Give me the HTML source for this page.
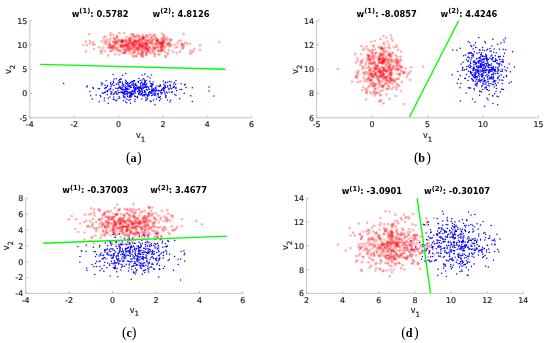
<!DOCTYPE html><html><head><meta charset="utf-8"><style>html,body{margin:0;padding:0;background:#fff;overflow:hidden}svg{display:block}</style></head><body><svg width="550" height="343" viewBox="0 0 550 343">
<defs><filter id="bl" x="-5%" y="-5%" width="110%" height="110%"><feGaussianBlur stdDeviation="0.35"/></filter></defs><rect width="550" height="343" fill="#fff"/>
<g fill="#ff0010" fill-opacity="0.29" filter="url(#bl)">
<circle cx="149.8" cy="40.5" r="1.35"/><circle cx="149.5" cy="51.7" r="1.35"/><circle cx="162.6" cy="42.5" r="1.35"/><circle cx="129.7" cy="41.7" r="1.35"/><circle cx="150.2" cy="43.3" r="1.35"/><circle cx="142.6" cy="41.9" r="1.35"/><circle cx="125.2" cy="45.7" r="1.35"/><circle cx="130.9" cy="41.6" r="1.35"/><circle cx="142.8" cy="46.4" r="1.35"/><circle cx="124.1" cy="46.2" r="1.35"/><circle cx="142.1" cy="46.3" r="1.35"/><circle cx="171.4" cy="39.5" r="1.35"/><circle cx="146.4" cy="54.9" r="1.35"/><circle cx="138.0" cy="47.1" r="1.35"/><circle cx="146.8" cy="43.7" r="1.35"/><circle cx="190.2" cy="50.7" r="1.35"/><circle cx="133.3" cy="34.0" r="1.35"/><circle cx="156.7" cy="41.3" r="1.35"/><circle cx="130.2" cy="53.6" r="1.35"/><circle cx="145.8" cy="44.2" r="1.35"/><circle cx="114.0" cy="48.5" r="1.35"/><circle cx="140.3" cy="49.8" r="1.35"/><circle cx="139.7" cy="44.3" r="1.35"/><circle cx="142.7" cy="47.5" r="1.35"/><circle cx="155.5" cy="40.1" r="1.35"/><circle cx="149.2" cy="49.2" r="1.35"/><circle cx="158.6" cy="47.5" r="1.35"/><circle cx="162.0" cy="50.5" r="1.35"/><circle cx="162.8" cy="44.9" r="1.35"/><circle cx="113.5" cy="46.5" r="1.35"/><circle cx="143.2" cy="43.4" r="1.35"/><circle cx="119.6" cy="50.7" r="1.35"/><circle cx="146.5" cy="47.3" r="1.35"/><circle cx="147.3" cy="40.8" r="1.35"/><circle cx="104.4" cy="43.5" r="1.35"/><circle cx="169.8" cy="46.4" r="1.35"/><circle cx="123.5" cy="40.8" r="1.35"/><circle cx="147.7" cy="40.1" r="1.35"/><circle cx="134.1" cy="52.7" r="1.35"/><circle cx="139.4" cy="47.2" r="1.35"/><circle cx="159.6" cy="43.8" r="1.35"/><circle cx="104.8" cy="51.2" r="1.35"/><circle cx="162.1" cy="41.2" r="1.35"/><circle cx="127.3" cy="44.8" r="1.35"/><circle cx="152.1" cy="42.3" r="1.35"/><circle cx="161.9" cy="43.5" r="1.35"/><circle cx="139.8" cy="46.2" r="1.35"/><circle cx="166.0" cy="56.8" r="1.35"/><circle cx="138.8" cy="44.7" r="1.35"/><circle cx="109.5" cy="43.1" r="1.35"/><circle cx="127.1" cy="40.2" r="1.35"/><circle cx="139.1" cy="41.3" r="1.35"/><circle cx="169.7" cy="42.8" r="1.35"/><circle cx="122.0" cy="52.9" r="1.35"/><circle cx="181.9" cy="45.4" r="1.35"/><circle cx="126.2" cy="44.1" r="1.35"/><circle cx="137.6" cy="40.3" r="1.35"/><circle cx="142.7" cy="44.8" r="1.35"/><circle cx="125.7" cy="42.3" r="1.35"/><circle cx="118.4" cy="41.3" r="1.35"/><circle cx="176.7" cy="52.9" r="1.35"/><circle cx="85.7" cy="41.6" r="1.35"/><circle cx="200.0" cy="50.1" r="1.35"/><circle cx="113.4" cy="41.7" r="1.35"/><circle cx="122.8" cy="47.5" r="1.35"/><circle cx="134.0" cy="42.0" r="1.35"/><circle cx="132.7" cy="43.4" r="1.35"/><circle cx="137.9" cy="49.3" r="1.35"/><circle cx="134.6" cy="49.9" r="1.35"/><circle cx="142.1" cy="50.8" r="1.35"/><circle cx="117.0" cy="37.1" r="1.35"/><circle cx="140.7" cy="45.1" r="1.35"/><circle cx="153.6" cy="47.1" r="1.35"/><circle cx="136.7" cy="42.6" r="1.35"/><circle cx="148.4" cy="51.0" r="1.35"/><circle cx="160.9" cy="48.0" r="1.35"/><circle cx="117.9" cy="49.6" r="1.35"/><circle cx="133.0" cy="36.2" r="1.35"/><circle cx="115.2" cy="44.0" r="1.35"/><circle cx="93.2" cy="44.8" r="1.35"/><circle cx="162.4" cy="46.1" r="1.35"/><circle cx="127.6" cy="43.6" r="1.35"/><circle cx="157.9" cy="41.3" r="1.35"/><circle cx="186.9" cy="43.7" r="1.35"/><circle cx="128.4" cy="45.5" r="1.35"/><circle cx="140.3" cy="44.3" r="1.35"/><circle cx="141.3" cy="43.9" r="1.35"/><circle cx="103.9" cy="40.4" r="1.35"/><circle cx="128.8" cy="51.1" r="1.35"/><circle cx="156.5" cy="37.8" r="1.35"/><circle cx="153.2" cy="44.0" r="1.35"/><circle cx="120.7" cy="50.8" r="1.35"/><circle cx="162.0" cy="50.9" r="1.35"/><circle cx="124.2" cy="44.4" r="1.35"/><circle cx="106.5" cy="43.9" r="1.35"/><circle cx="131.5" cy="38.3" r="1.35"/><circle cx="163.9" cy="35.7" r="1.35"/><circle cx="142.9" cy="53.4" r="1.35"/><circle cx="167.2" cy="43.9" r="1.35"/><circle cx="154.4" cy="50.5" r="1.35"/><circle cx="183.6" cy="34.1" r="1.35"/><circle cx="117.7" cy="42.8" r="1.35"/><circle cx="126.6" cy="45.0" r="1.35"/><circle cx="113.1" cy="34.9" r="1.35"/><circle cx="119.9" cy="46.4" r="1.35"/><circle cx="153.4" cy="48.3" r="1.35"/><circle cx="136.5" cy="47.8" r="1.35"/><circle cx="138.9" cy="51.0" r="1.35"/><circle cx="132.0" cy="45.9" r="1.35"/><circle cx="134.3" cy="44.5" r="1.35"/><circle cx="135.3" cy="40.8" r="1.35"/><circle cx="134.6" cy="45.6" r="1.35"/><circle cx="126.8" cy="47.6" r="1.35"/><circle cx="113.1" cy="42.1" r="1.35"/><circle cx="115.9" cy="48.8" r="1.35"/><circle cx="150.1" cy="42.7" r="1.35"/><circle cx="132.8" cy="55.6" r="1.35"/><circle cx="151.5" cy="43.4" r="1.35"/><circle cx="109.8" cy="40.7" r="1.35"/><circle cx="126.0" cy="50.8" r="1.35"/><circle cx="144.1" cy="45.8" r="1.35"/><circle cx="146.6" cy="53.4" r="1.35"/><circle cx="183.2" cy="48.0" r="1.35"/><circle cx="106.9" cy="41.5" r="1.35"/><circle cx="133.9" cy="43.1" r="1.35"/><circle cx="134.2" cy="45.1" r="1.35"/><circle cx="147.5" cy="48.8" r="1.35"/><circle cx="157.4" cy="47.3" r="1.35"/><circle cx="122.1" cy="44.4" r="1.35"/><circle cx="152.1" cy="46.0" r="1.35"/><circle cx="122.3" cy="41.5" r="1.35"/><circle cx="101.8" cy="50.3" r="1.35"/><circle cx="142.8" cy="52.1" r="1.35"/><circle cx="142.6" cy="45.1" r="1.35"/><circle cx="162.4" cy="49.7" r="1.35"/><circle cx="127.7" cy="43.1" r="1.35"/><circle cx="85.9" cy="51.4" r="1.35"/><circle cx="126.0" cy="48.7" r="1.35"/><circle cx="161.6" cy="45.0" r="1.35"/><circle cx="101.4" cy="41.5" r="1.35"/><circle cx="161.4" cy="47.2" r="1.35"/><circle cx="135.5" cy="42.2" r="1.35"/><circle cx="121.2" cy="42.5" r="1.35"/><circle cx="146.5" cy="48.4" r="1.35"/><circle cx="110.2" cy="46.0" r="1.35"/><circle cx="122.0" cy="39.5" r="1.35"/><circle cx="145.2" cy="40.7" r="1.35"/><circle cx="145.0" cy="43.4" r="1.35"/><circle cx="124.1" cy="41.3" r="1.35"/><circle cx="182.6" cy="46.5" r="1.35"/><circle cx="128.4" cy="45.7" r="1.35"/><circle cx="131.0" cy="48.6" r="1.35"/><circle cx="145.1" cy="46.4" r="1.35"/><circle cx="174.7" cy="44.8" r="1.35"/><circle cx="149.3" cy="39.8" r="1.35"/><circle cx="135.1" cy="37.2" r="1.35"/><circle cx="127.5" cy="49.1" r="1.35"/><circle cx="133.6" cy="45.4" r="1.35"/><circle cx="110.0" cy="45.0" r="1.35"/><circle cx="103.9" cy="37.4" r="1.35"/><circle cx="140.1" cy="48.2" r="1.35"/><circle cx="121.2" cy="46.9" r="1.35"/><circle cx="136.9" cy="50.4" r="1.35"/><circle cx="121.0" cy="45.8" r="1.35"/><circle cx="130.1" cy="39.8" r="1.35"/><circle cx="167.9" cy="44.7" r="1.35"/><circle cx="152.7" cy="51.9" r="1.35"/><circle cx="156.5" cy="45.0" r="1.35"/><circle cx="153.0" cy="36.3" r="1.35"/><circle cx="90.0" cy="43.4" r="1.35"/><circle cx="116.9" cy="41.7" r="1.35"/><circle cx="112.0" cy="47.5" r="1.35"/><circle cx="146.6" cy="41.6" r="1.35"/><circle cx="143.6" cy="49.0" r="1.35"/><circle cx="129.3" cy="40.1" r="1.35"/><circle cx="141.8" cy="53.8" r="1.35"/><circle cx="161.2" cy="42.6" r="1.35"/><circle cx="161.8" cy="46.6" r="1.35"/><circle cx="160.8" cy="50.5" r="1.35"/><circle cx="154.9" cy="47.4" r="1.35"/><circle cx="157.3" cy="39.5" r="1.35"/><circle cx="125.2" cy="45.1" r="1.35"/><circle cx="142.8" cy="38.5" r="1.35"/><circle cx="158.1" cy="51.3" r="1.35"/><circle cx="152.4" cy="40.9" r="1.35"/><circle cx="190.3" cy="53.7" r="1.35"/><circle cx="129.7" cy="37.7" r="1.35"/><circle cx="111.1" cy="51.2" r="1.35"/><circle cx="153.7" cy="39.4" r="1.35"/><circle cx="126.7" cy="42.0" r="1.35"/><circle cx="144.6" cy="36.8" r="1.35"/><circle cx="141.9" cy="39.6" r="1.35"/><circle cx="121.4" cy="45.8" r="1.35"/><circle cx="139.7" cy="38.8" r="1.35"/><circle cx="155.1" cy="48.8" r="1.35"/><circle cx="157.5" cy="40.7" r="1.35"/><circle cx="139.4" cy="46.2" r="1.35"/><circle cx="137.5" cy="53.8" r="1.35"/><circle cx="146.2" cy="43.6" r="1.35"/><circle cx="122.2" cy="40.9" r="1.35"/><circle cx="110.7" cy="47.8" r="1.35"/><circle cx="131.1" cy="34.3" r="1.35"/><circle cx="105.5" cy="41.8" r="1.35"/><circle cx="163.4" cy="42.8" r="1.35"/><circle cx="168.9" cy="50.2" r="1.35"/><circle cx="90.0" cy="40.8" r="1.35"/><circle cx="114.7" cy="46.6" r="1.35"/><circle cx="115.1" cy="39.2" r="1.35"/><circle cx="161.6" cy="48.7" r="1.35"/><circle cx="162.5" cy="44.2" r="1.35"/><circle cx="138.8" cy="44.5" r="1.35"/><circle cx="137.3" cy="41.6" r="1.35"/><circle cx="149.0" cy="46.7" r="1.35"/><circle cx="164.9" cy="48.1" r="1.35"/><circle cx="148.5" cy="42.6" r="1.35"/><circle cx="175.6" cy="47.5" r="1.35"/><circle cx="181.7" cy="43.9" r="1.35"/><circle cx="137.5" cy="48.4" r="1.35"/><circle cx="155.3" cy="44.6" r="1.35"/><circle cx="116.8" cy="50.8" r="1.35"/><circle cx="129.3" cy="48.4" r="1.35"/><circle cx="166.8" cy="37.5" r="1.35"/><circle cx="161.7" cy="42.9" r="1.35"/><circle cx="132.2" cy="44.5" r="1.35"/><circle cx="162.1" cy="33.5" r="1.35"/><circle cx="162.7" cy="46.3" r="1.35"/><circle cx="142.8" cy="47.4" r="1.35"/><circle cx="124.1" cy="45.8" r="1.35"/><circle cx="146.4" cy="35.1" r="1.35"/><circle cx="143.1" cy="37.6" r="1.35"/><circle cx="182.2" cy="44.4" r="1.35"/><circle cx="178.6" cy="41.0" r="1.35"/><circle cx="132.4" cy="43.4" r="1.35"/><circle cx="142.5" cy="46.1" r="1.35"/><circle cx="137.4" cy="44.1" r="1.35"/><circle cx="151.8" cy="49.5" r="1.35"/><circle cx="141.7" cy="52.9" r="1.35"/><circle cx="147.9" cy="41.5" r="1.35"/><circle cx="145.7" cy="43.3" r="1.35"/><circle cx="155.4" cy="48.4" r="1.35"/><circle cx="136.5" cy="42.1" r="1.35"/><circle cx="164.8" cy="42.7" r="1.35"/><circle cx="200.1" cy="45.3" r="1.35"/><circle cx="164.7" cy="38.1" r="1.35"/><circle cx="138.9" cy="49.2" r="1.35"/><circle cx="115.0" cy="44.0" r="1.35"/><circle cx="167.2" cy="43.4" r="1.35"/><circle cx="145.9" cy="46.8" r="1.35"/><circle cx="154.7" cy="56.2" r="1.35"/><circle cx="147.2" cy="44.7" r="1.35"/><circle cx="110.7" cy="33.3" r="1.35"/><circle cx="110.3" cy="50.6" r="1.35"/><circle cx="114.6" cy="38.9" r="1.35"/><circle cx="121.7" cy="41.3" r="1.35"/><circle cx="155.3" cy="43.4" r="1.35"/><circle cx="112.1" cy="48.1" r="1.35"/><circle cx="180.1" cy="51.7" r="1.35"/><circle cx="123.0" cy="45.7" r="1.35"/><circle cx="160.4" cy="43.5" r="1.35"/><circle cx="158.8" cy="50.5" r="1.35"/><circle cx="163.5" cy="41.8" r="1.35"/><circle cx="105.6" cy="36.6" r="1.35"/><circle cx="194.2" cy="48.9" r="1.35"/><circle cx="143.2" cy="37.4" r="1.35"/><circle cx="108.2" cy="55.4" r="1.35"/><circle cx="112.4" cy="47.8" r="1.35"/><circle cx="128.8" cy="41.6" r="1.35"/><circle cx="148.1" cy="51.4" r="1.35"/><circle cx="154.9" cy="34.9" r="1.35"/><circle cx="169.2" cy="39.6" r="1.35"/><circle cx="142.4" cy="39.6" r="1.35"/><circle cx="119.9" cy="40.8" r="1.35"/><circle cx="139.9" cy="38.8" r="1.35"/><circle cx="152.6" cy="50.6" r="1.35"/><circle cx="144.9" cy="38.4" r="1.35"/><circle cx="116.2" cy="47.8" r="1.35"/><circle cx="124.4" cy="52.8" r="1.35"/><circle cx="163.8" cy="37.9" r="1.35"/><circle cx="160.2" cy="43.5" r="1.35"/><circle cx="140.7" cy="43.6" r="1.35"/><circle cx="125.3" cy="40.1" r="1.35"/><circle cx="165.8" cy="39.9" r="1.35"/><circle cx="129.8" cy="44.4" r="1.35"/><circle cx="138.2" cy="35.3" r="1.35"/><circle cx="146.0" cy="54.8" r="1.35"/><circle cx="151.0" cy="34.8" r="1.35"/><circle cx="157.5" cy="40.2" r="1.35"/><circle cx="142.8" cy="55.3" r="1.35"/><circle cx="100.7" cy="51.4" r="1.35"/><circle cx="139.0" cy="43.2" r="1.35"/><circle cx="157.6" cy="46.6" r="1.35"/><circle cx="163.7" cy="46.3" r="1.35"/><circle cx="125.9" cy="40.3" r="1.35"/><circle cx="121.1" cy="46.4" r="1.35"/><circle cx="117.8" cy="44.3" r="1.35"/><circle cx="161.0" cy="46.7" r="1.35"/><circle cx="134.4" cy="52.4" r="1.35"/><circle cx="108.2" cy="47.3" r="1.35"/><circle cx="129.5" cy="38.1" r="1.35"/><circle cx="150.5" cy="53.2" r="1.35"/><circle cx="122.5" cy="41.1" r="1.35"/><circle cx="185.1" cy="42.8" r="1.35"/><circle cx="149.0" cy="34.9" r="1.35"/><circle cx="141.4" cy="46.5" r="1.35"/><circle cx="109.7" cy="47.6" r="1.35"/><circle cx="191.6" cy="52.4" r="1.35"/><circle cx="142.2" cy="52.3" r="1.35"/><circle cx="144.9" cy="40.1" r="1.35"/><circle cx="136.4" cy="40.9" r="1.35"/><circle cx="158.4" cy="42.5" r="1.35"/><circle cx="181.0" cy="40.7" r="1.35"/><circle cx="135.0" cy="48.4" r="1.35"/><circle cx="122.7" cy="42.3" r="1.35"/><circle cx="134.6" cy="41.1" r="1.35"/><circle cx="183.9" cy="46.0" r="1.35"/><circle cx="134.4" cy="35.9" r="1.35"/><circle cx="99.0" cy="47.2" r="1.35"/><circle cx="163.6" cy="49.7" r="1.35"/><circle cx="131.1" cy="46.7" r="1.35"/><circle cx="157.0" cy="44.1" r="1.35"/><circle cx="151.1" cy="41.7" r="1.35"/><circle cx="142.6" cy="38.9" r="1.35"/><circle cx="125.3" cy="52.5" r="1.35"/><circle cx="101.4" cy="53.4" r="1.35"/><circle cx="129.4" cy="39.4" r="1.35"/><circle cx="145.9" cy="48.0" r="1.35"/><circle cx="117.6" cy="47.6" r="1.35"/><circle cx="132.7" cy="47.8" r="1.35"/><circle cx="109.3" cy="47.4" r="1.35"/><circle cx="165.1" cy="56.4" r="1.35"/><circle cx="136.5" cy="56.1" r="1.35"/><circle cx="146.1" cy="48.8" r="1.35"/><circle cx="94.4" cy="44.3" r="1.35"/><circle cx="183.3" cy="44.2" r="1.35"/><circle cx="168.4" cy="45.2" r="1.35"/><circle cx="92.8" cy="42.2" r="1.35"/><circle cx="132.4" cy="52.6" r="1.35"/><circle cx="159.8" cy="43.3" r="1.35"/><circle cx="130.0" cy="40.2" r="1.35"/><circle cx="122.1" cy="41.4" r="1.35"/><circle cx="120.5" cy="42.0" r="1.35"/><circle cx="116.9" cy="36.9" r="1.35"/><circle cx="147.7" cy="37.2" r="1.35"/><circle cx="123.2" cy="47.4" r="1.35"/><circle cx="161.1" cy="49.6" r="1.35"/><circle cx="117.6" cy="39.3" r="1.35"/><circle cx="152.5" cy="39.6" r="1.35"/><circle cx="134.9" cy="41.8" r="1.35"/><circle cx="125.3" cy="52.1" r="1.35"/><circle cx="103.3" cy="47.8" r="1.35"/><circle cx="129.4" cy="48.2" r="1.35"/><circle cx="141.3" cy="55.4" r="1.35"/><circle cx="129.8" cy="43.3" r="1.35"/><circle cx="128.7" cy="49.5" r="1.35"/><circle cx="89.3" cy="34.1" r="1.35"/><circle cx="116.8" cy="35.9" r="1.35"/><circle cx="177.5" cy="43.4" r="1.35"/><circle cx="128.9" cy="44.1" r="1.35"/><circle cx="115.7" cy="43.4" r="1.35"/><circle cx="142.0" cy="42.0" r="1.35"/><circle cx="163.6" cy="35.6" r="1.35"/><circle cx="133.1" cy="39.3" r="1.35"/><circle cx="123.9" cy="49.6" r="1.35"/><circle cx="127.9" cy="50.0" r="1.35"/><circle cx="164.3" cy="39.9" r="1.35"/><circle cx="170.9" cy="45.0" r="1.35"/><circle cx="148.2" cy="47.9" r="1.35"/><circle cx="115.7" cy="42.5" r="1.35"/><circle cx="148.0" cy="50.7" r="1.35"/><circle cx="155.3" cy="54.1" r="1.35"/><circle cx="137.9" cy="48.2" r="1.35"/><circle cx="129.9" cy="50.6" r="1.35"/><circle cx="163.6" cy="41.8" r="1.35"/><circle cx="168.9" cy="44.1" r="1.35"/><circle cx="112.4" cy="46.8" r="1.35"/><circle cx="114.8" cy="42.5" r="1.35"/><circle cx="169.2" cy="43.1" r="1.35"/><circle cx="128.0" cy="46.9" r="1.35"/><circle cx="146.3" cy="52.6" r="1.35"/><circle cx="145.0" cy="43.9" r="1.35"/><circle cx="129.2" cy="47.1" r="1.35"/><circle cx="145.4" cy="49.3" r="1.35"/><circle cx="122.8" cy="40.8" r="1.35"/><circle cx="146.6" cy="36.0" r="1.35"/><circle cx="119.0" cy="54.4" r="1.35"/><circle cx="162.9" cy="39.9" r="1.35"/><circle cx="124.6" cy="52.8" r="1.35"/><circle cx="140.3" cy="54.3" r="1.35"/><circle cx="133.5" cy="56.6" r="1.35"/><circle cx="135.8" cy="56.3" r="1.35"/><circle cx="135.8" cy="36.9" r="1.35"/><circle cx="135.1" cy="40.9" r="1.35"/><circle cx="126.5" cy="49.8" r="1.35"/><circle cx="107.0" cy="39.5" r="1.35"/><circle cx="139.7" cy="36.4" r="1.35"/><circle cx="114.1" cy="46.2" r="1.35"/><circle cx="142.8" cy="37.6" r="1.35"/><circle cx="182.4" cy="48.5" r="1.35"/><circle cx="115.0" cy="54.3" r="1.35"/><circle cx="171.3" cy="45.6" r="1.35"/><circle cx="126.0" cy="45.4" r="1.35"/><circle cx="159.8" cy="54.3" r="1.35"/><circle cx="162.1" cy="43.0" r="1.35"/><circle cx="144.2" cy="50.4" r="1.35"/><circle cx="154.1" cy="35.7" r="1.35"/><circle cx="112.8" cy="45.0" r="1.35"/><circle cx="130.8" cy="43.2" r="1.35"/><circle cx="141.0" cy="45.9" r="1.35"/><circle cx="120.6" cy="45.2" r="1.35"/><circle cx="126.7" cy="45.9" r="1.35"/><circle cx="139.3" cy="41.6" r="1.35"/><circle cx="127.4" cy="46.8" r="1.35"/><circle cx="165.1" cy="46.3" r="1.35"/><circle cx="134.7" cy="40.5" r="1.35"/><circle cx="146.9" cy="44.6" r="1.35"/><circle cx="145.7" cy="51.7" r="1.35"/><circle cx="151.2" cy="38.1" r="1.35"/><circle cx="154.0" cy="53.4" r="1.35"/><circle cx="147.3" cy="49.9" r="1.35"/><circle cx="135.7" cy="44.4" r="1.35"/><circle cx="113.7" cy="38.0" r="1.35"/><circle cx="139.4" cy="40.8" r="1.35"/><circle cx="155.5" cy="37.9" r="1.35"/><circle cx="168.2" cy="52.9" r="1.35"/><circle cx="142.0" cy="56.4" r="1.35"/><circle cx="130.9" cy="41.2" r="1.35"/><circle cx="161.9" cy="38.2" r="1.35"/><circle cx="132.6" cy="43.3" r="1.35"/><circle cx="143.4" cy="38.3" r="1.35"/><circle cx="177.4" cy="46.9" r="1.35"/><circle cx="83.3" cy="45.0" r="1.35"/><circle cx="132.8" cy="41.8" r="1.35"/><circle cx="158.5" cy="42.1" r="1.35"/><circle cx="126.4" cy="37.2" r="1.35"/><circle cx="142.5" cy="36.8" r="1.35"/><circle cx="173.1" cy="51.7" r="1.35"/><circle cx="119.1" cy="50.3" r="1.35"/><circle cx="147.1" cy="44.7" r="1.35"/><circle cx="147.6" cy="49.3" r="1.35"/><circle cx="151.2" cy="37.5" r="1.35"/><circle cx="111.1" cy="46.0" r="1.35"/><circle cx="147.2" cy="45.6" r="1.35"/><circle cx="137.1" cy="35.5" r="1.35"/><circle cx="170.8" cy="40.4" r="1.35"/><circle cx="124.2" cy="33.0" r="1.35"/><circle cx="149.8" cy="48.0" r="1.35"/><circle cx="133.9" cy="47.5" r="1.35"/><circle cx="189.9" cy="43.8" r="1.35"/><circle cx="143.1" cy="56.3" r="1.35"/><circle cx="158.4" cy="50.5" r="1.35"/><circle cx="115.9" cy="41.6" r="1.35"/><circle cx="122.0" cy="40.5" r="1.35"/><circle cx="167.2" cy="54.4" r="1.35"/><circle cx="138.5" cy="53.3" r="1.35"/><circle cx="140.2" cy="40.1" r="1.35"/><circle cx="110.6" cy="35.3" r="1.35"/><circle cx="134.5" cy="51.2" r="1.35"/><circle cx="138.8" cy="40.7" r="1.35"/><circle cx="110.2" cy="44.9" r="1.35"/><circle cx="110.3" cy="38.5" r="1.35"/><circle cx="145.1" cy="47.2" r="1.35"/><circle cx="165.1" cy="51.8" r="1.35"/><circle cx="132.6" cy="35.1" r="1.35"/><circle cx="138.7" cy="37.7" r="1.35"/><circle cx="145.9" cy="48.6" r="1.35"/><circle cx="135.9" cy="44.5" r="1.35"/><circle cx="132.1" cy="49.3" r="1.35"/><circle cx="123.7" cy="52.8" r="1.35"/><circle cx="144.0" cy="42.9" r="1.35"/><circle cx="158.5" cy="54.5" r="1.35"/><circle cx="159.8" cy="45.0" r="1.35"/><circle cx="108.9" cy="44.4" r="1.35"/><circle cx="160.0" cy="42.2" r="1.35"/><circle cx="158.0" cy="39.9" r="1.35"/><circle cx="161.8" cy="45.1" r="1.35"/><circle cx="94.0" cy="49.0" r="1.35"/><circle cx="149.6" cy="47.4" r="1.35"/><circle cx="157.1" cy="40.7" r="1.35"/><circle cx="142.6" cy="35.0" r="1.35"/><circle cx="119.3" cy="40.0" r="1.35"/><circle cx="130.7" cy="49.1" r="1.35"/><circle cx="154.9" cy="48.2" r="1.35"/><circle cx="161.1" cy="51.1" r="1.35"/><circle cx="142.3" cy="49.4" r="1.35"/><circle cx="136.1" cy="46.9" r="1.35"/><circle cx="115.8" cy="41.4" r="1.35"/><circle cx="113.1" cy="50.1" r="1.35"/><circle cx="161.8" cy="39.8" r="1.35"/><circle cx="156.7" cy="43.1" r="1.35"/><circle cx="193.4" cy="51.3" r="1.35"/><circle cx="124.6" cy="50.2" r="1.35"/><circle cx="162.0" cy="43.4" r="1.35"/><circle cx="166.9" cy="39.8" r="1.35"/><circle cx="136.4" cy="49.3" r="1.35"/><circle cx="119.0" cy="33.2" r="1.35"/><circle cx="163.6" cy="41.8" r="1.35"/><circle cx="133.9" cy="46.0" r="1.35"/><circle cx="133.8" cy="46.6" r="1.35"/><circle cx="86.8" cy="45.2" r="1.35"/><circle cx="132.9" cy="43.4" r="1.35"/><circle cx="219.2" cy="42.1" r="1.35"/>
</g>
<g fill="#0000ff" filter="url(#bl)">
<circle cx="142.5" cy="92.2" r="0.74"/><circle cx="130.5" cy="103.3" r="0.74"/><circle cx="174.6" cy="82.6" r="0.74"/><circle cx="132.2" cy="84.8" r="0.74"/><circle cx="144.3" cy="92.4" r="0.74"/><circle cx="158.2" cy="91.0" r="0.74"/><circle cx="132.2" cy="93.8" r="0.74"/><circle cx="147.8" cy="89.8" r="0.74"/><circle cx="149.6" cy="92.7" r="0.74"/><circle cx="141.2" cy="94.4" r="0.74"/><circle cx="155.5" cy="88.1" r="0.74"/><circle cx="145.3" cy="86.8" r="0.74"/><circle cx="118.6" cy="84.7" r="0.74"/><circle cx="179.7" cy="98.7" r="0.74"/><circle cx="104.3" cy="97.9" r="0.74"/><circle cx="155.5" cy="88.5" r="0.74"/><circle cx="160.2" cy="85.0" r="0.74"/><circle cx="142.9" cy="87.6" r="0.74"/><circle cx="135.3" cy="84.2" r="0.74"/><circle cx="116.2" cy="91.7" r="0.74"/><circle cx="143.6" cy="78.8" r="0.74"/><circle cx="123.5" cy="95.5" r="0.74"/><circle cx="127.5" cy="83.6" r="0.74"/><circle cx="134.0" cy="81.6" r="0.74"/><circle cx="101.4" cy="82.7" r="0.74"/><circle cx="159.3" cy="97.4" r="0.74"/><circle cx="141.8" cy="82.2" r="0.74"/><circle cx="140.5" cy="83.4" r="0.74"/><circle cx="186.0" cy="87.6" r="0.74"/><circle cx="133.1" cy="93.7" r="0.74"/><circle cx="151.6" cy="90.4" r="0.74"/><circle cx="135.2" cy="89.8" r="0.74"/><circle cx="151.7" cy="95.4" r="0.74"/><circle cx="108.3" cy="103.3" r="0.74"/><circle cx="162.6" cy="88.8" r="0.74"/><circle cx="168.8" cy="89.3" r="0.74"/><circle cx="123.9" cy="86.5" r="0.74"/><circle cx="137.2" cy="96.5" r="0.74"/><circle cx="121.1" cy="79.0" r="0.74"/><circle cx="145.8" cy="86.8" r="0.74"/><circle cx="133.2" cy="93.2" r="0.74"/><circle cx="156.5" cy="89.8" r="0.74"/><circle cx="123.6" cy="90.0" r="0.74"/><circle cx="120.7" cy="88.1" r="0.74"/><circle cx="161.2" cy="94.1" r="0.74"/><circle cx="167.2" cy="93.1" r="0.74"/><circle cx="141.8" cy="94.1" r="0.74"/><circle cx="134.3" cy="88.9" r="0.74"/><circle cx="130.1" cy="93.3" r="0.74"/><circle cx="125.2" cy="94.0" r="0.74"/><circle cx="107.5" cy="90.7" r="0.74"/><circle cx="146.7" cy="84.0" r="0.74"/><circle cx="151.6" cy="75.0" r="0.74"/><circle cx="145.1" cy="91.9" r="0.74"/><circle cx="176.0" cy="95.3" r="0.74"/><circle cx="158.0" cy="94.7" r="0.74"/><circle cx="145.8" cy="100.6" r="0.74"/><circle cx="156.6" cy="90.1" r="0.74"/><circle cx="119.5" cy="79.5" r="0.74"/><circle cx="154.0" cy="89.0" r="0.74"/><circle cx="123.9" cy="89.5" r="0.74"/><circle cx="135.5" cy="85.0" r="0.74"/><circle cx="154.6" cy="93.1" r="0.74"/><circle cx="127.8" cy="92.3" r="0.74"/><circle cx="111.9" cy="92.6" r="0.74"/><circle cx="136.9" cy="85.2" r="0.74"/><circle cx="165.0" cy="93.9" r="0.74"/><circle cx="149.7" cy="91.8" r="0.74"/><circle cx="180.0" cy="89.5" r="0.74"/><circle cx="148.7" cy="94.6" r="0.74"/><circle cx="122.6" cy="88.1" r="0.74"/><circle cx="131.1" cy="87.2" r="0.74"/><circle cx="107.6" cy="85.4" r="0.74"/><circle cx="120.8" cy="79.3" r="0.74"/><circle cx="133.0" cy="82.9" r="0.74"/><circle cx="110.9" cy="86.7" r="0.74"/><circle cx="121.0" cy="92.0" r="0.74"/><circle cx="139.2" cy="91.1" r="0.74"/><circle cx="144.0" cy="84.9" r="0.74"/><circle cx="151.7" cy="89.7" r="0.74"/><circle cx="111.6" cy="93.9" r="0.74"/><circle cx="134.8" cy="101.5" r="0.74"/><circle cx="153.7" cy="90.6" r="0.74"/><circle cx="133.7" cy="83.7" r="0.74"/><circle cx="152.0" cy="87.9" r="0.74"/><circle cx="118.8" cy="87.4" r="0.74"/><circle cx="145.6" cy="94.3" r="0.74"/><circle cx="159.5" cy="86.3" r="0.74"/><circle cx="99.5" cy="88.5" r="0.74"/><circle cx="113.5" cy="82.7" r="0.74"/><circle cx="154.8" cy="95.6" r="0.74"/><circle cx="121.1" cy="88.6" r="0.74"/><circle cx="134.0" cy="80.4" r="0.74"/><circle cx="153.5" cy="90.9" r="0.74"/><circle cx="150.2" cy="101.0" r="0.74"/><circle cx="144.9" cy="84.2" r="0.74"/><circle cx="135.2" cy="93.3" r="0.74"/><circle cx="150.0" cy="77.9" r="0.74"/><circle cx="142.8" cy="95.7" r="0.74"/><circle cx="167.5" cy="100.1" r="0.74"/><circle cx="148.7" cy="92.6" r="0.74"/><circle cx="157.2" cy="94.1" r="0.74"/><circle cx="165.1" cy="87.5" r="0.74"/><circle cx="104.3" cy="100.6" r="0.74"/><circle cx="132.4" cy="81.7" r="0.74"/><circle cx="141.2" cy="88.8" r="0.74"/><circle cx="134.0" cy="85.0" r="0.74"/><circle cx="146.2" cy="87.6" r="0.74"/><circle cx="119.1" cy="82.4" r="0.74"/><circle cx="165.9" cy="96.7" r="0.74"/><circle cx="184.5" cy="85.0" r="0.74"/><circle cx="129.0" cy="100.2" r="0.74"/><circle cx="151.8" cy="86.0" r="0.74"/><circle cx="126.9" cy="99.6" r="0.74"/><circle cx="161.1" cy="92.6" r="0.74"/><circle cx="129.3" cy="83.4" r="0.74"/><circle cx="181.1" cy="83.7" r="0.74"/><circle cx="129.6" cy="85.5" r="0.74"/><circle cx="93.3" cy="88.6" r="0.74"/><circle cx="123.6" cy="96.7" r="0.74"/><circle cx="107.2" cy="86.2" r="0.74"/><circle cx="140.5" cy="88.3" r="0.74"/><circle cx="155.5" cy="94.1" r="0.74"/><circle cx="114.1" cy="99.5" r="0.74"/><circle cx="132.0" cy="84.8" r="0.74"/><circle cx="135.7" cy="85.5" r="0.74"/><circle cx="115.2" cy="91.9" r="0.74"/><circle cx="123.5" cy="96.4" r="0.74"/><circle cx="175.7" cy="84.3" r="0.74"/><circle cx="123.5" cy="93.6" r="0.74"/><circle cx="137.6" cy="97.6" r="0.74"/><circle cx="147.4" cy="96.7" r="0.74"/><circle cx="131.3" cy="95.1" r="0.74"/><circle cx="129.2" cy="96.9" r="0.74"/><circle cx="107.4" cy="94.8" r="0.74"/><circle cx="125.2" cy="90.9" r="0.74"/><circle cx="140.1" cy="80.4" r="0.74"/><circle cx="154.9" cy="90.7" r="0.74"/><circle cx="153.2" cy="93.2" r="0.74"/><circle cx="167.6" cy="86.0" r="0.74"/><circle cx="111.7" cy="84.9" r="0.74"/><circle cx="155.0" cy="104.7" r="0.74"/><circle cx="123.8" cy="92.0" r="0.74"/><circle cx="100.3" cy="95.4" r="0.74"/><circle cx="119.8" cy="86.3" r="0.74"/><circle cx="144.7" cy="74.0" r="0.74"/><circle cx="130.9" cy="82.6" r="0.74"/><circle cx="140.3" cy="87.7" r="0.74"/><circle cx="115.6" cy="100.3" r="0.74"/><circle cx="123.4" cy="84.8" r="0.74"/><circle cx="170.2" cy="85.7" r="0.74"/><circle cx="148.6" cy="94.1" r="0.74"/><circle cx="169.3" cy="81.5" r="0.74"/><circle cx="128.1" cy="89.5" r="0.74"/><circle cx="118.9" cy="80.7" r="0.74"/><circle cx="146.8" cy="89.8" r="0.74"/><circle cx="146.8" cy="86.7" r="0.74"/><circle cx="130.5" cy="96.4" r="0.74"/><circle cx="113.2" cy="99.3" r="0.74"/><circle cx="147.9" cy="76.4" r="0.74"/><circle cx="104.9" cy="88.4" r="0.74"/><circle cx="146.9" cy="94.9" r="0.74"/><circle cx="142.8" cy="95.6" r="0.74"/><circle cx="162.6" cy="92.7" r="0.74"/><circle cx="140.7" cy="85.3" r="0.74"/><circle cx="130.2" cy="99.6" r="0.74"/><circle cx="128.1" cy="84.8" r="0.74"/><circle cx="137.0" cy="87.9" r="0.74"/><circle cx="117.2" cy="88.4" r="0.74"/><circle cx="153.2" cy="89.0" r="0.74"/><circle cx="176.7" cy="90.4" r="0.74"/><circle cx="118.0" cy="98.6" r="0.74"/><circle cx="161.7" cy="89.6" r="0.74"/><circle cx="158.9" cy="86.6" r="0.74"/><circle cx="171.1" cy="81.9" r="0.74"/><circle cx="131.2" cy="87.6" r="0.74"/><circle cx="160.3" cy="96.4" r="0.74"/><circle cx="167.6" cy="82.2" r="0.74"/><circle cx="158.3" cy="90.4" r="0.74"/><circle cx="144.7" cy="95.7" r="0.74"/><circle cx="139.9" cy="92.6" r="0.74"/><circle cx="140.4" cy="92.1" r="0.74"/><circle cx="144.4" cy="82.4" r="0.74"/><circle cx="112.6" cy="83.9" r="0.74"/><circle cx="99.1" cy="101.7" r="0.74"/><circle cx="136.3" cy="89.2" r="0.74"/><circle cx="147.5" cy="98.7" r="0.74"/><circle cx="137.5" cy="88.5" r="0.74"/><circle cx="163.7" cy="89.8" r="0.74"/><circle cx="149.2" cy="94.9" r="0.74"/><circle cx="135.0" cy="91.8" r="0.74"/><circle cx="152.7" cy="94.9" r="0.74"/><circle cx="122.1" cy="85.9" r="0.74"/><circle cx="174.3" cy="87.0" r="0.74"/><circle cx="144.8" cy="91.2" r="0.74"/><circle cx="160.4" cy="86.1" r="0.74"/><circle cx="173.2" cy="87.3" r="0.74"/><circle cx="119.8" cy="92.5" r="0.74"/><circle cx="119.1" cy="96.5" r="0.74"/><circle cx="163.9" cy="84.6" r="0.74"/><circle cx="114.1" cy="78.9" r="0.74"/><circle cx="143.6" cy="94.8" r="0.74"/><circle cx="146.4" cy="89.6" r="0.74"/><circle cx="123.3" cy="100.5" r="0.74"/><circle cx="139.4" cy="87.5" r="0.74"/><circle cx="87.4" cy="86.0" r="0.74"/><circle cx="151.0" cy="91.9" r="0.74"/><circle cx="140.9" cy="90.8" r="0.74"/><circle cx="122.1" cy="91.3" r="0.74"/><circle cx="165.6" cy="97.6" r="0.74"/><circle cx="143.4" cy="88.2" r="0.74"/><circle cx="124.6" cy="91.8" r="0.74"/><circle cx="110.8" cy="94.1" r="0.74"/><circle cx="139.0" cy="87.3" r="0.74"/><circle cx="120.8" cy="87.9" r="0.74"/><circle cx="127.4" cy="88.5" r="0.74"/><circle cx="134.1" cy="91.5" r="0.74"/><circle cx="164.6" cy="92.0" r="0.74"/><circle cx="165.3" cy="82.6" r="0.74"/><circle cx="117.9" cy="83.2" r="0.74"/><circle cx="125.8" cy="73.4" r="0.74"/><circle cx="131.0" cy="94.7" r="0.74"/><circle cx="100.7" cy="96.7" r="0.74"/><circle cx="127.2" cy="95.0" r="0.74"/><circle cx="114.3" cy="93.2" r="0.74"/><circle cx="134.6" cy="80.8" r="0.74"/><circle cx="104.8" cy="92.4" r="0.74"/><circle cx="119.7" cy="98.0" r="0.74"/><circle cx="113.5" cy="94.5" r="0.74"/><circle cx="153.0" cy="90.3" r="0.74"/><circle cx="128.0" cy="85.7" r="0.74"/><circle cx="144.3" cy="90.5" r="0.74"/><circle cx="146.4" cy="94.0" r="0.74"/><circle cx="151.2" cy="86.5" r="0.74"/><circle cx="130.5" cy="96.3" r="0.74"/><circle cx="169.0" cy="88.7" r="0.74"/><circle cx="131.1" cy="93.0" r="0.74"/><circle cx="155.7" cy="91.7" r="0.74"/><circle cx="143.8" cy="84.4" r="0.74"/><circle cx="122.8" cy="89.8" r="0.74"/><circle cx="141.9" cy="88.6" r="0.74"/><circle cx="150.6" cy="83.3" r="0.74"/><circle cx="155.3" cy="87.7" r="0.74"/><circle cx="131.8" cy="95.8" r="0.74"/><circle cx="124.1" cy="92.3" r="0.74"/><circle cx="152.3" cy="91.3" r="0.74"/><circle cx="114.0" cy="85.6" r="0.74"/><circle cx="122.7" cy="93.6" r="0.74"/><circle cx="134.2" cy="86.5" r="0.74"/><circle cx="90.7" cy="95.7" r="0.74"/><circle cx="142.2" cy="91.3" r="0.74"/><circle cx="121.5" cy="92.4" r="0.74"/><circle cx="166.3" cy="91.9" r="0.74"/><circle cx="152.9" cy="84.6" r="0.74"/><circle cx="129.8" cy="86.7" r="0.74"/><circle cx="129.8" cy="92.8" r="0.74"/><circle cx="116.3" cy="84.2" r="0.74"/><circle cx="130.8" cy="92.4" r="0.74"/><circle cx="116.3" cy="78.8" r="0.74"/><circle cx="153.5" cy="90.0" r="0.74"/><circle cx="124.9" cy="98.1" r="0.74"/><circle cx="144.5" cy="87.6" r="0.74"/><circle cx="110.7" cy="82.5" r="0.74"/><circle cx="154.2" cy="94.8" r="0.74"/><circle cx="127.7" cy="91.7" r="0.74"/><circle cx="141.9" cy="90.1" r="0.74"/><circle cx="106.1" cy="80.7" r="0.74"/><circle cx="145.0" cy="81.9" r="0.74"/><circle cx="163.7" cy="90.4" r="0.74"/><circle cx="145.5" cy="85.0" r="0.74"/><circle cx="154.0" cy="90.2" r="0.74"/><circle cx="126.4" cy="89.0" r="0.74"/><circle cx="122.8" cy="92.4" r="0.74"/><circle cx="98.3" cy="88.7" r="0.74"/><circle cx="118.3" cy="92.4" r="0.74"/><circle cx="137.7" cy="87.4" r="0.74"/><circle cx="176.3" cy="88.0" r="0.74"/><circle cx="110.6" cy="88.5" r="0.74"/><circle cx="126.9" cy="86.9" r="0.74"/><circle cx="125.1" cy="93.3" r="0.74"/><circle cx="128.5" cy="92.8" r="0.74"/><circle cx="102.4" cy="93.1" r="0.74"/><circle cx="138.4" cy="82.3" r="0.74"/><circle cx="132.9" cy="91.4" r="0.74"/><circle cx="150.3" cy="86.1" r="0.74"/><circle cx="170.6" cy="85.8" r="0.74"/><circle cx="138.3" cy="81.5" r="0.74"/><circle cx="169.2" cy="92.0" r="0.74"/><circle cx="141.9" cy="98.9" r="0.74"/><circle cx="131.5" cy="94.3" r="0.74"/><circle cx="134.5" cy="92.0" r="0.74"/><circle cx="135.4" cy="89.8" r="0.74"/><circle cx="148.5" cy="87.9" r="0.74"/><circle cx="127.5" cy="96.7" r="0.74"/><circle cx="163.3" cy="81.0" r="0.74"/><circle cx="129.7" cy="86.0" r="0.74"/><circle cx="108.3" cy="98.3" r="0.74"/><circle cx="133.3" cy="80.7" r="0.74"/><circle cx="117.9" cy="94.0" r="0.74"/><circle cx="170.7" cy="100.2" r="0.74"/><circle cx="151.6" cy="86.4" r="0.74"/><circle cx="134.6" cy="88.1" r="0.74"/><circle cx="190.9" cy="95.7" r="0.74"/><circle cx="132.5" cy="90.6" r="0.74"/><circle cx="125.0" cy="97.0" r="0.74"/><circle cx="170.4" cy="88.0" r="0.74"/><circle cx="103.7" cy="93.3" r="0.74"/><circle cx="146.8" cy="86.9" r="0.74"/><circle cx="110.0" cy="89.8" r="0.74"/><circle cx="143.9" cy="87.0" r="0.74"/><circle cx="146.6" cy="99.8" r="0.74"/><circle cx="175.5" cy="88.0" r="0.74"/><circle cx="174.7" cy="94.4" r="0.74"/><circle cx="135.5" cy="96.4" r="0.74"/><circle cx="155.9" cy="90.3" r="0.74"/><circle cx="129.7" cy="95.2" r="0.74"/><circle cx="172.3" cy="91.8" r="0.74"/><circle cx="110.9" cy="91.8" r="0.74"/><circle cx="115.7" cy="88.3" r="0.74"/><circle cx="130.4" cy="95.3" r="0.74"/><circle cx="150.7" cy="92.9" r="0.74"/><circle cx="153.1" cy="81.9" r="0.74"/><circle cx="131.5" cy="93.0" r="0.74"/><circle cx="142.7" cy="84.1" r="0.74"/><circle cx="138.7" cy="88.4" r="0.74"/><circle cx="138.2" cy="87.4" r="0.74"/><circle cx="151.2" cy="93.3" r="0.74"/><circle cx="129.1" cy="89.0" r="0.74"/><circle cx="125.5" cy="88.4" r="0.74"/><circle cx="149.4" cy="89.3" r="0.74"/><circle cx="126.7" cy="93.7" r="0.74"/><circle cx="173.6" cy="84.1" r="0.74"/><circle cx="116.4" cy="94.1" r="0.74"/><circle cx="176.0" cy="80.5" r="0.74"/><circle cx="141.3" cy="82.5" r="0.74"/><circle cx="109.1" cy="89.2" r="0.74"/><circle cx="153.5" cy="100.0" r="0.74"/><circle cx="123.1" cy="84.7" r="0.74"/><circle cx="161.2" cy="92.7" r="0.74"/><circle cx="144.5" cy="80.0" r="0.74"/><circle cx="131.1" cy="96.9" r="0.74"/><circle cx="137.5" cy="91.5" r="0.74"/><circle cx="164.6" cy="88.3" r="0.74"/><circle cx="122.7" cy="75.3" r="0.74"/><circle cx="128.8" cy="86.5" r="0.74"/><circle cx="152.2" cy="84.7" r="0.74"/><circle cx="142.2" cy="85.8" r="0.74"/><circle cx="137.4" cy="97.4" r="0.74"/><circle cx="134.3" cy="90.4" r="0.74"/><circle cx="135.2" cy="88.4" r="0.74"/><circle cx="126.3" cy="81.6" r="0.74"/><circle cx="169.9" cy="101.9" r="0.74"/><circle cx="138.9" cy="93.3" r="0.74"/><circle cx="86.8" cy="86.9" r="0.74"/><circle cx="126.4" cy="91.4" r="0.74"/><circle cx="125.7" cy="82.9" r="0.74"/><circle cx="163.4" cy="87.6" r="0.74"/><circle cx="152.5" cy="89.9" r="0.74"/><circle cx="141.5" cy="93.5" r="0.74"/><circle cx="139.4" cy="93.3" r="0.74"/><circle cx="146.1" cy="84.4" r="0.74"/><circle cx="144.9" cy="82.4" r="0.74"/><circle cx="192.3" cy="101.4" r="0.74"/><circle cx="139.0" cy="92.5" r="0.74"/><circle cx="129.6" cy="97.1" r="0.74"/><circle cx="139.8" cy="90.7" r="0.74"/><circle cx="126.1" cy="90.7" r="0.74"/><circle cx="126.9" cy="102.8" r="0.74"/><circle cx="160.2" cy="91.0" r="0.74"/><circle cx="119.8" cy="87.5" r="0.74"/><circle cx="125.5" cy="101.8" r="0.74"/><circle cx="156.4" cy="98.9" r="0.74"/><circle cx="134.4" cy="88.5" r="0.74"/><circle cx="165.6" cy="82.3" r="0.74"/><circle cx="142.0" cy="93.6" r="0.74"/><circle cx="130.4" cy="82.9" r="0.74"/><circle cx="174.3" cy="86.1" r="0.74"/><circle cx="125.9" cy="83.3" r="0.74"/><circle cx="131.2" cy="91.6" r="0.74"/><circle cx="133.2" cy="85.8" r="0.74"/><circle cx="144.2" cy="83.5" r="0.74"/><circle cx="164.5" cy="86.3" r="0.74"/><circle cx="92.3" cy="99.0" r="0.74"/><circle cx="141.9" cy="89.6" r="0.74"/><circle cx="181.7" cy="89.4" r="0.74"/><circle cx="135.7" cy="83.8" r="0.74"/><circle cx="159.9" cy="90.6" r="0.74"/><circle cx="148.1" cy="95.8" r="0.74"/><circle cx="119.9" cy="82.1" r="0.74"/><circle cx="110.7" cy="83.9" r="0.74"/><circle cx="152.2" cy="84.8" r="0.74"/><circle cx="156.9" cy="86.0" r="0.74"/><circle cx="96.1" cy="95.0" r="0.74"/><circle cx="126.7" cy="83.9" r="0.74"/><circle cx="116.3" cy="93.3" r="0.74"/><circle cx="131.5" cy="81.6" r="0.74"/><circle cx="110.0" cy="97.0" r="0.74"/><circle cx="151.2" cy="101.5" r="0.74"/><circle cx="145.3" cy="91.8" r="0.74"/><circle cx="107.3" cy="91.7" r="0.74"/><circle cx="118.8" cy="88.3" r="0.74"/><circle cx="146.0" cy="80.6" r="0.74"/><circle cx="138.5" cy="88.6" r="0.74"/><circle cx="127.2" cy="89.4" r="0.74"/><circle cx="159.6" cy="100.4" r="0.74"/><circle cx="151.8" cy="92.3" r="0.74"/><circle cx="140.2" cy="87.3" r="0.74"/><circle cx="155.7" cy="87.8" r="0.74"/><circle cx="130.9" cy="87.4" r="0.74"/><circle cx="139.0" cy="90.4" r="0.74"/><circle cx="142.8" cy="84.2" r="0.74"/><circle cx="141.5" cy="88.3" r="0.74"/><circle cx="113.1" cy="90.0" r="0.74"/><circle cx="101.7" cy="85.1" r="0.74"/><circle cx="120.0" cy="81.7" r="0.74"/><circle cx="89.9" cy="91.5" r="0.74"/><circle cx="165.2" cy="86.9" r="0.74"/><circle cx="127.6" cy="94.1" r="0.74"/><circle cx="149.9" cy="81.2" r="0.74"/><circle cx="145.8" cy="98.0" r="0.74"/><circle cx="118.0" cy="90.5" r="0.74"/><circle cx="165.7" cy="87.6" r="0.74"/><circle cx="145.2" cy="82.2" r="0.74"/><circle cx="134.6" cy="89.7" r="0.74"/><circle cx="135.1" cy="99.5" r="0.74"/><circle cx="148.0" cy="86.8" r="0.74"/><circle cx="158.1" cy="96.1" r="0.74"/><circle cx="122.5" cy="83.8" r="0.74"/><circle cx="145.1" cy="81.3" r="0.74"/><circle cx="121.5" cy="88.1" r="0.74"/><circle cx="125.3" cy="87.4" r="0.74"/><circle cx="129.1" cy="86.1" r="0.74"/><circle cx="160.2" cy="85.3" r="0.74"/><circle cx="102.7" cy="83.8" r="0.74"/><circle cx="147.6" cy="95.3" r="0.74"/><circle cx="121.1" cy="89.2" r="0.74"/><circle cx="150.1" cy="91.8" r="0.74"/><circle cx="106.4" cy="87.6" r="0.74"/><circle cx="142.1" cy="75.1" r="0.74"/><circle cx="113.1" cy="74.6" r="0.74"/><circle cx="173.5" cy="87.5" r="0.74"/><circle cx="171.7" cy="88.7" r="0.74"/><circle cx="158.2" cy="93.5" r="0.74"/><circle cx="140.3" cy="95.1" r="0.74"/><circle cx="107.3" cy="90.8" r="0.74"/><circle cx="125.6" cy="85.9" r="0.74"/><circle cx="164.0" cy="90.2" r="0.74"/><circle cx="139.9" cy="88.1" r="0.74"/><circle cx="105.3" cy="87.7" r="0.74"/><circle cx="138.9" cy="89.5" r="0.74"/><circle cx="116.8" cy="100.7" r="0.74"/><circle cx="133.7" cy="87.4" r="0.74"/><circle cx="165.4" cy="82.7" r="0.74"/><circle cx="167.7" cy="87.1" r="0.74"/><circle cx="161.7" cy="90.4" r="0.74"/><circle cx="151.2" cy="83.8" r="0.74"/><circle cx="192.3" cy="87.8" r="0.74"/><circle cx="113.4" cy="81.3" r="0.74"/><circle cx="123.0" cy="89.6" r="0.74"/><circle cx="132.9" cy="94.5" r="0.74"/><circle cx="165.3" cy="85.8" r="0.74"/><circle cx="126.5" cy="88.8" r="0.74"/><circle cx="130.1" cy="85.7" r="0.74"/><circle cx="131.2" cy="93.7" r="0.74"/><circle cx="125.9" cy="91.7" r="0.74"/><circle cx="144.5" cy="94.5" r="0.74"/><circle cx="136.9" cy="86.7" r="0.74"/><circle cx="185.3" cy="84.3" r="0.74"/><circle cx="129.4" cy="92.2" r="0.74"/><circle cx="130.8" cy="87.4" r="0.74"/><circle cx="170.0" cy="84.9" r="0.74"/><circle cx="92.9" cy="87.4" r="0.74"/><circle cx="140.9" cy="86.8" r="0.74"/><circle cx="165.8" cy="95.5" r="0.74"/><circle cx="160.7" cy="98.8" r="0.74"/><circle cx="139.7" cy="87.0" r="0.74"/><circle cx="184.2" cy="93.3" r="0.74"/><circle cx="105.0" cy="85.3" r="0.74"/><circle cx="125.6" cy="80.2" r="0.74"/><circle cx="124.6" cy="94.3" r="0.74"/><circle cx="163.5" cy="88.7" r="0.74"/><circle cx="158.6" cy="97.5" r="0.74"/><circle cx="171.6" cy="92.6" r="0.74"/><circle cx="155.0" cy="95.0" r="0.74"/><circle cx="107.8" cy="90.7" r="0.74"/><circle cx="142.2" cy="80.1" r="0.74"/><circle cx="145.7" cy="85.1" r="0.74"/><circle cx="151.8" cy="85.2" r="0.74"/><circle cx="122.4" cy="82.0" r="0.74"/><circle cx="135.7" cy="87.7" r="0.74"/><circle cx="127.8" cy="82.5" r="0.74"/><circle cx="113.7" cy="96.9" r="0.74"/><circle cx="134.6" cy="95.9" r="0.74"/><circle cx="152.7" cy="83.9" r="0.74"/><circle cx="123.7" cy="84.7" r="0.74"/><circle cx="125.5" cy="89.5" r="0.74"/><circle cx="138.9" cy="78.4" r="0.74"/><circle cx="138.7" cy="94.5" r="0.74"/><circle cx="120.4" cy="82.3" r="0.74"/><circle cx="105.5" cy="91.9" r="0.74"/><circle cx="63.7" cy="83.6" r="0.74"/><circle cx="209.1" cy="87.1" r="0.74"/><circle cx="209.0" cy="91.0" r="0.74"/><circle cx="213.8" cy="96.0" r="0.74"/>
</g>
<line x1="40" y1="64.4" x2="225.5" y2="69.3" stroke="#00ff00" stroke-width="1.4"/>
<path d="M29.8 20.6V117.8H251.6" fill="none" stroke="#bcbcbc" stroke-width="0.9"/>
<path d="M29.8 117.8v-2.3 M74.2 117.8v-2.3 M118.5 117.8v-2.3 M162.9 117.8v-2.3 M207.2 117.8v-2.3 M251.6 117.8v-2.3 M29.8 117.8h2.3 M29.8 93.5h2.3 M29.8 69.2h2.3 M29.8 44.9h2.3 M29.8 20.6h2.3" stroke="#b4b4b4" stroke-width="0.8"/>
<g font-family="DejaVu Sans, sans-serif" font-size="7.9" fill="#262626" stroke="#262626" stroke-width="0.2"><text x="29.8" y="127.4" text-anchor="middle">-4</text><text x="74.2" y="127.4" text-anchor="middle">-2</text><text x="118.5" y="127.4" text-anchor="middle">0</text><text x="162.9" y="127.4" text-anchor="middle">2</text><text x="207.2" y="127.4" text-anchor="middle">4</text><text x="251.6" y="127.4" text-anchor="middle">6</text><text x="27.3" y="120.7" text-anchor="end">-5</text><text x="27.3" y="96.4" text-anchor="end">0</text><text x="27.3" y="72.1" text-anchor="end">5</text><text x="27.3" y="47.8" text-anchor="end">10</text><text x="27.3" y="23.5" text-anchor="end">15</text></g>
<text x="71.7" y="16.6" font-family="DejaVu Sans, sans-serif" font-weight="bold" font-size="8.3" fill="#000">w<tspan font-size="6.8" dy="-3.4">(1)</tspan><tspan dy="3.4">: 0.5782</tspan></text>
<text x="152.6" y="16.6" font-family="DejaVu Sans, sans-serif" font-weight="bold" font-size="8.3" fill="#000">w<tspan font-size="6.8" dy="-3.4">(2)</tspan><tspan dy="3.4">: 4.8126</tspan></text>
<text x="136.0" y="137.8" font-family="DejaVu Sans, sans-serif" font-size="8.1" fill="#262626" stroke="#262626" stroke-width="0.18">v<tspan font-size="7.1" dy="3.9">1</tspan></text>
<text transform="translate(11.4 74.0) rotate(-90)" font-family="DejaVu Sans, sans-serif" font-size="8.1" fill="#262626" stroke="#262626" stroke-width="0.18">v<tspan font-size="7.1" dy="3.9">2</tspan></text>
<g font-family="Liberation Serif, serif" fill="#000"><text x="125.98" y="162.10" font-size="14">(</text><text x="130.41" y="161.80" font-size="12.2" font-weight="bold">a</text><text x="136.95" y="162.10" font-size="14">)</text></g>
<g fill="#ff0010" fill-opacity="0.29" filter="url(#bl)">
<circle cx="404.2" cy="104.1" r="1.35"/><circle cx="385.8" cy="77.5" r="1.35"/><circle cx="375.9" cy="72.8" r="1.35"/><circle cx="358.1" cy="73.0" r="1.35"/><circle cx="371.2" cy="83.3" r="1.35"/><circle cx="383.6" cy="74.6" r="1.35"/><circle cx="377.8" cy="78.9" r="1.35"/><circle cx="369.1" cy="75.2" r="1.35"/><circle cx="386.5" cy="73.1" r="1.35"/><circle cx="391.9" cy="72.6" r="1.35"/><circle cx="381.3" cy="49.2" r="1.35"/><circle cx="387.2" cy="76.7" r="1.35"/><circle cx="379.0" cy="62.7" r="1.35"/><circle cx="403.0" cy="73.5" r="1.35"/><circle cx="378.3" cy="56.5" r="1.35"/><circle cx="371.0" cy="73.8" r="1.35"/><circle cx="391.1" cy="62.2" r="1.35"/><circle cx="382.1" cy="61.0" r="1.35"/><circle cx="369.3" cy="56.3" r="1.35"/><circle cx="370.1" cy="92.2" r="1.35"/><circle cx="384.2" cy="60.6" r="1.35"/><circle cx="376.0" cy="84.3" r="1.35"/><circle cx="381.3" cy="70.6" r="1.35"/><circle cx="397.0" cy="59.9" r="1.35"/><circle cx="383.2" cy="55.1" r="1.35"/><circle cx="378.7" cy="82.3" r="1.35"/><circle cx="387.7" cy="62.1" r="1.35"/><circle cx="378.6" cy="80.4" r="1.35"/><circle cx="383.6" cy="103.3" r="1.35"/><circle cx="388.9" cy="63.4" r="1.35"/><circle cx="362.4" cy="69.1" r="1.35"/><circle cx="370.1" cy="59.8" r="1.35"/><circle cx="357.9" cy="82.2" r="1.35"/><circle cx="389.1" cy="54.5" r="1.35"/><circle cx="356.5" cy="76.6" r="1.35"/><circle cx="384.8" cy="78.1" r="1.35"/><circle cx="399.1" cy="85.9" r="1.35"/><circle cx="385.1" cy="84.0" r="1.35"/><circle cx="397.0" cy="70.2" r="1.35"/><circle cx="376.8" cy="92.9" r="1.35"/><circle cx="400.1" cy="59.9" r="1.35"/><circle cx="389.6" cy="54.7" r="1.35"/><circle cx="385.0" cy="78.5" r="1.35"/><circle cx="372.0" cy="80.6" r="1.35"/><circle cx="396.6" cy="89.5" r="1.35"/><circle cx="374.3" cy="74.2" r="1.35"/><circle cx="383.6" cy="62.2" r="1.35"/><circle cx="366.9" cy="93.1" r="1.35"/><circle cx="381.0" cy="53.7" r="1.35"/><circle cx="389.6" cy="67.0" r="1.35"/><circle cx="377.4" cy="66.0" r="1.35"/><circle cx="378.3" cy="59.0" r="1.35"/><circle cx="372.0" cy="68.1" r="1.35"/><circle cx="379.8" cy="62.7" r="1.35"/><circle cx="383.6" cy="35.8" r="1.35"/><circle cx="398.1" cy="49.9" r="1.35"/><circle cx="357.9" cy="74.5" r="1.35"/><circle cx="374.1" cy="62.8" r="1.35"/><circle cx="355.2" cy="54.2" r="1.35"/><circle cx="393.2" cy="87.3" r="1.35"/><circle cx="369.9" cy="80.6" r="1.35"/><circle cx="381.5" cy="61.3" r="1.35"/><circle cx="404.3" cy="72.6" r="1.35"/><circle cx="389.8" cy="67.8" r="1.35"/><circle cx="401.0" cy="60.0" r="1.35"/><circle cx="396.6" cy="84.3" r="1.35"/><circle cx="378.9" cy="80.8" r="1.35"/><circle cx="398.1" cy="61.1" r="1.35"/><circle cx="377.6" cy="76.0" r="1.35"/><circle cx="386.5" cy="79.3" r="1.35"/><circle cx="370.5" cy="63.5" r="1.35"/><circle cx="409.0" cy="73.2" r="1.35"/><circle cx="374.7" cy="85.6" r="1.35"/><circle cx="365.9" cy="62.9" r="1.35"/><circle cx="390.7" cy="69.8" r="1.35"/><circle cx="384.8" cy="68.4" r="1.35"/><circle cx="382.6" cy="90.3" r="1.35"/><circle cx="375.8" cy="68.4" r="1.35"/><circle cx="372.1" cy="76.3" r="1.35"/><circle cx="371.7" cy="74.4" r="1.35"/><circle cx="390.7" cy="75.4" r="1.35"/><circle cx="379.3" cy="59.0" r="1.35"/><circle cx="388.4" cy="47.2" r="1.35"/><circle cx="357.3" cy="58.5" r="1.35"/><circle cx="375.6" cy="68.1" r="1.35"/><circle cx="390.5" cy="55.4" r="1.35"/><circle cx="392.8" cy="67.8" r="1.35"/><circle cx="399.3" cy="73.7" r="1.35"/><circle cx="379.4" cy="59.2" r="1.35"/><circle cx="374.8" cy="41.0" r="1.35"/><circle cx="392.6" cy="40.8" r="1.35"/><circle cx="380.7" cy="75.0" r="1.35"/><circle cx="382.9" cy="60.1" r="1.35"/><circle cx="374.4" cy="64.8" r="1.35"/><circle cx="380.8" cy="48.3" r="1.35"/><circle cx="373.5" cy="55.9" r="1.35"/><circle cx="373.7" cy="82.8" r="1.35"/><circle cx="373.0" cy="85.8" r="1.35"/><circle cx="382.7" cy="56.1" r="1.35"/><circle cx="382.9" cy="61.6" r="1.35"/><circle cx="399.6" cy="66.3" r="1.35"/><circle cx="383.3" cy="73.6" r="1.35"/><circle cx="362.8" cy="59.8" r="1.35"/><circle cx="361.1" cy="61.2" r="1.35"/><circle cx="380.9" cy="54.9" r="1.35"/><circle cx="380.3" cy="80.9" r="1.35"/><circle cx="385.1" cy="77.4" r="1.35"/><circle cx="379.0" cy="69.4" r="1.35"/><circle cx="379.5" cy="72.5" r="1.35"/><circle cx="371.6" cy="72.5" r="1.35"/><circle cx="356.8" cy="72.0" r="1.35"/><circle cx="367.4" cy="54.9" r="1.35"/><circle cx="395.5" cy="96.0" r="1.35"/><circle cx="382.7" cy="71.6" r="1.35"/><circle cx="369.2" cy="62.8" r="1.35"/><circle cx="375.8" cy="93.6" r="1.35"/><circle cx="378.0" cy="71.9" r="1.35"/><circle cx="382.2" cy="86.4" r="1.35"/><circle cx="388.0" cy="60.1" r="1.35"/><circle cx="368.0" cy="78.7" r="1.35"/><circle cx="380.1" cy="77.5" r="1.35"/><circle cx="400.8" cy="67.1" r="1.35"/><circle cx="369.6" cy="80.5" r="1.35"/><circle cx="380.4" cy="39.2" r="1.35"/><circle cx="379.0" cy="68.2" r="1.35"/><circle cx="386.9" cy="70.5" r="1.35"/><circle cx="406.9" cy="77.0" r="1.35"/><circle cx="389.5" cy="67.8" r="1.35"/><circle cx="388.1" cy="85.7" r="1.35"/><circle cx="401.1" cy="71.6" r="1.35"/><circle cx="381.4" cy="82.4" r="1.35"/><circle cx="372.8" cy="62.4" r="1.35"/><circle cx="392.2" cy="59.8" r="1.35"/><circle cx="394.8" cy="60.4" r="1.35"/><circle cx="381.4" cy="58.7" r="1.35"/><circle cx="387.8" cy="71.3" r="1.35"/><circle cx="389.3" cy="52.7" r="1.35"/><circle cx="383.7" cy="74.7" r="1.35"/><circle cx="389.2" cy="44.5" r="1.35"/><circle cx="378.6" cy="71.2" r="1.35"/><circle cx="379.5" cy="53.6" r="1.35"/><circle cx="360.2" cy="65.0" r="1.35"/><circle cx="394.6" cy="80.8" r="1.35"/><circle cx="397.9" cy="62.8" r="1.35"/><circle cx="374.8" cy="67.2" r="1.35"/><circle cx="363.6" cy="77.5" r="1.35"/><circle cx="401.8" cy="81.9" r="1.35"/><circle cx="402.0" cy="71.0" r="1.35"/><circle cx="392.3" cy="69.3" r="1.35"/><circle cx="355.6" cy="77.6" r="1.35"/><circle cx="383.2" cy="85.3" r="1.35"/><circle cx="365.7" cy="65.0" r="1.35"/><circle cx="373.7" cy="92.6" r="1.35"/><circle cx="373.3" cy="58.4" r="1.35"/><circle cx="375.7" cy="57.4" r="1.35"/><circle cx="398.4" cy="69.5" r="1.35"/><circle cx="368.2" cy="87.3" r="1.35"/><circle cx="380.7" cy="58.1" r="1.35"/><circle cx="384.1" cy="62.6" r="1.35"/><circle cx="376.0" cy="65.9" r="1.35"/><circle cx="375.7" cy="74.3" r="1.35"/><circle cx="366.4" cy="91.0" r="1.35"/><circle cx="375.6" cy="84.7" r="1.35"/><circle cx="370.2" cy="60.9" r="1.35"/><circle cx="379.8" cy="100.8" r="1.35"/><circle cx="391.6" cy="78.4" r="1.35"/><circle cx="389.9" cy="65.2" r="1.35"/><circle cx="373.3" cy="55.2" r="1.35"/><circle cx="372.2" cy="53.0" r="1.35"/><circle cx="390.1" cy="78.2" r="1.35"/><circle cx="397.9" cy="78.6" r="1.35"/><circle cx="367.6" cy="49.2" r="1.35"/><circle cx="368.8" cy="67.2" r="1.35"/><circle cx="397.5" cy="68.4" r="1.35"/><circle cx="380.1" cy="68.6" r="1.35"/><circle cx="390.6" cy="80.7" r="1.35"/><circle cx="388.0" cy="62.2" r="1.35"/><circle cx="407.5" cy="74.4" r="1.35"/><circle cx="370.6" cy="60.1" r="1.35"/><circle cx="376.5" cy="66.1" r="1.35"/><circle cx="382.5" cy="54.3" r="1.35"/><circle cx="373.6" cy="71.2" r="1.35"/><circle cx="352.1" cy="81.8" r="1.35"/><circle cx="398.5" cy="79.0" r="1.35"/><circle cx="373.1" cy="86.2" r="1.35"/><circle cx="387.6" cy="67.5" r="1.35"/><circle cx="367.6" cy="61.0" r="1.35"/><circle cx="384.0" cy="59.8" r="1.35"/><circle cx="373.8" cy="46.7" r="1.35"/><circle cx="385.7" cy="71.5" r="1.35"/><circle cx="375.1" cy="73.2" r="1.35"/><circle cx="390.8" cy="73.5" r="1.35"/><circle cx="393.3" cy="62.2" r="1.35"/><circle cx="396.3" cy="59.0" r="1.35"/><circle cx="380.3" cy="95.5" r="1.35"/><circle cx="384.4" cy="59.4" r="1.35"/><circle cx="382.9" cy="62.5" r="1.35"/><circle cx="375.7" cy="75.0" r="1.35"/><circle cx="370.3" cy="51.7" r="1.35"/><circle cx="382.8" cy="76.5" r="1.35"/><circle cx="365.9" cy="72.0" r="1.35"/><circle cx="397.4" cy="63.7" r="1.35"/><circle cx="372.8" cy="50.8" r="1.35"/><circle cx="397.3" cy="56.8" r="1.35"/><circle cx="390.0" cy="54.5" r="1.35"/><circle cx="387.2" cy="59.6" r="1.35"/><circle cx="372.2" cy="49.9" r="1.35"/><circle cx="383.7" cy="42.8" r="1.35"/><circle cx="357.8" cy="60.5" r="1.35"/><circle cx="392.2" cy="74.5" r="1.35"/><circle cx="386.2" cy="59.9" r="1.35"/><circle cx="387.6" cy="77.1" r="1.35"/><circle cx="379.4" cy="56.3" r="1.35"/><circle cx="395.5" cy="68.6" r="1.35"/><circle cx="381.9" cy="67.2" r="1.35"/><circle cx="392.8" cy="84.0" r="1.35"/><circle cx="365.9" cy="68.3" r="1.35"/><circle cx="368.5" cy="77.8" r="1.35"/><circle cx="382.0" cy="63.5" r="1.35"/><circle cx="368.9" cy="59.2" r="1.35"/><circle cx="360.9" cy="62.6" r="1.35"/><circle cx="363.1" cy="87.0" r="1.35"/><circle cx="388.3" cy="75.4" r="1.35"/><circle cx="372.0" cy="75.9" r="1.35"/><circle cx="386.3" cy="70.6" r="1.35"/><circle cx="380.7" cy="55.8" r="1.35"/><circle cx="372.9" cy="76.2" r="1.35"/><circle cx="375.1" cy="54.3" r="1.35"/><circle cx="392.3" cy="52.7" r="1.35"/><circle cx="380.7" cy="72.0" r="1.35"/><circle cx="390.7" cy="75.2" r="1.35"/><circle cx="390.5" cy="60.2" r="1.35"/><circle cx="373.1" cy="71.0" r="1.35"/><circle cx="379.7" cy="46.7" r="1.35"/><circle cx="410.4" cy="71.3" r="1.35"/><circle cx="381.2" cy="100.4" r="1.35"/><circle cx="383.4" cy="70.0" r="1.35"/><circle cx="368.9" cy="59.4" r="1.35"/><circle cx="363.3" cy="72.8" r="1.35"/><circle cx="382.6" cy="86.6" r="1.35"/><circle cx="390.8" cy="55.8" r="1.35"/><circle cx="365.3" cy="88.8" r="1.35"/><circle cx="387.9" cy="70.3" r="1.35"/><circle cx="367.3" cy="73.9" r="1.35"/><circle cx="379.8" cy="71.8" r="1.35"/><circle cx="390.4" cy="64.8" r="1.35"/><circle cx="401.1" cy="51.5" r="1.35"/><circle cx="388.7" cy="55.5" r="1.35"/><circle cx="396.1" cy="60.5" r="1.35"/><circle cx="367.1" cy="58.4" r="1.35"/><circle cx="381.9" cy="48.3" r="1.35"/><circle cx="382.1" cy="62.9" r="1.35"/><circle cx="384.8" cy="47.4" r="1.35"/><circle cx="383.0" cy="73.5" r="1.35"/><circle cx="384.5" cy="75.8" r="1.35"/><circle cx="382.9" cy="70.0" r="1.35"/><circle cx="384.1" cy="44.2" r="1.35"/><circle cx="376.4" cy="69.4" r="1.35"/><circle cx="378.8" cy="60.9" r="1.35"/><circle cx="367.6" cy="79.2" r="1.35"/><circle cx="380.6" cy="62.6" r="1.35"/><circle cx="380.5" cy="76.6" r="1.35"/><circle cx="371.2" cy="63.1" r="1.35"/><circle cx="397.4" cy="65.6" r="1.35"/><circle cx="383.2" cy="64.0" r="1.35"/><circle cx="370.3" cy="74.1" r="1.35"/><circle cx="378.0" cy="66.0" r="1.35"/><circle cx="380.7" cy="86.2" r="1.35"/><circle cx="393.8" cy="47.3" r="1.35"/><circle cx="378.0" cy="64.6" r="1.35"/><circle cx="384.1" cy="59.4" r="1.35"/><circle cx="364.2" cy="48.3" r="1.35"/><circle cx="375.7" cy="53.0" r="1.35"/><circle cx="382.0" cy="75.1" r="1.35"/><circle cx="379.4" cy="57.9" r="1.35"/><circle cx="371.2" cy="74.9" r="1.35"/><circle cx="375.6" cy="92.9" r="1.35"/><circle cx="395.8" cy="62.2" r="1.35"/><circle cx="380.8" cy="54.4" r="1.35"/><circle cx="370.2" cy="70.9" r="1.35"/><circle cx="400.6" cy="56.8" r="1.35"/><circle cx="355.8" cy="62.5" r="1.35"/><circle cx="369.3" cy="55.7" r="1.35"/><circle cx="375.7" cy="72.8" r="1.35"/><circle cx="387.9" cy="81.8" r="1.35"/><circle cx="383.5" cy="59.3" r="1.35"/><circle cx="386.3" cy="64.6" r="1.35"/><circle cx="374.2" cy="63.0" r="1.35"/><circle cx="376.2" cy="52.5" r="1.35"/><circle cx="410.2" cy="79.8" r="1.35"/><circle cx="356.3" cy="75.6" r="1.35"/><circle cx="385.3" cy="55.9" r="1.35"/><circle cx="393.3" cy="80.4" r="1.35"/><circle cx="372.0" cy="53.0" r="1.35"/><circle cx="368.6" cy="55.3" r="1.35"/><circle cx="378.5" cy="59.7" r="1.35"/><circle cx="389.1" cy="59.5" r="1.35"/><circle cx="390.4" cy="83.2" r="1.35"/><circle cx="384.4" cy="69.7" r="1.35"/><circle cx="384.5" cy="53.4" r="1.35"/><circle cx="378.0" cy="79.4" r="1.35"/><circle cx="372.8" cy="74.1" r="1.35"/><circle cx="389.6" cy="80.8" r="1.35"/><circle cx="394.2" cy="66.0" r="1.35"/><circle cx="378.5" cy="87.7" r="1.35"/><circle cx="383.8" cy="60.7" r="1.35"/><circle cx="361.0" cy="54.0" r="1.35"/><circle cx="399.7" cy="65.4" r="1.35"/><circle cx="386.6" cy="37.6" r="1.35"/><circle cx="395.0" cy="81.9" r="1.35"/><circle cx="380.8" cy="72.0" r="1.35"/><circle cx="379.3" cy="101.6" r="1.35"/><circle cx="389.6" cy="78.4" r="1.35"/><circle cx="382.9" cy="71.7" r="1.35"/><circle cx="390.9" cy="73.9" r="1.35"/><circle cx="372.0" cy="62.8" r="1.35"/><circle cx="397.0" cy="74.2" r="1.35"/><circle cx="396.6" cy="66.4" r="1.35"/><circle cx="375.0" cy="49.5" r="1.35"/><circle cx="371.7" cy="56.4" r="1.35"/><circle cx="375.4" cy="63.9" r="1.35"/><circle cx="367.0" cy="81.1" r="1.35"/><circle cx="393.1" cy="67.4" r="1.35"/><circle cx="381.5" cy="75.8" r="1.35"/><circle cx="386.1" cy="88.6" r="1.35"/><circle cx="368.3" cy="72.0" r="1.35"/><circle cx="371.6" cy="79.3" r="1.35"/><circle cx="380.2" cy="71.8" r="1.35"/><circle cx="378.5" cy="47.6" r="1.35"/><circle cx="392.5" cy="53.5" r="1.35"/><circle cx="380.7" cy="76.7" r="1.35"/><circle cx="364.5" cy="74.6" r="1.35"/><circle cx="357.4" cy="77.7" r="1.35"/><circle cx="389.7" cy="48.2" r="1.35"/><circle cx="392.0" cy="81.5" r="1.35"/><circle cx="386.6" cy="80.5" r="1.35"/><circle cx="390.4" cy="71.4" r="1.35"/><circle cx="390.8" cy="35.5" r="1.35"/><circle cx="391.5" cy="38.7" r="1.35"/><circle cx="383.1" cy="74.3" r="1.35"/><circle cx="396.2" cy="46.9" r="1.35"/><circle cx="374.7" cy="68.9" r="1.35"/><circle cx="364.7" cy="72.6" r="1.35"/><circle cx="391.1" cy="71.1" r="1.35"/><circle cx="374.6" cy="88.8" r="1.35"/><circle cx="385.2" cy="59.3" r="1.35"/><circle cx="387.8" cy="66.5" r="1.35"/><circle cx="366.6" cy="46.4" r="1.35"/><circle cx="380.4" cy="71.9" r="1.35"/><circle cx="389.4" cy="98.9" r="1.35"/><circle cx="380.3" cy="71.8" r="1.35"/><circle cx="385.3" cy="51.9" r="1.35"/><circle cx="386.4" cy="94.4" r="1.35"/><circle cx="377.2" cy="67.2" r="1.35"/><circle cx="382.7" cy="87.1" r="1.35"/><circle cx="362.1" cy="62.6" r="1.35"/><circle cx="384.9" cy="70.2" r="1.35"/><circle cx="361.4" cy="46.2" r="1.35"/><circle cx="390.3" cy="74.8" r="1.35"/><circle cx="404.8" cy="72.0" r="1.35"/><circle cx="383.7" cy="85.7" r="1.35"/><circle cx="396.5" cy="87.2" r="1.35"/><circle cx="383.9" cy="68.1" r="1.35"/><circle cx="369.1" cy="58.1" r="1.35"/><circle cx="365.0" cy="79.1" r="1.35"/><circle cx="380.7" cy="75.4" r="1.35"/><circle cx="386.3" cy="57.6" r="1.35"/><circle cx="377.7" cy="77.2" r="1.35"/><circle cx="375.2" cy="74.8" r="1.35"/><circle cx="390.2" cy="72.8" r="1.35"/><circle cx="385.7" cy="71.1" r="1.35"/><circle cx="371.4" cy="58.4" r="1.35"/><circle cx="369.3" cy="69.8" r="1.35"/><circle cx="397.9" cy="84.5" r="1.35"/><circle cx="380.4" cy="91.1" r="1.35"/><circle cx="375.3" cy="89.9" r="1.35"/><circle cx="376.9" cy="77.1" r="1.35"/><circle cx="382.5" cy="48.7" r="1.35"/><circle cx="384.3" cy="61.1" r="1.35"/><circle cx="380.5" cy="73.2" r="1.35"/><circle cx="371.6" cy="94.0" r="1.35"/><circle cx="381.8" cy="48.1" r="1.35"/><circle cx="386.4" cy="77.1" r="1.35"/><circle cx="399.8" cy="75.7" r="1.35"/><circle cx="374.0" cy="86.1" r="1.35"/><circle cx="370.1" cy="73.2" r="1.35"/><circle cx="403.7" cy="72.7" r="1.35"/><circle cx="369.3" cy="78.0" r="1.35"/><circle cx="378.5" cy="92.8" r="1.35"/><circle cx="382.5" cy="60.6" r="1.35"/><circle cx="384.7" cy="61.9" r="1.35"/><circle cx="366.4" cy="92.6" r="1.35"/><circle cx="395.6" cy="55.3" r="1.35"/><circle cx="363.5" cy="67.2" r="1.35"/><circle cx="381.3" cy="62.6" r="1.35"/><circle cx="383.4" cy="76.6" r="1.35"/><circle cx="383.3" cy="67.8" r="1.35"/><circle cx="380.5" cy="94.7" r="1.35"/><circle cx="371.2" cy="80.5" r="1.35"/><circle cx="362.5" cy="66.5" r="1.35"/><circle cx="389.2" cy="66.4" r="1.35"/><circle cx="376.8" cy="69.0" r="1.35"/><circle cx="394.3" cy="79.7" r="1.35"/><circle cx="391.5" cy="60.5" r="1.35"/><circle cx="384.0" cy="50.5" r="1.35"/><circle cx="372.9" cy="57.3" r="1.35"/><circle cx="370.5" cy="80.2" r="1.35"/><circle cx="369.0" cy="64.0" r="1.35"/><circle cx="370.4" cy="69.2" r="1.35"/><circle cx="368.1" cy="55.7" r="1.35"/><circle cx="401.9" cy="66.9" r="1.35"/><circle cx="399.7" cy="62.4" r="1.35"/><circle cx="405.7" cy="68.6" r="1.35"/><circle cx="363.2" cy="50.0" r="1.35"/><circle cx="379.6" cy="83.8" r="1.35"/><circle cx="373.6" cy="91.7" r="1.35"/><circle cx="379.1" cy="84.3" r="1.35"/><circle cx="397.9" cy="61.0" r="1.35"/><circle cx="362.2" cy="90.1" r="1.35"/><circle cx="374.6" cy="95.7" r="1.35"/><circle cx="379.8" cy="70.5" r="1.35"/><circle cx="372.3" cy="77.2" r="1.35"/><circle cx="386.7" cy="50.9" r="1.35"/><circle cx="398.0" cy="69.5" r="1.35"/><circle cx="390.8" cy="79.8" r="1.35"/><circle cx="385.7" cy="82.8" r="1.35"/><circle cx="389.3" cy="86.5" r="1.35"/><circle cx="370.1" cy="70.0" r="1.35"/><circle cx="387.4" cy="89.2" r="1.35"/><circle cx="374.9" cy="68.1" r="1.35"/><circle cx="383.6" cy="81.1" r="1.35"/><circle cx="382.1" cy="73.5" r="1.35"/><circle cx="397.0" cy="62.5" r="1.35"/><circle cx="366.0" cy="99.4" r="1.35"/><circle cx="382.2" cy="54.1" r="1.35"/><circle cx="383.0" cy="58.1" r="1.35"/><circle cx="375.5" cy="88.2" r="1.35"/><circle cx="389.5" cy="68.6" r="1.35"/><circle cx="388.8" cy="88.4" r="1.35"/><circle cx="383.1" cy="78.3" r="1.35"/><circle cx="390.2" cy="77.7" r="1.35"/><circle cx="374.1" cy="77.8" r="1.35"/><circle cx="395.4" cy="69.5" r="1.35"/><circle cx="372.4" cy="83.6" r="1.35"/><circle cx="369.2" cy="50.4" r="1.35"/><circle cx="360.4" cy="81.3" r="1.35"/><circle cx="388.3" cy="54.2" r="1.35"/><circle cx="379.4" cy="59.4" r="1.35"/><circle cx="389.7" cy="56.7" r="1.35"/><circle cx="381.6" cy="47.8" r="1.35"/><circle cx="383.5" cy="49.2" r="1.35"/><circle cx="368.7" cy="57.1" r="1.35"/><circle cx="367.0" cy="89.7" r="1.35"/><circle cx="387.0" cy="80.6" r="1.35"/><circle cx="386.5" cy="83.8" r="1.35"/><circle cx="399.7" cy="69.3" r="1.35"/><circle cx="368.6" cy="67.0" r="1.35"/><circle cx="391.5" cy="79.6" r="1.35"/><circle cx="387.4" cy="41.9" r="1.35"/><circle cx="391.4" cy="69.4" r="1.35"/><circle cx="375.1" cy="61.5" r="1.35"/><circle cx="364.4" cy="81.3" r="1.35"/><circle cx="374.1" cy="83.7" r="1.35"/><circle cx="401.5" cy="67.3" r="1.35"/><circle cx="370.5" cy="84.7" r="1.35"/><circle cx="387.4" cy="80.2" r="1.35"/><circle cx="375.1" cy="70.3" r="1.35"/><circle cx="382.7" cy="67.8" r="1.35"/><circle cx="383.1" cy="51.6" r="1.35"/><circle cx="401.1" cy="91.1" r="1.35"/><circle cx="411.1" cy="67.3" r="1.35"/><circle cx="396.0" cy="78.9" r="1.35"/><circle cx="385.5" cy="66.1" r="1.35"/><circle cx="383.2" cy="57.5" r="1.35"/><circle cx="389.1" cy="82.4" r="1.35"/><circle cx="380.5" cy="59.2" r="1.35"/><circle cx="389.7" cy="73.4" r="1.35"/><circle cx="378.7" cy="71.0" r="1.35"/><circle cx="369.4" cy="86.1" r="1.35"/><circle cx="399.7" cy="74.2" r="1.35"/><circle cx="383.0" cy="78.9" r="1.35"/><circle cx="396.6" cy="45.5" r="1.35"/><circle cx="379.4" cy="62.0" r="1.35"/><circle cx="373.3" cy="45.3" r="1.35"/><circle cx="392.4" cy="80.2" r="1.35"/><circle cx="396.1" cy="64.1" r="1.35"/><circle cx="386.6" cy="64.1" r="1.35"/><circle cx="374.3" cy="76.1" r="1.35"/><circle cx="388.9" cy="69.6" r="1.35"/><circle cx="371.1" cy="41.8" r="1.35"/><circle cx="379.5" cy="76.5" r="1.35"/><circle cx="373.9" cy="59.8" r="1.35"/><circle cx="392.9" cy="65.7" r="1.35"/><circle cx="391.7" cy="89.1" r="1.35"/><circle cx="377.6" cy="75.3" r="1.35"/><circle cx="381.9" cy="62.5" r="1.35"/><circle cx="358.6" cy="71.1" r="1.35"/><circle cx="371.9" cy="64.5" r="1.35"/><circle cx="391.2" cy="57.7" r="1.35"/><circle cx="384.5" cy="70.7" r="1.35"/><circle cx="337.8" cy="69.0" r="1.35"/><circle cx="423.0" cy="66.7" r="1.35"/>
</g>
<g fill="#0000ff" filter="url(#bl)">
<circle cx="477.2" cy="71.5" r="0.74"/><circle cx="502.2" cy="61.2" r="0.74"/><circle cx="466.6" cy="69.4" r="0.74"/><circle cx="477.5" cy="67.5" r="0.74"/><circle cx="466.9" cy="66.4" r="0.74"/><circle cx="486.8" cy="49.9" r="0.74"/><circle cx="487.7" cy="63.0" r="0.74"/><circle cx="468.2" cy="41.5" r="0.74"/><circle cx="463.6" cy="55.7" r="0.74"/><circle cx="480.7" cy="80.3" r="0.74"/><circle cx="477.2" cy="77.7" r="0.74"/><circle cx="488.4" cy="70.7" r="0.74"/><circle cx="500.3" cy="92.0" r="0.74"/><circle cx="484.2" cy="80.4" r="0.74"/><circle cx="492.6" cy="95.6" r="0.74"/><circle cx="480.6" cy="66.8" r="0.74"/><circle cx="468.3" cy="57.2" r="0.74"/><circle cx="486.2" cy="56.9" r="0.74"/><circle cx="494.6" cy="81.5" r="0.74"/><circle cx="475.7" cy="71.9" r="0.74"/><circle cx="492.3" cy="58.8" r="0.74"/><circle cx="476.6" cy="76.9" r="0.74"/><circle cx="475.7" cy="76.6" r="0.74"/><circle cx="481.7" cy="71.0" r="0.74"/><circle cx="506.5" cy="75.6" r="0.74"/><circle cx="481.2" cy="63.7" r="0.74"/><circle cx="474.0" cy="73.9" r="0.74"/><circle cx="484.4" cy="59.8" r="0.74"/><circle cx="470.1" cy="52.4" r="0.74"/><circle cx="480.5" cy="67.3" r="0.74"/><circle cx="493.4" cy="61.2" r="0.74"/><circle cx="495.7" cy="67.2" r="0.74"/><circle cx="484.1" cy="65.4" r="0.74"/><circle cx="473.5" cy="54.3" r="0.74"/><circle cx="475.9" cy="85.0" r="0.74"/><circle cx="506.4" cy="71.1" r="0.74"/><circle cx="471.6" cy="46.4" r="0.74"/><circle cx="480.7" cy="56.2" r="0.74"/><circle cx="475.3" cy="72.4" r="0.74"/><circle cx="466.1" cy="93.0" r="0.74"/><circle cx="473.7" cy="70.3" r="0.74"/><circle cx="492.9" cy="39.3" r="0.74"/><circle cx="473.1" cy="56.9" r="0.74"/><circle cx="477.8" cy="71.2" r="0.74"/><circle cx="468.3" cy="87.7" r="0.74"/><circle cx="475.9" cy="84.1" r="0.74"/><circle cx="484.2" cy="78.1" r="0.74"/><circle cx="497.8" cy="67.5" r="0.74"/><circle cx="486.1" cy="55.3" r="0.74"/><circle cx="489.9" cy="69.8" r="0.74"/><circle cx="483.3" cy="70.9" r="0.74"/><circle cx="495.9" cy="59.7" r="0.74"/><circle cx="488.2" cy="59.5" r="0.74"/><circle cx="478.4" cy="63.0" r="0.74"/><circle cx="469.0" cy="52.7" r="0.74"/><circle cx="485.2" cy="67.1" r="0.74"/><circle cx="490.7" cy="69.5" r="0.74"/><circle cx="481.5" cy="54.6" r="0.74"/><circle cx="485.5" cy="80.7" r="0.74"/><circle cx="489.0" cy="90.5" r="0.74"/><circle cx="502.1" cy="71.5" r="0.74"/><circle cx="484.8" cy="41.4" r="0.74"/><circle cx="507.5" cy="67.9" r="0.74"/><circle cx="491.0" cy="55.9" r="0.74"/><circle cx="502.4" cy="71.0" r="0.74"/><circle cx="485.7" cy="54.2" r="0.74"/><circle cx="487.2" cy="60.0" r="0.74"/><circle cx="490.8" cy="83.4" r="0.74"/><circle cx="475.0" cy="102.1" r="0.74"/><circle cx="481.5" cy="52.8" r="0.74"/><circle cx="472.3" cy="54.1" r="0.74"/><circle cx="495.0" cy="70.0" r="0.74"/><circle cx="484.2" cy="68.3" r="0.74"/><circle cx="475.0" cy="72.9" r="0.74"/><circle cx="483.8" cy="61.8" r="0.74"/><circle cx="492.8" cy="78.6" r="0.74"/><circle cx="493.2" cy="79.0" r="0.74"/><circle cx="482.4" cy="64.8" r="0.74"/><circle cx="484.0" cy="70.9" r="0.74"/><circle cx="487.2" cy="76.2" r="0.74"/><circle cx="477.2" cy="71.9" r="0.74"/><circle cx="494.6" cy="70.6" r="0.74"/><circle cx="504.8" cy="66.7" r="0.74"/><circle cx="452.2" cy="74.8" r="0.74"/><circle cx="502.2" cy="69.3" r="0.74"/><circle cx="479.5" cy="80.2" r="0.74"/><circle cx="498.5" cy="56.9" r="0.74"/><circle cx="491.5" cy="64.1" r="0.74"/><circle cx="499.8" cy="59.2" r="0.74"/><circle cx="471.0" cy="59.8" r="0.74"/><circle cx="486.1" cy="70.7" r="0.74"/><circle cx="492.5" cy="69.0" r="0.74"/><circle cx="452.6" cy="50.1" r="0.74"/><circle cx="495.5" cy="70.9" r="0.74"/><circle cx="480.3" cy="66.6" r="0.74"/><circle cx="470.4" cy="65.6" r="0.74"/><circle cx="481.8" cy="73.7" r="0.74"/><circle cx="474.3" cy="77.8" r="0.74"/><circle cx="496.2" cy="52.8" r="0.74"/><circle cx="489.7" cy="69.9" r="0.74"/><circle cx="474.8" cy="60.5" r="0.74"/><circle cx="501.6" cy="89.3" r="0.74"/><circle cx="496.9" cy="96.2" r="0.74"/><circle cx="480.6" cy="64.6" r="0.74"/><circle cx="469.5" cy="88.1" r="0.74"/><circle cx="486.3" cy="58.5" r="0.74"/><circle cx="479.1" cy="52.7" r="0.74"/><circle cx="475.9" cy="47.6" r="0.74"/><circle cx="485.6" cy="66.4" r="0.74"/><circle cx="490.9" cy="65.4" r="0.74"/><circle cx="504.2" cy="42.0" r="0.74"/><circle cx="490.2" cy="71.4" r="0.74"/><circle cx="471.6" cy="78.7" r="0.74"/><circle cx="484.4" cy="70.6" r="0.74"/><circle cx="483.8" cy="69.3" r="0.74"/><circle cx="489.6" cy="86.1" r="0.74"/><circle cx="473.2" cy="55.5" r="0.74"/><circle cx="493.3" cy="76.0" r="0.74"/><circle cx="498.2" cy="77.7" r="0.74"/><circle cx="481.6" cy="92.0" r="0.74"/><circle cx="493.4" cy="69.5" r="0.74"/><circle cx="495.8" cy="60.6" r="0.74"/><circle cx="485.3" cy="67.3" r="0.74"/><circle cx="497.2" cy="71.3" r="0.74"/><circle cx="482.7" cy="68.4" r="0.74"/><circle cx="493.1" cy="57.7" r="0.74"/><circle cx="505.1" cy="70.1" r="0.74"/><circle cx="498.2" cy="77.1" r="0.74"/><circle cx="491.1" cy="67.4" r="0.74"/><circle cx="503.4" cy="61.3" r="0.74"/><circle cx="479.9" cy="61.7" r="0.74"/><circle cx="488.5" cy="72.7" r="0.74"/><circle cx="481.6" cy="80.5" r="0.74"/><circle cx="514.5" cy="67.1" r="0.74"/><circle cx="495.3" cy="83.2" r="0.74"/><circle cx="473.1" cy="70.6" r="0.74"/><circle cx="483.2" cy="58.8" r="0.74"/><circle cx="474.0" cy="62.1" r="0.74"/><circle cx="501.2" cy="80.1" r="0.74"/><circle cx="494.6" cy="80.6" r="0.74"/><circle cx="488.5" cy="64.2" r="0.74"/><circle cx="503.6" cy="77.3" r="0.74"/><circle cx="486.6" cy="55.8" r="0.74"/><circle cx="472.2" cy="68.8" r="0.74"/><circle cx="475.4" cy="77.4" r="0.74"/><circle cx="492.2" cy="60.1" r="0.74"/><circle cx="512.6" cy="51.7" r="0.74"/><circle cx="498.7" cy="70.8" r="0.74"/><circle cx="481.6" cy="67.1" r="0.74"/><circle cx="460.3" cy="48.3" r="0.74"/><circle cx="477.5" cy="81.9" r="0.74"/><circle cx="479.8" cy="58.0" r="0.74"/><circle cx="498.1" cy="73.5" r="0.74"/><circle cx="489.4" cy="69.6" r="0.74"/><circle cx="473.9" cy="66.9" r="0.74"/><circle cx="484.9" cy="88.0" r="0.74"/><circle cx="496.5" cy="88.5" r="0.74"/><circle cx="487.1" cy="82.0" r="0.74"/><circle cx="475.8" cy="77.7" r="0.74"/><circle cx="492.1" cy="84.6" r="0.74"/><circle cx="482.5" cy="49.9" r="0.74"/><circle cx="477.0" cy="69.5" r="0.74"/><circle cx="491.6" cy="76.3" r="0.74"/><circle cx="489.6" cy="77.3" r="0.74"/><circle cx="492.0" cy="68.4" r="0.74"/><circle cx="474.4" cy="51.7" r="0.74"/><circle cx="483.4" cy="72.6" r="0.74"/><circle cx="474.5" cy="75.0" r="0.74"/><circle cx="483.4" cy="67.0" r="0.74"/><circle cx="496.3" cy="85.5" r="0.74"/><circle cx="480.7" cy="54.4" r="0.74"/><circle cx="486.4" cy="64.1" r="0.74"/><circle cx="501.6" cy="65.0" r="0.74"/><circle cx="489.4" cy="69.7" r="0.74"/><circle cx="503.5" cy="56.2" r="0.74"/><circle cx="476.6" cy="62.4" r="0.74"/><circle cx="472.0" cy="55.8" r="0.74"/><circle cx="491.6" cy="71.2" r="0.74"/><circle cx="480.0" cy="91.5" r="0.74"/><circle cx="492.6" cy="70.7" r="0.74"/><circle cx="481.0" cy="60.3" r="0.74"/><circle cx="477.1" cy="76.6" r="0.74"/><circle cx="476.8" cy="86.1" r="0.74"/><circle cx="510.3" cy="71.8" r="0.74"/><circle cx="480.5" cy="58.2" r="0.74"/><circle cx="491.3" cy="69.8" r="0.74"/><circle cx="484.4" cy="81.4" r="0.74"/><circle cx="489.2" cy="94.6" r="0.74"/><circle cx="484.2" cy="58.7" r="0.74"/><circle cx="459.9" cy="87.8" r="0.74"/><circle cx="482.0" cy="70.4" r="0.74"/><circle cx="476.4" cy="66.1" r="0.74"/><circle cx="485.8" cy="87.5" r="0.74"/><circle cx="481.8" cy="86.8" r="0.74"/><circle cx="460.4" cy="101.1" r="0.74"/><circle cx="493.7" cy="72.9" r="0.74"/><circle cx="503.6" cy="89.5" r="0.74"/><circle cx="478.6" cy="67.3" r="0.74"/><circle cx="480.9" cy="65.3" r="0.74"/><circle cx="484.0" cy="79.1" r="0.74"/><circle cx="457.3" cy="83.2" r="0.74"/><circle cx="501.1" cy="61.8" r="0.74"/><circle cx="497.5" cy="78.5" r="0.74"/><circle cx="480.6" cy="82.0" r="0.74"/><circle cx="487.0" cy="70.3" r="0.74"/><circle cx="487.7" cy="49.2" r="0.74"/><circle cx="473.9" cy="61.8" r="0.74"/><circle cx="467.8" cy="57.2" r="0.74"/><circle cx="478.2" cy="71.8" r="0.74"/><circle cx="484.4" cy="50.5" r="0.74"/><circle cx="482.6" cy="77.0" r="0.74"/><circle cx="470.2" cy="67.4" r="0.74"/><circle cx="473.7" cy="77.1" r="0.74"/><circle cx="482.7" cy="62.6" r="0.74"/><circle cx="475.2" cy="62.6" r="0.74"/><circle cx="502.1" cy="89.3" r="0.74"/><circle cx="497.7" cy="44.2" r="0.74"/><circle cx="476.6" cy="63.2" r="0.74"/><circle cx="468.2" cy="66.6" r="0.74"/><circle cx="479.5" cy="67.1" r="0.74"/><circle cx="473.1" cy="81.1" r="0.74"/><circle cx="478.1" cy="79.7" r="0.74"/><circle cx="476.2" cy="73.5" r="0.74"/><circle cx="470.8" cy="72.9" r="0.74"/><circle cx="488.0" cy="99.8" r="0.74"/><circle cx="484.8" cy="80.4" r="0.74"/><circle cx="470.6" cy="87.9" r="0.74"/><circle cx="473.4" cy="80.6" r="0.74"/><circle cx="486.2" cy="87.0" r="0.74"/><circle cx="493.7" cy="81.5" r="0.74"/><circle cx="489.9" cy="57.9" r="0.74"/><circle cx="469.4" cy="58.0" r="0.74"/><circle cx="506.3" cy="76.4" r="0.74"/><circle cx="489.3" cy="72.3" r="0.74"/><circle cx="484.1" cy="72.8" r="0.74"/><circle cx="478.0" cy="61.3" r="0.74"/><circle cx="493.1" cy="70.0" r="0.74"/><circle cx="500.1" cy="56.4" r="0.74"/><circle cx="491.4" cy="78.7" r="0.74"/><circle cx="504.5" cy="53.3" r="0.74"/><circle cx="460.8" cy="83.4" r="0.74"/><circle cx="478.9" cy="58.0" r="0.74"/><circle cx="497.5" cy="73.1" r="0.74"/><circle cx="486.8" cy="60.9" r="0.74"/><circle cx="470.4" cy="62.1" r="0.74"/><circle cx="480.9" cy="67.1" r="0.74"/><circle cx="483.7" cy="84.0" r="0.74"/><circle cx="473.5" cy="68.9" r="0.74"/><circle cx="485.7" cy="72.6" r="0.74"/><circle cx="495.7" cy="73.8" r="0.74"/><circle cx="471.1" cy="73.6" r="0.74"/><circle cx="482.4" cy="71.0" r="0.74"/><circle cx="496.8" cy="63.0" r="0.74"/><circle cx="495.6" cy="61.6" r="0.74"/><circle cx="482.5" cy="56.5" r="0.74"/><circle cx="481.5" cy="66.3" r="0.74"/><circle cx="473.5" cy="68.1" r="0.74"/><circle cx="480.8" cy="64.7" r="0.74"/><circle cx="503.9" cy="39.9" r="0.74"/><circle cx="495.3" cy="69.6" r="0.74"/><circle cx="493.3" cy="66.4" r="0.74"/><circle cx="477.8" cy="70.0" r="0.74"/><circle cx="481.7" cy="76.7" r="0.74"/><circle cx="499.3" cy="75.9" r="0.74"/><circle cx="479.0" cy="60.5" r="0.74"/><circle cx="476.9" cy="83.5" r="0.74"/><circle cx="475.2" cy="63.3" r="0.74"/><circle cx="488.4" cy="65.5" r="0.74"/><circle cx="479.4" cy="80.5" r="0.74"/><circle cx="494.2" cy="87.1" r="0.74"/><circle cx="482.1" cy="85.6" r="0.74"/><circle cx="480.0" cy="71.1" r="0.74"/><circle cx="497.7" cy="104.7" r="0.74"/><circle cx="499.2" cy="80.1" r="0.74"/><circle cx="487.6" cy="59.2" r="0.74"/><circle cx="476.2" cy="70.2" r="0.74"/><circle cx="489.8" cy="70.6" r="0.74"/><circle cx="476.6" cy="66.7" r="0.74"/><circle cx="485.7" cy="87.6" r="0.74"/><circle cx="499.2" cy="66.2" r="0.74"/><circle cx="458.5" cy="79.3" r="0.74"/><circle cx="503.2" cy="49.3" r="0.74"/><circle cx="487.5" cy="89.8" r="0.74"/><circle cx="482.1" cy="55.8" r="0.74"/><circle cx="488.9" cy="73.0" r="0.74"/><circle cx="476.7" cy="58.7" r="0.74"/><circle cx="482.4" cy="64.9" r="0.74"/><circle cx="490.0" cy="48.6" r="0.74"/><circle cx="486.7" cy="65.6" r="0.74"/><circle cx="465.4" cy="55.1" r="0.74"/><circle cx="494.3" cy="69.0" r="0.74"/><circle cx="460.2" cy="75.8" r="0.74"/><circle cx="485.5" cy="42.9" r="0.74"/><circle cx="491.1" cy="59.0" r="0.74"/><circle cx="493.6" cy="52.3" r="0.74"/><circle cx="472.5" cy="79.4" r="0.74"/><circle cx="471.9" cy="72.4" r="0.74"/><circle cx="480.8" cy="67.6" r="0.74"/><circle cx="473.6" cy="67.8" r="0.74"/><circle cx="475.4" cy="42.7" r="0.74"/><circle cx="478.9" cy="37.4" r="0.74"/><circle cx="502.3" cy="83.8" r="0.74"/><circle cx="494.9" cy="61.4" r="0.74"/><circle cx="468.0" cy="61.4" r="0.74"/><circle cx="483.6" cy="64.7" r="0.74"/><circle cx="475.4" cy="69.8" r="0.74"/><circle cx="489.0" cy="71.3" r="0.74"/><circle cx="478.0" cy="71.0" r="0.74"/><circle cx="474.0" cy="64.8" r="0.74"/><circle cx="456.9" cy="50.3" r="0.74"/><circle cx="485.2" cy="63.2" r="0.74"/><circle cx="493.8" cy="84.4" r="0.74"/><circle cx="509.2" cy="82.9" r="0.74"/><circle cx="489.6" cy="65.0" r="0.74"/><circle cx="498.7" cy="69.2" r="0.74"/><circle cx="469.3" cy="65.0" r="0.74"/><circle cx="457.9" cy="71.6" r="0.74"/><circle cx="479.5" cy="49.8" r="0.74"/><circle cx="481.5" cy="74.7" r="0.74"/><circle cx="476.3" cy="79.8" r="0.74"/><circle cx="478.5" cy="61.7" r="0.74"/><circle cx="470.2" cy="71.8" r="0.74"/><circle cx="468.6" cy="71.3" r="0.74"/><circle cx="486.1" cy="84.5" r="0.74"/><circle cx="478.2" cy="68.0" r="0.74"/><circle cx="492.7" cy="57.5" r="0.74"/><circle cx="483.1" cy="81.7" r="0.74"/><circle cx="466.7" cy="59.7" r="0.74"/><circle cx="499.4" cy="64.8" r="0.74"/><circle cx="501.2" cy="75.0" r="0.74"/><circle cx="480.0" cy="49.9" r="0.74"/><circle cx="473.3" cy="61.9" r="0.74"/><circle cx="488.4" cy="67.5" r="0.74"/><circle cx="503.0" cy="80.3" r="0.74"/><circle cx="479.6" cy="95.3" r="0.74"/><circle cx="472.9" cy="75.8" r="0.74"/><circle cx="480.1" cy="71.9" r="0.74"/><circle cx="487.5" cy="77.7" r="0.74"/><circle cx="462.8" cy="67.5" r="0.74"/><circle cx="488.8" cy="83.8" r="0.74"/><circle cx="475.7" cy="47.5" r="0.74"/><circle cx="495.4" cy="55.8" r="0.74"/><circle cx="491.5" cy="67.6" r="0.74"/><circle cx="478.7" cy="62.3" r="0.74"/><circle cx="482.1" cy="74.9" r="0.74"/><circle cx="484.1" cy="70.4" r="0.74"/><circle cx="493.9" cy="81.3" r="0.74"/><circle cx="511.3" cy="81.9" r="0.74"/><circle cx="479.6" cy="57.6" r="0.74"/><circle cx="475.2" cy="75.4" r="0.74"/><circle cx="484.6" cy="106.3" r="0.74"/><circle cx="478.8" cy="81.4" r="0.74"/><circle cx="481.6" cy="63.2" r="0.74"/><circle cx="491.2" cy="50.7" r="0.74"/><circle cx="499.9" cy="56.5" r="0.74"/><circle cx="483.8" cy="56.3" r="0.74"/><circle cx="473.5" cy="70.5" r="0.74"/><circle cx="499.9" cy="59.5" r="0.74"/><circle cx="469.1" cy="76.7" r="0.74"/><circle cx="494.1" cy="61.6" r="0.74"/><circle cx="496.0" cy="91.3" r="0.74"/><circle cx="470.6" cy="72.4" r="0.74"/><circle cx="473.8" cy="69.6" r="0.74"/><circle cx="484.5" cy="64.9" r="0.74"/><circle cx="483.0" cy="62.2" r="0.74"/><circle cx="492.9" cy="67.2" r="0.74"/><circle cx="471.2" cy="53.0" r="0.74"/><circle cx="486.8" cy="63.8" r="0.74"/><circle cx="486.4" cy="89.2" r="0.74"/><circle cx="490.8" cy="77.3" r="0.74"/><circle cx="471.2" cy="53.1" r="0.74"/><circle cx="481.2" cy="65.5" r="0.74"/><circle cx="494.2" cy="48.9" r="0.74"/><circle cx="464.8" cy="78.4" r="0.74"/><circle cx="491.8" cy="77.5" r="0.74"/><circle cx="479.1" cy="67.3" r="0.74"/><circle cx="486.9" cy="59.2" r="0.74"/><circle cx="487.0" cy="74.6" r="0.74"/><circle cx="486.8" cy="69.6" r="0.74"/><circle cx="479.0" cy="65.9" r="0.74"/><circle cx="488.3" cy="81.8" r="0.74"/><circle cx="495.6" cy="58.8" r="0.74"/><circle cx="493.0" cy="103.4" r="0.74"/><circle cx="485.7" cy="70.7" r="0.74"/><circle cx="473.6" cy="61.9" r="0.74"/><circle cx="468.1" cy="53.8" r="0.74"/><circle cx="488.6" cy="75.5" r="0.74"/><circle cx="499.9" cy="63.4" r="0.74"/><circle cx="488.1" cy="85.4" r="0.74"/><circle cx="490.1" cy="51.6" r="0.74"/><circle cx="496.4" cy="85.3" r="0.74"/><circle cx="499.5" cy="49.2" r="0.74"/><circle cx="493.6" cy="74.1" r="0.74"/><circle cx="468.0" cy="80.6" r="0.74"/><circle cx="478.0" cy="66.0" r="0.74"/><circle cx="490.2" cy="78.7" r="0.74"/><circle cx="466.4" cy="74.6" r="0.74"/><circle cx="469.7" cy="52.9" r="0.74"/><circle cx="470.7" cy="63.6" r="0.74"/><circle cx="493.0" cy="81.9" r="0.74"/><circle cx="494.9" cy="71.5" r="0.74"/><circle cx="475.3" cy="81.6" r="0.74"/><circle cx="485.0" cy="56.5" r="0.74"/><circle cx="463.1" cy="62.3" r="0.74"/><circle cx="482.1" cy="79.4" r="0.74"/><circle cx="482.6" cy="70.1" r="0.74"/><circle cx="483.1" cy="59.8" r="0.74"/><circle cx="473.9" cy="45.3" r="0.74"/><circle cx="493.5" cy="77.4" r="0.74"/><circle cx="462.8" cy="70.1" r="0.74"/><circle cx="479.4" cy="60.6" r="0.74"/><circle cx="491.8" cy="45.9" r="0.74"/><circle cx="482.5" cy="59.8" r="0.74"/><circle cx="479.4" cy="74.3" r="0.74"/><circle cx="500.7" cy="71.3" r="0.74"/><circle cx="482.9" cy="74.0" r="0.74"/><circle cx="487.7" cy="62.1" r="0.74"/><circle cx="482.9" cy="83.8" r="0.74"/><circle cx="487.9" cy="79.7" r="0.74"/><circle cx="480.4" cy="66.7" r="0.74"/><circle cx="487.0" cy="98.3" r="0.74"/><circle cx="502.8" cy="59.4" r="0.74"/><circle cx="505.4" cy="37.9" r="0.74"/><circle cx="474.0" cy="76.4" r="0.74"/><circle cx="486.9" cy="57.8" r="0.74"/><circle cx="478.6" cy="73.5" r="0.74"/><circle cx="495.8" cy="80.7" r="0.74"/><circle cx="486.4" cy="56.1" r="0.74"/><circle cx="481.1" cy="60.0" r="0.74"/><circle cx="482.7" cy="89.6" r="0.74"/><circle cx="477.9" cy="72.4" r="0.74"/><circle cx="480.1" cy="69.7" r="0.74"/><circle cx="487.9" cy="66.5" r="0.74"/><circle cx="485.5" cy="75.7" r="0.74"/><circle cx="481.0" cy="75.0" r="0.74"/><circle cx="476.9" cy="53.3" r="0.74"/><circle cx="462.6" cy="67.7" r="0.74"/><circle cx="465.4" cy="78.2" r="0.74"/><circle cx="491.7" cy="74.4" r="0.74"/><circle cx="498.1" cy="82.8" r="0.74"/><circle cx="479.6" cy="79.0" r="0.74"/><circle cx="482.8" cy="75.2" r="0.74"/><circle cx="478.4" cy="70.4" r="0.74"/><circle cx="494.4" cy="69.7" r="0.74"/><circle cx="482.9" cy="75.4" r="0.74"/><circle cx="474.4" cy="89.9" r="0.74"/><circle cx="470.6" cy="71.6" r="0.74"/><circle cx="461.1" cy="64.0" r="0.74"/><circle cx="477.2" cy="83.9" r="0.74"/><circle cx="475.8" cy="64.2" r="0.74"/><circle cx="485.7" cy="69.0" r="0.74"/><circle cx="500.9" cy="42.9" r="0.74"/><circle cx="468.2" cy="60.7" r="0.74"/><circle cx="474.1" cy="88.5" r="0.74"/><circle cx="476.9" cy="58.5" r="0.74"/><circle cx="479.5" cy="76.7" r="0.74"/><circle cx="498.5" cy="64.1" r="0.74"/><circle cx="482.6" cy="47.5" r="0.74"/><circle cx="489.1" cy="78.8" r="0.74"/><circle cx="472.2" cy="74.8" r="0.74"/><circle cx="486.0" cy="57.7" r="0.74"/><circle cx="493.4" cy="67.9" r="0.74"/><circle cx="471.6" cy="57.7" r="0.74"/><circle cx="485.3" cy="82.9" r="0.74"/><circle cx="470.9" cy="66.6" r="0.74"/><circle cx="488.0" cy="59.3" r="0.74"/><circle cx="470.9" cy="45.6" r="0.74"/><circle cx="464.4" cy="70.1" r="0.74"/><circle cx="498.6" cy="56.6" r="0.74"/><circle cx="473.6" cy="62.1" r="0.74"/><circle cx="497.3" cy="60.5" r="0.74"/><circle cx="473.2" cy="49.0" r="0.74"/><circle cx="466.2" cy="69.3" r="0.74"/><circle cx="472.2" cy="75.3" r="0.74"/><circle cx="480.1" cy="63.8" r="0.74"/><circle cx="469.9" cy="67.4" r="0.74"/><circle cx="497.7" cy="69.1" r="0.74"/><circle cx="489.5" cy="64.8" r="0.74"/><circle cx="475.5" cy="74.8" r="0.74"/><circle cx="484.1" cy="64.2" r="0.74"/><circle cx="505.6" cy="49.8" r="0.74"/><circle cx="478.5" cy="75.6" r="0.74"/><circle cx="472.5" cy="99.1" r="0.74"/><circle cx="497.8" cy="63.6" r="0.74"/><circle cx="462.3" cy="70.1" r="0.74"/><circle cx="509.2" cy="64.1" r="0.74"/><circle cx="489.1" cy="67.6" r="0.74"/><circle cx="475.3" cy="84.8" r="0.74"/><circle cx="474.6" cy="68.2" r="0.74"/><circle cx="481.0" cy="61.3" r="0.74"/><circle cx="502.9" cy="62.5" r="0.74"/><circle cx="492.9" cy="74.3" r="0.74"/><circle cx="469.7" cy="42.7" r="0.74"/><circle cx="491.8" cy="55.0" r="0.74"/><circle cx="479.8" cy="91.1" r="0.74"/><circle cx="498.3" cy="96.8" r="0.74"/><circle cx="482.1" cy="76.5" r="0.74"/><circle cx="486.3" cy="59.6" r="0.74"/><circle cx="492.9" cy="96.1" r="0.74"/><circle cx="494.7" cy="93.7" r="0.74"/>
</g>
<line x1="458.6" y1="20.7" x2="409.5" y2="117.0" stroke="#00ff00" stroke-width="1.4"/>
<path d="M316.6 20.6V117.8H538.4" fill="none" stroke="#bcbcbc" stroke-width="0.9"/>
<path d="M316.6 117.8v-2.3 M372.1 117.8v-2.3 M427.5 117.8v-2.3 M482.9 117.8v-2.3 M538.4 117.8v-2.3 M316.6 117.8h2.3 M316.6 93.5h2.3 M316.6 69.2h2.3 M316.6 44.9h2.3 M316.6 20.6h2.3" stroke="#b4b4b4" stroke-width="0.8"/>
<g font-family="DejaVu Sans, sans-serif" font-size="7.9" fill="#262626" stroke="#262626" stroke-width="0.2"><text x="316.6" y="127.4" text-anchor="middle">-5</text><text x="372.1" y="127.4" text-anchor="middle">0</text><text x="427.5" y="127.4" text-anchor="middle">5</text><text x="482.9" y="127.4" text-anchor="middle">10</text><text x="538.4" y="127.4" text-anchor="middle">15</text><text x="314.1" y="120.7" text-anchor="end">6</text><text x="314.1" y="96.4" text-anchor="end">8</text><text x="314.1" y="72.1" text-anchor="end">10</text><text x="314.1" y="47.8" text-anchor="end">12</text><text x="314.1" y="23.5" text-anchor="end">14</text></g>
<text x="356.5" y="16.7" font-family="DejaVu Sans, sans-serif" font-weight="bold" font-size="8.3" fill="#000">w<tspan font-size="6.8" dy="-3.4">(1)</tspan><tspan dy="3.4">: -8.0857</tspan></text>
<text x="440.5" y="16.7" font-family="DejaVu Sans, sans-serif" font-weight="bold" font-size="8.3" fill="#000">w<tspan font-size="6.8" dy="-3.4">(2)</tspan><tspan dy="3.4">: 4.4246</tspan></text>
<text x="423.0" y="137.8" font-family="DejaVu Sans, sans-serif" font-size="8.1" fill="#262626" stroke="#262626" stroke-width="0.18">v<tspan font-size="7.1" dy="3.9">1</tspan></text>
<text transform="translate(298.1 74.0) rotate(-90)" font-family="DejaVu Sans, sans-serif" font-size="8.1" fill="#262626" stroke="#262626" stroke-width="0.18">v<tspan font-size="7.1" dy="3.9">2</tspan></text>
<g font-family="Liberation Serif, serif" fill="#000"><text x="413.98" y="161.80" font-size="14">(</text><text x="418.34" y="161.50" font-size="12.2" font-weight="bold">b</text><text x="426.35" y="161.80" font-size="14">)</text></g>
<g fill="#ff0010" fill-opacity="0.29" filter="url(#bl)">
<circle cx="110.5" cy="235.1" r="1.35"/><circle cx="122.7" cy="220.8" r="1.35"/><circle cx="153.3" cy="223.4" r="1.35"/><circle cx="116.0" cy="230.7" r="1.35"/><circle cx="144.8" cy="210.9" r="1.35"/><circle cx="134.3" cy="234.4" r="1.35"/><circle cx="107.1" cy="211.2" r="1.35"/><circle cx="132.7" cy="238.4" r="1.35"/><circle cx="126.4" cy="233.8" r="1.35"/><circle cx="114.3" cy="228.3" r="1.35"/><circle cx="112.5" cy="219.8" r="1.35"/><circle cx="126.8" cy="229.1" r="1.35"/><circle cx="137.3" cy="217.5" r="1.35"/><circle cx="91.9" cy="226.4" r="1.35"/><circle cx="106.6" cy="225.7" r="1.35"/><circle cx="99.7" cy="224.1" r="1.35"/><circle cx="127.4" cy="226.8" r="1.35"/><circle cx="105.1" cy="227.5" r="1.35"/><circle cx="104.1" cy="235.4" r="1.35"/><circle cx="133.2" cy="233.3" r="1.35"/><circle cx="154.1" cy="218.4" r="1.35"/><circle cx="84.1" cy="222.1" r="1.35"/><circle cx="103.9" cy="224.0" r="1.35"/><circle cx="129.2" cy="240.5" r="1.35"/><circle cx="123.1" cy="226.4" r="1.35"/><circle cx="149.5" cy="233.9" r="1.35"/><circle cx="144.5" cy="233.3" r="1.35"/><circle cx="120.9" cy="231.1" r="1.35"/><circle cx="160.2" cy="219.6" r="1.35"/><circle cx="182.0" cy="219.0" r="1.35"/><circle cx="146.9" cy="217.4" r="1.35"/><circle cx="114.8" cy="224.9" r="1.35"/><circle cx="158.1" cy="227.5" r="1.35"/><circle cx="132.4" cy="224.5" r="1.35"/><circle cx="141.7" cy="227.3" r="1.35"/><circle cx="124.9" cy="222.3" r="1.35"/><circle cx="130.5" cy="231.3" r="1.35"/><circle cx="148.0" cy="234.9" r="1.35"/><circle cx="101.7" cy="234.8" r="1.35"/><circle cx="149.6" cy="227.2" r="1.35"/><circle cx="106.8" cy="233.6" r="1.35"/><circle cx="137.5" cy="232.9" r="1.35"/><circle cx="100.1" cy="219.3" r="1.35"/><circle cx="101.8" cy="226.9" r="1.35"/><circle cx="128.1" cy="227.9" r="1.35"/><circle cx="127.0" cy="213.3" r="1.35"/><circle cx="116.8" cy="234.6" r="1.35"/><circle cx="87.6" cy="226.0" r="1.35"/><circle cx="120.4" cy="222.1" r="1.35"/><circle cx="118.0" cy="228.2" r="1.35"/><circle cx="112.3" cy="228.5" r="1.35"/><circle cx="131.8" cy="227.4" r="1.35"/><circle cx="130.4" cy="208.8" r="1.35"/><circle cx="138.8" cy="237.2" r="1.35"/><circle cx="166.5" cy="221.4" r="1.35"/><circle cx="107.4" cy="216.9" r="1.35"/><circle cx="128.6" cy="229.3" r="1.35"/><circle cx="114.2" cy="232.4" r="1.35"/><circle cx="129.3" cy="215.6" r="1.35"/><circle cx="121.0" cy="220.8" r="1.35"/><circle cx="169.7" cy="234.2" r="1.35"/><circle cx="133.9" cy="226.8" r="1.35"/><circle cx="104.8" cy="232.7" r="1.35"/><circle cx="127.9" cy="220.7" r="1.35"/><circle cx="116.5" cy="223.8" r="1.35"/><circle cx="144.2" cy="221.9" r="1.35"/><circle cx="147.4" cy="220.5" r="1.35"/><circle cx="139.0" cy="209.4" r="1.35"/><circle cx="142.0" cy="223.2" r="1.35"/><circle cx="143.9" cy="231.8" r="1.35"/><circle cx="120.8" cy="217.8" r="1.35"/><circle cx="142.2" cy="211.6" r="1.35"/><circle cx="128.5" cy="236.2" r="1.35"/><circle cx="171.3" cy="215.4" r="1.35"/><circle cx="104.8" cy="213.0" r="1.35"/><circle cx="128.9" cy="239.1" r="1.35"/><circle cx="118.9" cy="228.4" r="1.35"/><circle cx="163.4" cy="230.8" r="1.35"/><circle cx="122.6" cy="226.5" r="1.35"/><circle cx="119.9" cy="231.7" r="1.35"/><circle cx="133.1" cy="215.5" r="1.35"/><circle cx="142.0" cy="231.9" r="1.35"/><circle cx="102.8" cy="223.3" r="1.35"/><circle cx="112.6" cy="229.4" r="1.35"/><circle cx="91.1" cy="208.4" r="1.35"/><circle cx="148.5" cy="232.2" r="1.35"/><circle cx="148.3" cy="213.3" r="1.35"/><circle cx="75.4" cy="228.8" r="1.35"/><circle cx="119.7" cy="219.0" r="1.35"/><circle cx="125.5" cy="226.2" r="1.35"/><circle cx="126.9" cy="209.1" r="1.35"/><circle cx="176.0" cy="228.6" r="1.35"/><circle cx="107.8" cy="225.4" r="1.35"/><circle cx="106.6" cy="229.0" r="1.35"/><circle cx="129.0" cy="220.3" r="1.35"/><circle cx="151.0" cy="221.1" r="1.35"/><circle cx="109.0" cy="220.1" r="1.35"/><circle cx="133.8" cy="209.0" r="1.35"/><circle cx="127.9" cy="235.2" r="1.35"/><circle cx="105.1" cy="212.4" r="1.35"/><circle cx="116.3" cy="241.5" r="1.35"/><circle cx="115.4" cy="224.3" r="1.35"/><circle cx="154.5" cy="232.6" r="1.35"/><circle cx="143.0" cy="217.8" r="1.35"/><circle cx="112.8" cy="225.8" r="1.35"/><circle cx="167.3" cy="210.2" r="1.35"/><circle cx="147.1" cy="221.6" r="1.35"/><circle cx="153.4" cy="225.4" r="1.35"/><circle cx="126.1" cy="231.3" r="1.35"/><circle cx="128.4" cy="225.0" r="1.35"/><circle cx="128.4" cy="225.9" r="1.35"/><circle cx="156.3" cy="213.5" r="1.35"/><circle cx="124.1" cy="214.7" r="1.35"/><circle cx="80.1" cy="223.5" r="1.35"/><circle cx="147.2" cy="243.9" r="1.35"/><circle cx="102.6" cy="215.7" r="1.35"/><circle cx="122.6" cy="233.3" r="1.35"/><circle cx="120.0" cy="228.7" r="1.35"/><circle cx="144.2" cy="220.6" r="1.35"/><circle cx="122.0" cy="229.7" r="1.35"/><circle cx="127.0" cy="213.5" r="1.35"/><circle cx="135.9" cy="219.1" r="1.35"/><circle cx="124.9" cy="234.8" r="1.35"/><circle cx="112.5" cy="219.0" r="1.35"/><circle cx="130.5" cy="231.7" r="1.35"/><circle cx="92.5" cy="223.4" r="1.35"/><circle cx="120.7" cy="227.1" r="1.35"/><circle cx="120.9" cy="222.0" r="1.35"/><circle cx="134.7" cy="216.4" r="1.35"/><circle cx="148.7" cy="213.4" r="1.35"/><circle cx="146.0" cy="227.0" r="1.35"/><circle cx="127.0" cy="220.2" r="1.35"/><circle cx="121.4" cy="219.8" r="1.35"/><circle cx="153.7" cy="230.8" r="1.35"/><circle cx="89.1" cy="214.5" r="1.35"/><circle cx="128.6" cy="218.5" r="1.35"/><circle cx="98.8" cy="210.1" r="1.35"/><circle cx="144.5" cy="225.3" r="1.35"/><circle cx="120.5" cy="223.4" r="1.35"/><circle cx="124.5" cy="226.6" r="1.35"/><circle cx="103.5" cy="214.0" r="1.35"/><circle cx="127.4" cy="223.7" r="1.35"/><circle cx="130.3" cy="243.5" r="1.35"/><circle cx="139.9" cy="227.0" r="1.35"/><circle cx="121.8" cy="223.7" r="1.35"/><circle cx="106.7" cy="217.4" r="1.35"/><circle cx="112.9" cy="231.7" r="1.35"/><circle cx="109.2" cy="223.0" r="1.35"/><circle cx="144.7" cy="229.1" r="1.35"/><circle cx="94.9" cy="215.6" r="1.35"/><circle cx="104.7" cy="214.5" r="1.35"/><circle cx="127.0" cy="230.0" r="1.35"/><circle cx="114.1" cy="220.5" r="1.35"/><circle cx="147.9" cy="225.9" r="1.35"/><circle cx="149.2" cy="207.2" r="1.35"/><circle cx="123.6" cy="233.7" r="1.35"/><circle cx="104.9" cy="235.6" r="1.35"/><circle cx="114.1" cy="230.2" r="1.35"/><circle cx="98.9" cy="220.0" r="1.35"/><circle cx="142.0" cy="235.1" r="1.35"/><circle cx="172.8" cy="215.8" r="1.35"/><circle cx="139.8" cy="220.5" r="1.35"/><circle cx="167.4" cy="219.9" r="1.35"/><circle cx="129.9" cy="234.3" r="1.35"/><circle cx="126.6" cy="230.3" r="1.35"/><circle cx="112.6" cy="230.1" r="1.35"/><circle cx="127.2" cy="227.0" r="1.35"/><circle cx="147.5" cy="235.1" r="1.35"/><circle cx="124.5" cy="209.1" r="1.35"/><circle cx="129.1" cy="214.5" r="1.35"/><circle cx="153.3" cy="213.5" r="1.35"/><circle cx="144.5" cy="235.6" r="1.35"/><circle cx="122.3" cy="227.4" r="1.35"/><circle cx="94.0" cy="228.1" r="1.35"/><circle cx="100.6" cy="237.9" r="1.35"/><circle cx="132.9" cy="224.6" r="1.35"/><circle cx="113.0" cy="232.0" r="1.35"/><circle cx="116.3" cy="227.5" r="1.35"/><circle cx="119.2" cy="224.7" r="1.35"/><circle cx="118.6" cy="221.1" r="1.35"/><circle cx="139.8" cy="221.4" r="1.35"/><circle cx="113.6" cy="229.3" r="1.35"/><circle cx="137.8" cy="225.9" r="1.35"/><circle cx="127.3" cy="244.6" r="1.35"/><circle cx="130.4" cy="221.5" r="1.35"/><circle cx="135.5" cy="212.9" r="1.35"/><circle cx="144.2" cy="222.5" r="1.35"/><circle cx="128.6" cy="235.9" r="1.35"/><circle cx="147.7" cy="229.2" r="1.35"/><circle cx="139.3" cy="222.6" r="1.35"/><circle cx="134.2" cy="217.0" r="1.35"/><circle cx="117.4" cy="227.4" r="1.35"/><circle cx="109.3" cy="227.4" r="1.35"/><circle cx="165.0" cy="227.2" r="1.35"/><circle cx="154.4" cy="217.5" r="1.35"/><circle cx="144.3" cy="217.7" r="1.35"/><circle cx="105.8" cy="221.2" r="1.35"/><circle cx="163.3" cy="230.0" r="1.35"/><circle cx="127.2" cy="229.9" r="1.35"/><circle cx="135.2" cy="233.1" r="1.35"/><circle cx="163.8" cy="227.4" r="1.35"/><circle cx="94.1" cy="209.7" r="1.35"/><circle cx="149.7" cy="220.0" r="1.35"/><circle cx="140.0" cy="227.2" r="1.35"/><circle cx="123.3" cy="218.4" r="1.35"/><circle cx="148.5" cy="216.7" r="1.35"/><circle cx="132.9" cy="228.1" r="1.35"/><circle cx="124.0" cy="215.2" r="1.35"/><circle cx="160.0" cy="227.1" r="1.35"/><circle cx="117.7" cy="214.1" r="1.35"/><circle cx="144.2" cy="218.6" r="1.35"/><circle cx="99.2" cy="227.3" r="1.35"/><circle cx="116.8" cy="222.6" r="1.35"/><circle cx="91.0" cy="213.9" r="1.35"/><circle cx="134.9" cy="220.7" r="1.35"/><circle cx="102.1" cy="224.5" r="1.35"/><circle cx="157.7" cy="237.1" r="1.35"/><circle cx="135.0" cy="218.6" r="1.35"/><circle cx="112.9" cy="217.6" r="1.35"/><circle cx="120.9" cy="214.2" r="1.35"/><circle cx="139.9" cy="222.5" r="1.35"/><circle cx="172.6" cy="217.5" r="1.35"/><circle cx="157.1" cy="234.0" r="1.35"/><circle cx="113.9" cy="217.5" r="1.35"/><circle cx="148.2" cy="224.7" r="1.35"/><circle cx="145.5" cy="232.9" r="1.35"/><circle cx="133.0" cy="233.7" r="1.35"/><circle cx="135.8" cy="228.3" r="1.35"/><circle cx="114.1" cy="223.8" r="1.35"/><circle cx="168.4" cy="232.5" r="1.35"/><circle cx="114.9" cy="215.6" r="1.35"/><circle cx="118.9" cy="209.8" r="1.35"/><circle cx="133.1" cy="223.5" r="1.35"/><circle cx="136.1" cy="210.1" r="1.35"/><circle cx="142.7" cy="220.1" r="1.35"/><circle cx="133.8" cy="237.0" r="1.35"/><circle cx="108.7" cy="212.2" r="1.35"/><circle cx="146.4" cy="220.1" r="1.35"/><circle cx="142.3" cy="228.7" r="1.35"/><circle cx="135.7" cy="231.6" r="1.35"/><circle cx="136.9" cy="230.1" r="1.35"/><circle cx="123.5" cy="220.6" r="1.35"/><circle cx="121.0" cy="219.0" r="1.35"/><circle cx="138.3" cy="221.3" r="1.35"/><circle cx="157.5" cy="236.3" r="1.35"/><circle cx="93.0" cy="219.2" r="1.35"/><circle cx="149.0" cy="207.9" r="1.35"/><circle cx="144.9" cy="217.5" r="1.35"/><circle cx="108.7" cy="218.1" r="1.35"/><circle cx="143.1" cy="232.9" r="1.35"/><circle cx="108.4" cy="225.2" r="1.35"/><circle cx="134.6" cy="240.2" r="1.35"/><circle cx="129.8" cy="222.4" r="1.35"/><circle cx="124.3" cy="222.1" r="1.35"/><circle cx="138.3" cy="232.5" r="1.35"/><circle cx="137.4" cy="226.3" r="1.35"/><circle cx="107.3" cy="222.6" r="1.35"/><circle cx="161.1" cy="236.2" r="1.35"/><circle cx="91.7" cy="237.8" r="1.35"/><circle cx="171.9" cy="226.3" r="1.35"/><circle cx="126.9" cy="230.7" r="1.35"/><circle cx="107.4" cy="240.8" r="1.35"/><circle cx="132.0" cy="222.2" r="1.35"/><circle cx="84.6" cy="232.8" r="1.35"/><circle cx="111.8" cy="224.5" r="1.35"/><circle cx="133.6" cy="215.1" r="1.35"/><circle cx="158.4" cy="215.6" r="1.35"/><circle cx="157.9" cy="233.8" r="1.35"/><circle cx="116.0" cy="214.9" r="1.35"/><circle cx="134.6" cy="224.1" r="1.35"/><circle cx="84.5" cy="239.5" r="1.35"/><circle cx="144.4" cy="221.5" r="1.35"/><circle cx="121.7" cy="227.7" r="1.35"/><circle cx="90.1" cy="221.3" r="1.35"/><circle cx="151.1" cy="210.9" r="1.35"/><circle cx="129.3" cy="226.0" r="1.35"/><circle cx="104.0" cy="214.3" r="1.35"/><circle cx="165.9" cy="229.3" r="1.35"/><circle cx="134.7" cy="223.5" r="1.35"/><circle cx="115.5" cy="244.7" r="1.35"/><circle cx="120.1" cy="219.3" r="1.35"/><circle cx="96.3" cy="231.1" r="1.35"/><circle cx="168.3" cy="213.8" r="1.35"/><circle cx="139.3" cy="223.9" r="1.35"/><circle cx="122.3" cy="229.5" r="1.35"/><circle cx="126.5" cy="226.8" r="1.35"/><circle cx="122.7" cy="224.6" r="1.35"/><circle cx="131.0" cy="211.6" r="1.35"/><circle cx="96.2" cy="222.1" r="1.35"/><circle cx="114.4" cy="233.6" r="1.35"/><circle cx="75.9" cy="219.3" r="1.35"/><circle cx="106.3" cy="230.5" r="1.35"/><circle cx="138.4" cy="233.2" r="1.35"/><circle cx="128.6" cy="225.0" r="1.35"/><circle cx="145.7" cy="216.1" r="1.35"/><circle cx="108.9" cy="216.9" r="1.35"/><circle cx="125.9" cy="223.4" r="1.35"/><circle cx="123.3" cy="218.0" r="1.35"/><circle cx="101.2" cy="222.2" r="1.35"/><circle cx="154.0" cy="226.7" r="1.35"/><circle cx="172.8" cy="230.4" r="1.35"/><circle cx="132.7" cy="228.3" r="1.35"/><circle cx="114.3" cy="233.5" r="1.35"/><circle cx="116.1" cy="224.8" r="1.35"/><circle cx="110.3" cy="217.2" r="1.35"/><circle cx="161.6" cy="236.9" r="1.35"/><circle cx="146.5" cy="222.8" r="1.35"/><circle cx="133.4" cy="204.3" r="1.35"/><circle cx="154.6" cy="221.6" r="1.35"/><circle cx="132.1" cy="242.0" r="1.35"/><circle cx="145.3" cy="230.4" r="1.35"/><circle cx="132.1" cy="223.5" r="1.35"/><circle cx="149.4" cy="207.7" r="1.35"/><circle cx="150.0" cy="213.9" r="1.35"/><circle cx="123.0" cy="220.6" r="1.35"/><circle cx="145.2" cy="236.0" r="1.35"/><circle cx="173.3" cy="230.1" r="1.35"/><circle cx="100.0" cy="210.9" r="1.35"/><circle cx="175.0" cy="230.0" r="1.35"/><circle cx="114.7" cy="236.6" r="1.35"/><circle cx="130.7" cy="240.5" r="1.35"/><circle cx="114.7" cy="207.9" r="1.35"/><circle cx="142.8" cy="218.1" r="1.35"/><circle cx="155.3" cy="218.8" r="1.35"/><circle cx="120.9" cy="237.3" r="1.35"/><circle cx="138.1" cy="233.4" r="1.35"/><circle cx="127.0" cy="209.9" r="1.35"/><circle cx="140.2" cy="223.8" r="1.35"/><circle cx="129.7" cy="218.3" r="1.35"/><circle cx="148.6" cy="235.0" r="1.35"/><circle cx="132.3" cy="210.3" r="1.35"/><circle cx="144.9" cy="230.5" r="1.35"/><circle cx="113.2" cy="241.1" r="1.35"/><circle cx="110.7" cy="211.2" r="1.35"/><circle cx="126.7" cy="231.3" r="1.35"/><circle cx="115.5" cy="225.2" r="1.35"/><circle cx="125.9" cy="227.2" r="1.35"/><circle cx="111.2" cy="219.1" r="1.35"/><circle cx="162.2" cy="228.9" r="1.35"/><circle cx="116.3" cy="214.6" r="1.35"/><circle cx="95.9" cy="229.1" r="1.35"/><circle cx="119.9" cy="222.9" r="1.35"/><circle cx="122.2" cy="231.5" r="1.35"/><circle cx="135.1" cy="234.0" r="1.35"/><circle cx="89.7" cy="240.8" r="1.35"/><circle cx="144.8" cy="238.5" r="1.35"/><circle cx="138.1" cy="218.8" r="1.35"/><circle cx="146.1" cy="225.7" r="1.35"/><circle cx="116.1" cy="223.6" r="1.35"/><circle cx="115.1" cy="234.8" r="1.35"/><circle cx="156.0" cy="231.6" r="1.35"/><circle cx="167.9" cy="220.1" r="1.35"/><circle cx="118.2" cy="220.7" r="1.35"/><circle cx="155.4" cy="235.5" r="1.35"/><circle cx="107.8" cy="232.9" r="1.35"/><circle cx="131.9" cy="221.0" r="1.35"/><circle cx="128.9" cy="230.2" r="1.35"/><circle cx="116.6" cy="214.6" r="1.35"/><circle cx="152.9" cy="223.2" r="1.35"/><circle cx="99.3" cy="219.2" r="1.35"/><circle cx="134.6" cy="222.2" r="1.35"/><circle cx="166.5" cy="217.6" r="1.35"/><circle cx="106.7" cy="232.2" r="1.35"/><circle cx="158.7" cy="222.6" r="1.35"/><circle cx="147.8" cy="225.2" r="1.35"/><circle cx="107.2" cy="221.6" r="1.35"/><circle cx="164.0" cy="221.0" r="1.35"/><circle cx="104.7" cy="226.3" r="1.35"/><circle cx="118.8" cy="222.3" r="1.35"/><circle cx="152.5" cy="207.5" r="1.35"/><circle cx="135.2" cy="227.0" r="1.35"/><circle cx="132.0" cy="223.4" r="1.35"/><circle cx="120.9" cy="223.3" r="1.35"/><circle cx="130.3" cy="233.1" r="1.35"/><circle cx="142.5" cy="226.5" r="1.35"/><circle cx="108.6" cy="219.5" r="1.35"/><circle cx="119.6" cy="209.3" r="1.35"/><circle cx="140.8" cy="222.9" r="1.35"/><circle cx="113.5" cy="226.9" r="1.35"/><circle cx="148.9" cy="229.2" r="1.35"/><circle cx="146.9" cy="240.8" r="1.35"/><circle cx="134.4" cy="217.0" r="1.35"/><circle cx="137.4" cy="223.7" r="1.35"/><circle cx="152.2" cy="230.6" r="1.35"/><circle cx="108.2" cy="222.8" r="1.35"/><circle cx="156.5" cy="220.1" r="1.35"/><circle cx="125.6" cy="221.2" r="1.35"/><circle cx="139.7" cy="233.8" r="1.35"/><circle cx="123.2" cy="232.0" r="1.35"/><circle cx="96.9" cy="228.4" r="1.35"/><circle cx="103.3" cy="230.7" r="1.35"/><circle cx="139.5" cy="222.9" r="1.35"/><circle cx="129.4" cy="210.1" r="1.35"/><circle cx="119.9" cy="226.7" r="1.35"/><circle cx="158.1" cy="232.7" r="1.35"/><circle cx="94.1" cy="212.9" r="1.35"/><circle cx="137.7" cy="218.6" r="1.35"/><circle cx="144.4" cy="216.1" r="1.35"/><circle cx="120.0" cy="224.1" r="1.35"/><circle cx="105.9" cy="222.3" r="1.35"/><circle cx="135.7" cy="227.1" r="1.35"/><circle cx="145.4" cy="219.7" r="1.35"/><circle cx="105.3" cy="216.6" r="1.35"/><circle cx="151.7" cy="214.6" r="1.35"/><circle cx="113.2" cy="213.5" r="1.35"/><circle cx="145.5" cy="224.2" r="1.35"/><circle cx="123.6" cy="221.2" r="1.35"/><circle cx="151.9" cy="215.9" r="1.35"/><circle cx="182.0" cy="226.0" r="1.35"/><circle cx="145.2" cy="226.5" r="1.35"/><circle cx="148.9" cy="221.9" r="1.35"/><circle cx="118.5" cy="233.8" r="1.35"/><circle cx="114.7" cy="221.0" r="1.35"/><circle cx="164.2" cy="216.7" r="1.35"/><circle cx="105.2" cy="227.0" r="1.35"/><circle cx="132.3" cy="224.2" r="1.35"/><circle cx="132.4" cy="217.0" r="1.35"/><circle cx="135.2" cy="229.2" r="1.35"/><circle cx="87.5" cy="226.5" r="1.35"/><circle cx="92.6" cy="225.1" r="1.35"/><circle cx="136.3" cy="234.9" r="1.35"/><circle cx="125.7" cy="227.0" r="1.35"/><circle cx="170.3" cy="220.6" r="1.35"/><circle cx="86.2" cy="220.8" r="1.35"/><circle cx="136.8" cy="226.2" r="1.35"/><circle cx="119.1" cy="219.8" r="1.35"/><circle cx="141.8" cy="221.2" r="1.35"/><circle cx="105.0" cy="226.8" r="1.35"/><circle cx="92.3" cy="237.1" r="1.35"/><circle cx="114.2" cy="233.5" r="1.35"/><circle cx="117.3" cy="204.7" r="1.35"/><circle cx="137.1" cy="232.3" r="1.35"/><circle cx="78.3" cy="232.0" r="1.35"/><circle cx="94.1" cy="243.2" r="1.35"/><circle cx="141.6" cy="229.2" r="1.35"/><circle cx="135.2" cy="226.7" r="1.35"/><circle cx="131.5" cy="224.3" r="1.35"/><circle cx="133.2" cy="227.5" r="1.35"/><circle cx="107.2" cy="227.0" r="1.35"/><circle cx="150.7" cy="227.5" r="1.35"/><circle cx="95.3" cy="235.5" r="1.35"/><circle cx="102.8" cy="225.2" r="1.35"/><circle cx="136.3" cy="221.3" r="1.35"/><circle cx="152.1" cy="226.8" r="1.35"/><circle cx="144.6" cy="222.3" r="1.35"/><circle cx="142.0" cy="239.9" r="1.35"/><circle cx="154.3" cy="237.4" r="1.35"/><circle cx="102.1" cy="218.3" r="1.35"/><circle cx="118.7" cy="210.2" r="1.35"/><circle cx="131.0" cy="232.9" r="1.35"/><circle cx="131.1" cy="227.8" r="1.35"/><circle cx="162.0" cy="211.1" r="1.35"/><circle cx="144.1" cy="227.7" r="1.35"/><circle cx="129.8" cy="215.8" r="1.35"/><circle cx="110.3" cy="230.9" r="1.35"/><circle cx="146.8" cy="218.4" r="1.35"/><circle cx="122.9" cy="226.6" r="1.35"/><circle cx="84.9" cy="214.7" r="1.35"/><circle cx="125.4" cy="236.0" r="1.35"/><circle cx="103.1" cy="231.6" r="1.35"/><circle cx="165.7" cy="218.7" r="1.35"/><circle cx="98.6" cy="209.2" r="1.35"/><circle cx="157.7" cy="232.9" r="1.35"/><circle cx="124.9" cy="216.4" r="1.35"/><circle cx="114.9" cy="225.4" r="1.35"/><circle cx="116.6" cy="214.0" r="1.35"/><circle cx="160.9" cy="217.7" r="1.35"/><circle cx="124.9" cy="222.1" r="1.35"/><circle cx="142.0" cy="237.1" r="1.35"/><circle cx="155.7" cy="226.9" r="1.35"/><circle cx="134.0" cy="223.1" r="1.35"/><circle cx="148.3" cy="215.5" r="1.35"/><circle cx="177.1" cy="227.1" r="1.35"/><circle cx="108.4" cy="223.1" r="1.35"/><circle cx="114.0" cy="217.1" r="1.35"/><circle cx="110.8" cy="223.1" r="1.35"/><circle cx="149.4" cy="215.8" r="1.35"/><circle cx="133.2" cy="212.6" r="1.35"/><circle cx="157.2" cy="238.0" r="1.35"/><circle cx="136.7" cy="222.6" r="1.35"/><circle cx="122.3" cy="229.2" r="1.35"/><circle cx="129.9" cy="220.9" r="1.35"/><circle cx="135.0" cy="212.8" r="1.35"/><circle cx="150.9" cy="228.8" r="1.35"/><circle cx="112.3" cy="217.1" r="1.35"/><circle cx="113.6" cy="222.6" r="1.35"/><circle cx="139.6" cy="215.6" r="1.35"/><circle cx="140.5" cy="212.2" r="1.35"/><circle cx="119.0" cy="218.5" r="1.35"/><circle cx="114.6" cy="222.4" r="1.35"/><circle cx="131.9" cy="231.5" r="1.35"/><circle cx="71.6" cy="216.1" r="1.35"/><circle cx="137.2" cy="222.8" r="1.35"/><circle cx="113.7" cy="226.7" r="1.35"/><circle cx="139.2" cy="223.8" r="1.35"/><circle cx="154.8" cy="223.0" r="1.35"/><circle cx="111.0" cy="219.0" r="1.35"/><circle cx="115.1" cy="222.2" r="1.35"/><circle cx="89.1" cy="226.8" r="1.35"/><circle cx="141.3" cy="229.3" r="1.35"/><circle cx="68.8" cy="219.4" r="1.35"/><circle cx="196.4" cy="221.2" r="1.35"/><circle cx="201.9" cy="224.4" r="1.35"/>
</g>
<g fill="#0000ff" filter="url(#bl)">
<circle cx="155.5" cy="239.6" r="0.74"/><circle cx="80.0" cy="256.5" r="0.74"/><circle cx="154.7" cy="243.4" r="0.74"/><circle cx="147.2" cy="242.1" r="0.74"/><circle cx="139.5" cy="250.4" r="0.74"/><circle cx="137.2" cy="264.7" r="0.74"/><circle cx="115.7" cy="251.9" r="0.74"/><circle cx="121.3" cy="244.1" r="0.74"/><circle cx="160.5" cy="239.4" r="0.74"/><circle cx="132.9" cy="243.1" r="0.74"/><circle cx="114.5" cy="262.5" r="0.74"/><circle cx="135.2" cy="252.8" r="0.74"/><circle cx="100.0" cy="270.5" r="0.74"/><circle cx="140.9" cy="262.9" r="0.74"/><circle cx="158.8" cy="251.8" r="0.74"/><circle cx="139.9" cy="253.4" r="0.74"/><circle cx="152.2" cy="256.6" r="0.74"/><circle cx="156.2" cy="259.9" r="0.74"/><circle cx="128.7" cy="261.3" r="0.74"/><circle cx="146.0" cy="255.0" r="0.74"/><circle cx="115.4" cy="237.6" r="0.74"/><circle cx="125.8" cy="256.3" r="0.74"/><circle cx="141.7" cy="239.9" r="0.74"/><circle cx="130.4" cy="249.1" r="0.74"/><circle cx="135.5" cy="268.2" r="0.74"/><circle cx="150.1" cy="246.3" r="0.74"/><circle cx="128.4" cy="255.4" r="0.74"/><circle cx="102.0" cy="268.7" r="0.74"/><circle cx="125.3" cy="249.8" r="0.74"/><circle cx="123.6" cy="252.7" r="0.74"/><circle cx="153.7" cy="254.4" r="0.74"/><circle cx="145.5" cy="242.5" r="0.74"/><circle cx="107.3" cy="248.7" r="0.74"/><circle cx="94.0" cy="251.5" r="0.74"/><circle cx="137.7" cy="260.1" r="0.74"/><circle cx="110.9" cy="255.8" r="0.74"/><circle cx="124.9" cy="254.4" r="0.74"/><circle cx="114.4" cy="250.5" r="0.74"/><circle cx="111.8" cy="258.0" r="0.74"/><circle cx="125.2" cy="244.1" r="0.74"/><circle cx="102.1" cy="258.9" r="0.74"/><circle cx="158.2" cy="261.1" r="0.74"/><circle cx="107.5" cy="252.8" r="0.74"/><circle cx="127.4" cy="247.9" r="0.74"/><circle cx="114.2" cy="253.6" r="0.74"/><circle cx="147.4" cy="246.1" r="0.74"/><circle cx="110.3" cy="242.7" r="0.74"/><circle cx="114.6" cy="268.6" r="0.74"/><circle cx="113.5" cy="253.9" r="0.74"/><circle cx="126.7" cy="251.4" r="0.74"/><circle cx="143.8" cy="252.5" r="0.74"/><circle cx="128.1" cy="239.3" r="0.74"/><circle cx="87.0" cy="270.6" r="0.74"/><circle cx="122.8" cy="266.3" r="0.74"/><circle cx="79.9" cy="262.3" r="0.74"/><circle cx="117.8" cy="276.8" r="0.74"/><circle cx="151.5" cy="243.8" r="0.74"/><circle cx="159.3" cy="259.8" r="0.74"/><circle cx="136.6" cy="265.1" r="0.74"/><circle cx="137.8" cy="261.2" r="0.74"/><circle cx="142.1" cy="258.3" r="0.74"/><circle cx="155.1" cy="248.0" r="0.74"/><circle cx="159.4" cy="269.4" r="0.74"/><circle cx="95.3" cy="251.7" r="0.74"/><circle cx="121.4" cy="251.8" r="0.74"/><circle cx="139.7" cy="253.7" r="0.74"/><circle cx="152.7" cy="250.4" r="0.74"/><circle cx="143.4" cy="263.1" r="0.74"/><circle cx="169.6" cy="254.2" r="0.74"/><circle cx="156.7" cy="252.4" r="0.74"/><circle cx="160.1" cy="253.9" r="0.74"/><circle cx="138.0" cy="254.1" r="0.74"/><circle cx="118.6" cy="260.3" r="0.74"/><circle cx="130.4" cy="256.3" r="0.74"/><circle cx="112.9" cy="234.5" r="0.74"/><circle cx="112.9" cy="258.0" r="0.74"/><circle cx="184.7" cy="261.1" r="0.74"/><circle cx="149.5" cy="249.4" r="0.74"/><circle cx="129.1" cy="267.9" r="0.74"/><circle cx="100.9" cy="255.3" r="0.74"/><circle cx="142.3" cy="274.3" r="0.74"/><circle cx="136.7" cy="261.0" r="0.74"/><circle cx="152.2" cy="253.7" r="0.74"/><circle cx="116.7" cy="259.0" r="0.74"/><circle cx="134.5" cy="243.4" r="0.74"/><circle cx="132.6" cy="252.0" r="0.74"/><circle cx="136.2" cy="249.0" r="0.74"/><circle cx="134.4" cy="249.0" r="0.74"/><circle cx="143.3" cy="254.5" r="0.74"/><circle cx="118.7" cy="253.1" r="0.74"/><circle cx="154.3" cy="253.8" r="0.74"/><circle cx="167.2" cy="246.1" r="0.74"/><circle cx="132.7" cy="239.1" r="0.74"/><circle cx="112.0" cy="244.1" r="0.74"/><circle cx="174.5" cy="256.6" r="0.74"/><circle cx="133.5" cy="246.1" r="0.74"/><circle cx="165.7" cy="250.4" r="0.74"/><circle cx="140.9" cy="246.2" r="0.74"/><circle cx="141.4" cy="264.9" r="0.74"/><circle cx="132.0" cy="254.4" r="0.74"/><circle cx="104.5" cy="250.7" r="0.74"/><circle cx="120.4" cy="247.7" r="0.74"/><circle cx="104.7" cy="262.3" r="0.74"/><circle cx="105.4" cy="242.9" r="0.74"/><circle cx="162.6" cy="241.3" r="0.74"/><circle cx="166.9" cy="246.3" r="0.74"/><circle cx="154.7" cy="269.2" r="0.74"/><circle cx="142.8" cy="258.6" r="0.74"/><circle cx="129.2" cy="265.1" r="0.74"/><circle cx="163.5" cy="252.8" r="0.74"/><circle cx="104.8" cy="249.8" r="0.74"/><circle cx="134.1" cy="263.6" r="0.74"/><circle cx="129.0" cy="261.4" r="0.74"/><circle cx="86.7" cy="268.3" r="0.74"/><circle cx="144.9" cy="252.0" r="0.74"/><circle cx="139.5" cy="265.6" r="0.74"/><circle cx="121.0" cy="254.7" r="0.74"/><circle cx="147.9" cy="262.7" r="0.74"/><circle cx="111.2" cy="245.2" r="0.74"/><circle cx="134.9" cy="258.6" r="0.74"/><circle cx="117.9" cy="261.1" r="0.74"/><circle cx="166.7" cy="246.7" r="0.74"/><circle cx="124.7" cy="266.3" r="0.74"/><circle cx="168.5" cy="241.4" r="0.74"/><circle cx="158.7" cy="247.9" r="0.74"/><circle cx="93.9" cy="266.6" r="0.74"/><circle cx="145.3" cy="257.8" r="0.74"/><circle cx="138.8" cy="259.9" r="0.74"/><circle cx="119.7" cy="250.4" r="0.74"/><circle cx="125.1" cy="255.3" r="0.74"/><circle cx="138.8" cy="253.2" r="0.74"/><circle cx="157.7" cy="243.2" r="0.74"/><circle cx="104.8" cy="257.6" r="0.74"/><circle cx="119.9" cy="248.6" r="0.74"/><circle cx="111.0" cy="248.5" r="0.74"/><circle cx="148.1" cy="250.2" r="0.74"/><circle cx="113.0" cy="257.2" r="0.74"/><circle cx="110.8" cy="251.8" r="0.74"/><circle cx="153.4" cy="268.7" r="0.74"/><circle cx="116.1" cy="256.7" r="0.74"/><circle cx="122.3" cy="242.1" r="0.74"/><circle cx="130.4" cy="253.1" r="0.74"/><circle cx="110.1" cy="241.7" r="0.74"/><circle cx="136.9" cy="248.5" r="0.74"/><circle cx="135.2" cy="274.0" r="0.74"/><circle cx="99.9" cy="266.6" r="0.74"/><circle cx="143.3" cy="259.8" r="0.74"/><circle cx="142.4" cy="252.8" r="0.74"/><circle cx="138.6" cy="247.2" r="0.74"/><circle cx="137.2" cy="269.8" r="0.74"/><circle cx="119.2" cy="240.7" r="0.74"/><circle cx="111.0" cy="243.3" r="0.74"/><circle cx="168.1" cy="260.5" r="0.74"/><circle cx="140.7" cy="267.6" r="0.74"/><circle cx="149.6" cy="262.1" r="0.74"/><circle cx="106.0" cy="258.7" r="0.74"/><circle cx="123.9" cy="260.4" r="0.74"/><circle cx="137.6" cy="256.8" r="0.74"/><circle cx="119.6" cy="246.9" r="0.74"/><circle cx="184.2" cy="254.7" r="0.74"/><circle cx="118.7" cy="264.0" r="0.74"/><circle cx="145.8" cy="257.5" r="0.74"/><circle cx="133.8" cy="272.8" r="0.74"/><circle cx="109.7" cy="265.5" r="0.74"/><circle cx="153.2" cy="257.7" r="0.74"/><circle cx="81.4" cy="251.0" r="0.74"/><circle cx="157.2" cy="243.8" r="0.74"/><circle cx="166.7" cy="253.9" r="0.74"/><circle cx="150.5" cy="249.9" r="0.74"/><circle cx="128.5" cy="271.1" r="0.74"/><circle cx="124.4" cy="258.1" r="0.74"/><circle cx="145.5" cy="249.6" r="0.74"/><circle cx="128.4" cy="247.8" r="0.74"/><circle cx="111.3" cy="261.3" r="0.74"/><circle cx="132.8" cy="250.2" r="0.74"/><circle cx="126.7" cy="244.4" r="0.74"/><circle cx="142.1" cy="263.6" r="0.74"/><circle cx="135.3" cy="263.1" r="0.74"/><circle cx="113.3" cy="267.8" r="0.74"/><circle cx="162.8" cy="247.3" r="0.74"/><circle cx="99.9" cy="245.5" r="0.74"/><circle cx="153.6" cy="258.5" r="0.74"/><circle cx="144.1" cy="235.5" r="0.74"/><circle cx="139.5" cy="251.6" r="0.74"/><circle cx="157.0" cy="264.4" r="0.74"/><circle cx="106.9" cy="267.7" r="0.74"/><circle cx="131.8" cy="247.6" r="0.74"/><circle cx="115.5" cy="267.3" r="0.74"/><circle cx="138.0" cy="258.4" r="0.74"/><circle cx="146.7" cy="256.1" r="0.74"/><circle cx="130.3" cy="255.7" r="0.74"/><circle cx="135.0" cy="263.4" r="0.74"/><circle cx="110.8" cy="240.9" r="0.74"/><circle cx="121.1" cy="245.0" r="0.74"/><circle cx="100.3" cy="254.6" r="0.74"/><circle cx="159.4" cy="269.1" r="0.74"/><circle cx="124.3" cy="258.4" r="0.74"/><circle cx="115.4" cy="262.2" r="0.74"/><circle cx="155.8" cy="258.8" r="0.74"/><circle cx="129.8" cy="239.6" r="0.74"/><circle cx="116.8" cy="271.7" r="0.74"/><circle cx="148.2" cy="237.0" r="0.74"/><circle cx="139.1" cy="252.1" r="0.74"/><circle cx="107.6" cy="263.0" r="0.74"/><circle cx="165.4" cy="243.7" r="0.74"/><circle cx="147.0" cy="260.5" r="0.74"/><circle cx="109.5" cy="264.1" r="0.74"/><circle cx="109.8" cy="249.5" r="0.74"/><circle cx="117.7" cy="259.3" r="0.74"/><circle cx="148.7" cy="249.1" r="0.74"/><circle cx="135.0" cy="250.9" r="0.74"/><circle cx="133.9" cy="272.2" r="0.74"/><circle cx="132.0" cy="259.0" r="0.74"/><circle cx="126.1" cy="253.1" r="0.74"/><circle cx="121.6" cy="244.5" r="0.74"/><circle cx="129.9" cy="253.8" r="0.74"/><circle cx="140.4" cy="256.8" r="0.74"/><circle cx="147.1" cy="248.6" r="0.74"/><circle cx="146.7" cy="261.5" r="0.74"/><circle cx="114.3" cy="260.7" r="0.74"/><circle cx="133.3" cy="271.9" r="0.74"/><circle cx="115.3" cy="265.6" r="0.74"/><circle cx="118.9" cy="263.6" r="0.74"/><circle cx="150.1" cy="251.5" r="0.74"/><circle cx="153.1" cy="264.2" r="0.74"/><circle cx="116.6" cy="258.1" r="0.74"/><circle cx="167.8" cy="240.6" r="0.74"/><circle cx="120.1" cy="249.9" r="0.74"/><circle cx="178.2" cy="264.5" r="0.74"/><circle cx="129.2" cy="243.9" r="0.74"/><circle cx="148.4" cy="264.1" r="0.74"/><circle cx="165.2" cy="246.7" r="0.74"/><circle cx="147.9" cy="266.3" r="0.74"/><circle cx="129.9" cy="243.7" r="0.74"/><circle cx="143.7" cy="248.3" r="0.74"/><circle cx="127.8" cy="242.0" r="0.74"/><circle cx="128.3" cy="247.2" r="0.74"/><circle cx="140.2" cy="263.8" r="0.74"/><circle cx="164.6" cy="266.4" r="0.74"/><circle cx="118.0" cy="254.0" r="0.74"/><circle cx="103.9" cy="271.2" r="0.74"/><circle cx="130.9" cy="259.1" r="0.74"/><circle cx="127.5" cy="250.9" r="0.74"/><circle cx="180.7" cy="259.0" r="0.74"/><circle cx="184.6" cy="253.2" r="0.74"/><circle cx="131.2" cy="279.2" r="0.74"/><circle cx="101.0" cy="253.1" r="0.74"/><circle cx="144.7" cy="262.8" r="0.74"/><circle cx="139.2" cy="247.6" r="0.74"/><circle cx="120.9" cy="269.9" r="0.74"/><circle cx="112.1" cy="258.3" r="0.74"/><circle cx="138.6" cy="248.8" r="0.74"/><circle cx="113.2" cy="255.3" r="0.74"/><circle cx="127.2" cy="255.3" r="0.74"/><circle cx="155.7" cy="244.2" r="0.74"/><circle cx="122.6" cy="261.0" r="0.74"/><circle cx="118.2" cy="260.3" r="0.74"/><circle cx="124.0" cy="257.1" r="0.74"/><circle cx="122.1" cy="265.1" r="0.74"/><circle cx="108.2" cy="255.1" r="0.74"/><circle cx="183.9" cy="250.7" r="0.74"/><circle cx="146.4" cy="252.5" r="0.74"/><circle cx="129.4" cy="237.9" r="0.74"/><circle cx="126.2" cy="264.2" r="0.74"/><circle cx="106.9" cy="253.9" r="0.74"/><circle cx="111.9" cy="263.3" r="0.74"/><circle cx="114.5" cy="267.2" r="0.74"/><circle cx="136.3" cy="270.4" r="0.74"/><circle cx="180.6" cy="279.9" r="0.74"/><circle cx="103.6" cy="255.0" r="0.74"/><circle cx="141.6" cy="258.5" r="0.74"/><circle cx="138.9" cy="253.9" r="0.74"/><circle cx="135.7" cy="250.2" r="0.74"/><circle cx="138.3" cy="256.2" r="0.74"/><circle cx="130.4" cy="247.5" r="0.74"/><circle cx="129.5" cy="250.3" r="0.74"/><circle cx="166.6" cy="251.8" r="0.74"/><circle cx="158.9" cy="259.0" r="0.74"/><circle cx="139.3" cy="250.7" r="0.74"/><circle cx="138.5" cy="251.0" r="0.74"/><circle cx="163.1" cy="258.0" r="0.74"/><circle cx="119.6" cy="252.3" r="0.74"/><circle cx="103.0" cy="255.4" r="0.74"/><circle cx="158.5" cy="255.4" r="0.74"/><circle cx="144.9" cy="251.9" r="0.74"/><circle cx="158.7" cy="250.8" r="0.74"/><circle cx="137.7" cy="259.5" r="0.74"/><circle cx="122.4" cy="249.1" r="0.74"/><circle cx="130.3" cy="262.0" r="0.74"/><circle cx="152.1" cy="263.2" r="0.74"/><circle cx="125.9" cy="249.5" r="0.74"/><circle cx="122.1" cy="254.0" r="0.74"/><circle cx="132.4" cy="266.2" r="0.74"/><circle cx="121.6" cy="258.9" r="0.74"/><circle cx="118.9" cy="246.1" r="0.74"/><circle cx="131.8" cy="261.4" r="0.74"/><circle cx="103.1" cy="258.7" r="0.74"/><circle cx="159.6" cy="258.5" r="0.74"/><circle cx="147.9" cy="251.9" r="0.74"/><circle cx="121.2" cy="264.3" r="0.74"/><circle cx="143.3" cy="270.7" r="0.74"/><circle cx="144.0" cy="266.3" r="0.74"/><circle cx="150.0" cy="259.3" r="0.74"/><circle cx="130.3" cy="246.5" r="0.74"/><circle cx="111.3" cy="255.3" r="0.74"/><circle cx="125.7" cy="251.3" r="0.74"/><circle cx="147.4" cy="253.2" r="0.74"/><circle cx="136.7" cy="259.3" r="0.74"/><circle cx="145.1" cy="257.8" r="0.74"/><circle cx="135.2" cy="254.0" r="0.74"/><circle cx="104.1" cy="265.6" r="0.74"/><circle cx="137.2" cy="255.8" r="0.74"/><circle cx="158.8" cy="277.0" r="0.74"/><circle cx="137.1" cy="246.0" r="0.74"/><circle cx="134.6" cy="248.7" r="0.74"/><circle cx="133.2" cy="256.1" r="0.74"/><circle cx="151.7" cy="266.9" r="0.74"/><circle cx="86.0" cy="251.4" r="0.74"/><circle cx="135.4" cy="254.5" r="0.74"/><circle cx="138.8" cy="250.0" r="0.74"/><circle cx="123.2" cy="251.4" r="0.74"/><circle cx="139.4" cy="265.6" r="0.74"/><circle cx="129.7" cy="253.1" r="0.74"/><circle cx="116.4" cy="246.4" r="0.74"/><circle cx="126.7" cy="248.4" r="0.74"/><circle cx="163.3" cy="268.4" r="0.74"/><circle cx="105.4" cy="250.3" r="0.74"/><circle cx="129.1" cy="250.9" r="0.74"/><circle cx="169.2" cy="259.6" r="0.74"/><circle cx="151.2" cy="257.6" r="0.74"/><circle cx="119.8" cy="251.2" r="0.74"/><circle cx="138.6" cy="245.9" r="0.74"/><circle cx="139.8" cy="247.7" r="0.74"/><circle cx="144.3" cy="270.3" r="0.74"/><circle cx="125.8" cy="258.1" r="0.74"/><circle cx="152.0" cy="264.5" r="0.74"/><circle cx="137.4" cy="258.9" r="0.74"/><circle cx="95.5" cy="256.6" r="0.74"/><circle cx="146.8" cy="258.5" r="0.74"/><circle cx="152.9" cy="251.9" r="0.74"/><circle cx="140.0" cy="259.7" r="0.74"/><circle cx="130.1" cy="251.1" r="0.74"/><circle cx="134.0" cy="266.1" r="0.74"/><circle cx="129.9" cy="251.7" r="0.74"/><circle cx="157.0" cy="247.9" r="0.74"/><circle cx="113.0" cy="249.1" r="0.74"/><circle cx="100.0" cy="260.9" r="0.74"/><circle cx="116.5" cy="241.9" r="0.74"/><circle cx="147.8" cy="252.6" r="0.74"/><circle cx="120.6" cy="244.3" r="0.74"/><circle cx="128.4" cy="251.1" r="0.74"/><circle cx="156.7" cy="257.9" r="0.74"/><circle cx="144.9" cy="272.6" r="0.74"/><circle cx="145.7" cy="270.1" r="0.74"/><circle cx="142.3" cy="252.6" r="0.74"/><circle cx="143.7" cy="234.8" r="0.74"/><circle cx="81.7" cy="251.1" r="0.74"/><circle cx="125.5" cy="248.5" r="0.74"/><circle cx="140.4" cy="254.2" r="0.74"/><circle cx="123.3" cy="261.4" r="0.74"/><circle cx="141.3" cy="268.4" r="0.74"/><circle cx="156.3" cy="260.2" r="0.74"/><circle cx="143.5" cy="265.5" r="0.74"/><circle cx="143.5" cy="257.1" r="0.74"/><circle cx="150.1" cy="244.3" r="0.74"/><circle cx="122.6" cy="254.1" r="0.74"/><circle cx="139.1" cy="242.2" r="0.74"/><circle cx="106.9" cy="249.8" r="0.74"/><circle cx="133.6" cy="265.6" r="0.74"/><circle cx="127.2" cy="260.9" r="0.74"/><circle cx="157.3" cy="263.3" r="0.74"/><circle cx="155.5" cy="259.0" r="0.74"/><circle cx="148.4" cy="270.0" r="0.74"/><circle cx="118.3" cy="253.5" r="0.74"/><circle cx="115.1" cy="268.6" r="0.74"/><circle cx="134.7" cy="248.1" r="0.74"/><circle cx="134.5" cy="256.8" r="0.74"/><circle cx="142.7" cy="258.7" r="0.74"/><circle cx="153.6" cy="245.2" r="0.74"/><circle cx="107.6" cy="245.7" r="0.74"/><circle cx="148.6" cy="252.4" r="0.74"/><circle cx="148.8" cy="242.3" r="0.74"/><circle cx="174.7" cy="240.6" r="0.74"/><circle cx="129.4" cy="243.1" r="0.74"/><circle cx="99.5" cy="246.9" r="0.74"/><circle cx="149.4" cy="246.1" r="0.74"/><circle cx="115.9" cy="242.1" r="0.74"/><circle cx="161.5" cy="252.9" r="0.74"/><circle cx="105.0" cy="251.9" r="0.74"/><circle cx="117.0" cy="268.5" r="0.74"/><circle cx="119.7" cy="234.1" r="0.74"/><circle cx="103.7" cy="257.9" r="0.74"/><circle cx="138.3" cy="246.7" r="0.74"/><circle cx="113.2" cy="263.7" r="0.74"/><circle cx="152.5" cy="252.7" r="0.74"/><circle cx="159.5" cy="265.4" r="0.74"/><circle cx="131.3" cy="247.1" r="0.74"/><circle cx="136.1" cy="265.2" r="0.74"/><circle cx="136.0" cy="271.9" r="0.74"/><circle cx="117.3" cy="248.5" r="0.74"/><circle cx="151.9" cy="251.8" r="0.74"/><circle cx="147.7" cy="268.6" r="0.74"/><circle cx="119.5" cy="246.2" r="0.74"/><circle cx="181.1" cy="251.4" r="0.74"/><circle cx="114.0" cy="263.8" r="0.74"/><circle cx="158.3" cy="245.8" r="0.74"/><circle cx="107.9" cy="254.2" r="0.74"/><circle cx="162.2" cy="243.0" r="0.74"/><circle cx="122.3" cy="256.9" r="0.74"/><circle cx="143.0" cy="265.0" r="0.74"/><circle cx="99.2" cy="261.4" r="0.74"/><circle cx="158.5" cy="245.8" r="0.74"/><circle cx="143.1" cy="265.7" r="0.74"/><circle cx="92.0" cy="264.6" r="0.74"/><circle cx="133.5" cy="246.6" r="0.74"/><circle cx="114.0" cy="255.1" r="0.74"/><circle cx="94.8" cy="274.4" r="0.74"/><circle cx="131.9" cy="266.4" r="0.74"/><circle cx="110.1" cy="276.0" r="0.74"/><circle cx="148.5" cy="272.0" r="0.74"/><circle cx="131.7" cy="269.5" r="0.74"/><circle cx="122.9" cy="244.6" r="0.74"/><circle cx="135.8" cy="255.4" r="0.74"/><circle cx="149.4" cy="251.7" r="0.74"/><circle cx="159.8" cy="269.2" r="0.74"/><circle cx="159.3" cy="255.8" r="0.74"/><circle cx="109.2" cy="251.0" r="0.74"/><circle cx="142.3" cy="256.4" r="0.74"/><circle cx="149.1" cy="267.8" r="0.74"/><circle cx="96.5" cy="261.4" r="0.74"/><circle cx="154.1" cy="251.5" r="0.74"/><circle cx="131.5" cy="261.6" r="0.74"/><circle cx="131.4" cy="245.8" r="0.74"/><circle cx="120.1" cy="261.1" r="0.74"/><circle cx="141.0" cy="250.2" r="0.74"/><circle cx="135.0" cy="243.2" r="0.74"/><circle cx="136.5" cy="264.3" r="0.74"/><circle cx="86.3" cy="245.3" r="0.74"/><circle cx="129.2" cy="252.7" r="0.74"/><circle cx="142.3" cy="243.6" r="0.74"/><circle cx="154.9" cy="246.6" r="0.74"/><circle cx="139.3" cy="257.3" r="0.74"/><circle cx="139.2" cy="262.4" r="0.74"/><circle cx="141.4" cy="245.7" r="0.74"/><circle cx="148.9" cy="253.8" r="0.74"/><circle cx="115.6" cy="262.9" r="0.74"/><circle cx="118.7" cy="258.7" r="0.74"/><circle cx="143.1" cy="250.8" r="0.74"/><circle cx="145.8" cy="246.2" r="0.74"/><circle cx="113.4" cy="257.0" r="0.74"/><circle cx="144.9" cy="248.2" r="0.74"/><circle cx="119.7" cy="261.3" r="0.74"/><circle cx="157.7" cy="249.1" r="0.74"/><circle cx="143.2" cy="257.6" r="0.74"/><circle cx="113.9" cy="255.4" r="0.74"/><circle cx="140.3" cy="250.7" r="0.74"/><circle cx="151.8" cy="254.1" r="0.74"/><circle cx="159.9" cy="258.1" r="0.74"/><circle cx="140.9" cy="254.5" r="0.74"/><circle cx="96.5" cy="266.6" r="0.74"/><circle cx="122.7" cy="253.9" r="0.74"/><circle cx="140.5" cy="244.0" r="0.74"/><circle cx="133.3" cy="258.1" r="0.74"/><circle cx="140.3" cy="265.9" r="0.74"/><circle cx="129.5" cy="264.1" r="0.74"/><circle cx="134.7" cy="261.4" r="0.74"/><circle cx="124.6" cy="238.6" r="0.74"/><circle cx="156.3" cy="233.5" r="0.74"/><circle cx="137.2" cy="256.9" r="0.74"/><circle cx="116.8" cy="255.7" r="0.74"/><circle cx="96.6" cy="254.6" r="0.74"/><circle cx="121.4" cy="267.2" r="0.74"/><circle cx="95.5" cy="263.4" r="0.74"/><circle cx="124.5" cy="255.8" r="0.74"/><circle cx="99.0" cy="255.9" r="0.74"/><circle cx="139.4" cy="236.1" r="0.74"/><circle cx="140.6" cy="247.4" r="0.74"/><circle cx="118.1" cy="255.4" r="0.74"/><circle cx="117.9" cy="262.7" r="0.74"/><circle cx="143.5" cy="257.4" r="0.74"/><circle cx="163.5" cy="255.6" r="0.74"/><circle cx="142.1" cy="266.0" r="0.74"/><circle cx="112.4" cy="249.5" r="0.74"/><circle cx="119.0" cy="244.2" r="0.74"/><circle cx="116.2" cy="263.1" r="0.74"/><circle cx="173.5" cy="270.2" r="0.74"/><circle cx="122.7" cy="250.8" r="0.74"/><circle cx="145.8" cy="265.3" r="0.74"/><circle cx="178.2" cy="259.3" r="0.74"/><circle cx="93.4" cy="247.3" r="0.74"/><circle cx="123.4" cy="254.8" r="0.74"/><circle cx="149.4" cy="263.2" r="0.74"/><circle cx="118.4" cy="256.2" r="0.74"/><circle cx="150.9" cy="266.9" r="0.74"/><circle cx="163.6" cy="252.1" r="0.74"/><circle cx="109.9" cy="254.9" r="0.74"/><circle cx="145.2" cy="244.5" r="0.74"/><circle cx="151.4" cy="245.4" r="0.74"/><circle cx="130.4" cy="248.9" r="0.74"/><circle cx="77.9" cy="246.4" r="0.74"/>
</g>
<line x1="43.3" y1="243.3" x2="227.1" y2="236.1" stroke="#00ff00" stroke-width="1.4"/>
<path d="M25.7 198.3V293.4H242.8" fill="none" stroke="#bcbcbc" stroke-width="0.9"/>
<path d="M25.7 293.4v-2.3 M69.1 293.4v-2.3 M112.5 293.4v-2.3 M156.0 293.4v-2.3 M199.4 293.4v-2.3 M242.8 293.4v-2.3 M25.7 293.4h2.3 M25.7 277.5h2.3 M25.7 261.7h2.3 M25.7 245.8h2.3 M25.7 230.0h2.3 M25.7 214.2h2.3 M25.7 198.3h2.3" stroke="#b4b4b4" stroke-width="0.8"/>
<g font-family="DejaVu Sans, sans-serif" font-size="7.9" fill="#262626" stroke="#262626" stroke-width="0.2"><text x="25.7" y="302.8" text-anchor="middle">-4</text><text x="69.1" y="302.8" text-anchor="middle">-2</text><text x="112.5" y="302.8" text-anchor="middle">0</text><text x="156.0" y="302.8" text-anchor="middle">2</text><text x="199.4" y="302.8" text-anchor="middle">4</text><text x="242.8" y="302.8" text-anchor="middle">6</text><text x="23.2" y="296.3" text-anchor="end">-4</text><text x="23.2" y="280.4" text-anchor="end">-2</text><text x="23.2" y="264.6" text-anchor="end">0</text><text x="23.2" y="248.8" text-anchor="end">2</text><text x="23.2" y="232.9" text-anchor="end">4</text><text x="23.2" y="217.1" text-anchor="end">6</text><text x="23.2" y="201.2" text-anchor="end">8</text></g>
<text x="62.300000000000004" y="193.4" font-family="DejaVu Sans, sans-serif" font-weight="bold" font-size="8.3" fill="#000">w<tspan font-size="6.8" dy="-3.4">(1)</tspan><tspan dy="3.4">: -0.37003</tspan></text>
<text x="150.2" y="193.4" font-family="DejaVu Sans, sans-serif" font-weight="bold" font-size="8.3" fill="#000">w<tspan font-size="6.8" dy="-3.4">(2)</tspan><tspan dy="3.4">: 3.4677</tspan></text>
<text x="129.7" y="312.5" font-family="DejaVu Sans, sans-serif" font-size="8.1" fill="#262626" stroke="#262626" stroke-width="0.18">v<tspan font-size="7.1" dy="3.9">1</tspan></text>
<text transform="translate(9.3 250.2) rotate(-90)" font-family="DejaVu Sans, sans-serif" font-size="8.1" fill="#262626" stroke="#262626" stroke-width="0.18">v<tspan font-size="7.1" dy="3.9">2</tspan></text>
<g font-family="Liberation Serif, serif" fill="#000"><text x="121.98" y="337.00" font-size="14">(</text><text x="126.39" y="336.70" font-size="12.2" font-weight="bold">c</text><text x="131.85" y="337.00" font-size="14">)</text></g>
<g fill="#ff0010" fill-opacity="0.29" filter="url(#bl)">
<circle cx="392.4" cy="239.9" r="1.35"/><circle cx="387.3" cy="255.2" r="1.35"/><circle cx="384.0" cy="256.5" r="1.35"/><circle cx="393.5" cy="226.5" r="1.35"/><circle cx="383.3" cy="251.7" r="1.35"/><circle cx="401.5" cy="239.2" r="1.35"/><circle cx="394.4" cy="255.7" r="1.35"/><circle cx="391.9" cy="234.8" r="1.35"/><circle cx="367.5" cy="249.6" r="1.35"/><circle cx="357.2" cy="260.4" r="1.35"/><circle cx="358.3" cy="246.8" r="1.35"/><circle cx="368.9" cy="240.3" r="1.35"/><circle cx="395.3" cy="246.2" r="1.35"/><circle cx="345.8" cy="250.7" r="1.35"/><circle cx="391.5" cy="242.3" r="1.35"/><circle cx="364.0" cy="249.9" r="1.35"/><circle cx="374.3" cy="254.2" r="1.35"/><circle cx="412.1" cy="254.1" r="1.35"/><circle cx="391.8" cy="232.4" r="1.35"/><circle cx="381.6" cy="245.2" r="1.35"/><circle cx="394.5" cy="242.9" r="1.35"/><circle cx="369.7" cy="242.8" r="1.35"/><circle cx="417.6" cy="263.7" r="1.35"/><circle cx="408.3" cy="242.2" r="1.35"/><circle cx="380.5" cy="218.0" r="1.35"/><circle cx="406.5" cy="259.2" r="1.35"/><circle cx="393.8" cy="236.3" r="1.35"/><circle cx="388.9" cy="235.0" r="1.35"/><circle cx="391.2" cy="235.2" r="1.35"/><circle cx="419.1" cy="252.5" r="1.35"/><circle cx="396.2" cy="249.7" r="1.35"/><circle cx="394.8" cy="259.0" r="1.35"/><circle cx="381.7" cy="246.3" r="1.35"/><circle cx="409.1" cy="229.0" r="1.35"/><circle cx="367.9" cy="254.0" r="1.35"/><circle cx="404.4" cy="269.4" r="1.35"/><circle cx="383.8" cy="245.0" r="1.35"/><circle cx="415.7" cy="234.9" r="1.35"/><circle cx="386.3" cy="248.5" r="1.35"/><circle cx="387.8" cy="224.2" r="1.35"/><circle cx="384.5" cy="247.7" r="1.35"/><circle cx="398.9" cy="245.3" r="1.35"/><circle cx="388.7" cy="258.1" r="1.35"/><circle cx="392.2" cy="249.5" r="1.35"/><circle cx="414.0" cy="235.4" r="1.35"/><circle cx="392.0" cy="235.2" r="1.35"/><circle cx="386.1" cy="230.2" r="1.35"/><circle cx="392.3" cy="236.3" r="1.35"/><circle cx="368.5" cy="239.3" r="1.35"/><circle cx="361.1" cy="269.9" r="1.35"/><circle cx="386.8" cy="255.3" r="1.35"/><circle cx="395.4" cy="214.9" r="1.35"/><circle cx="377.0" cy="251.8" r="1.35"/><circle cx="396.2" cy="237.4" r="1.35"/><circle cx="389.1" cy="246.4" r="1.35"/><circle cx="405.4" cy="237.1" r="1.35"/><circle cx="373.2" cy="244.8" r="1.35"/><circle cx="393.1" cy="257.3" r="1.35"/><circle cx="397.2" cy="254.8" r="1.35"/><circle cx="410.4" cy="241.3" r="1.35"/><circle cx="394.1" cy="251.4" r="1.35"/><circle cx="390.2" cy="269.5" r="1.35"/><circle cx="371.4" cy="239.1" r="1.35"/><circle cx="353.0" cy="232.9" r="1.35"/><circle cx="360.0" cy="234.0" r="1.35"/><circle cx="376.7" cy="233.7" r="1.35"/><circle cx="394.8" cy="263.5" r="1.35"/><circle cx="415.6" cy="225.2" r="1.35"/><circle cx="391.2" cy="247.3" r="1.35"/><circle cx="389.4" cy="256.3" r="1.35"/><circle cx="412.8" cy="250.7" r="1.35"/><circle cx="391.5" cy="254.0" r="1.35"/><circle cx="380.8" cy="260.2" r="1.35"/><circle cx="415.7" cy="245.7" r="1.35"/><circle cx="410.3" cy="243.6" r="1.35"/><circle cx="379.5" cy="248.0" r="1.35"/><circle cx="382.0" cy="243.7" r="1.35"/><circle cx="385.4" cy="247.6" r="1.35"/><circle cx="366.9" cy="254.1" r="1.35"/><circle cx="423.1" cy="252.4" r="1.35"/><circle cx="372.9" cy="239.4" r="1.35"/><circle cx="418.5" cy="262.5" r="1.35"/><circle cx="388.5" cy="251.9" r="1.35"/><circle cx="359.8" cy="234.3" r="1.35"/><circle cx="392.0" cy="242.8" r="1.35"/><circle cx="378.5" cy="237.9" r="1.35"/><circle cx="382.4" cy="245.6" r="1.35"/><circle cx="371.9" cy="259.4" r="1.35"/><circle cx="417.2" cy="250.3" r="1.35"/><circle cx="397.8" cy="244.2" r="1.35"/><circle cx="384.2" cy="250.3" r="1.35"/><circle cx="404.1" cy="247.6" r="1.35"/><circle cx="389.6" cy="243.5" r="1.35"/><circle cx="414.2" cy="235.0" r="1.35"/><circle cx="399.5" cy="251.0" r="1.35"/><circle cx="366.8" cy="231.5" r="1.35"/><circle cx="410.3" cy="245.6" r="1.35"/><circle cx="402.4" cy="233.7" r="1.35"/><circle cx="407.8" cy="231.9" r="1.35"/><circle cx="384.0" cy="224.3" r="1.35"/><circle cx="369.3" cy="232.7" r="1.35"/><circle cx="401.6" cy="232.5" r="1.35"/><circle cx="427.2" cy="224.7" r="1.35"/><circle cx="371.2" cy="265.5" r="1.35"/><circle cx="407.5" cy="256.8" r="1.35"/><circle cx="392.2" cy="233.0" r="1.35"/><circle cx="361.9" cy="270.9" r="1.35"/><circle cx="397.2" cy="243.2" r="1.35"/><circle cx="387.8" cy="243.3" r="1.35"/><circle cx="376.5" cy="263.2" r="1.35"/><circle cx="389.3" cy="256.3" r="1.35"/><circle cx="361.9" cy="237.3" r="1.35"/><circle cx="391.3" cy="238.5" r="1.35"/><circle cx="374.1" cy="252.2" r="1.35"/><circle cx="373.9" cy="255.2" r="1.35"/><circle cx="396.0" cy="253.8" r="1.35"/><circle cx="399.0" cy="239.4" r="1.35"/><circle cx="429.9" cy="261.7" r="1.35"/><circle cx="408.9" cy="244.9" r="1.35"/><circle cx="392.1" cy="262.4" r="1.35"/><circle cx="383.9" cy="234.2" r="1.35"/><circle cx="390.9" cy="242.7" r="1.35"/><circle cx="387.0" cy="228.9" r="1.35"/><circle cx="392.0" cy="272.1" r="1.35"/><circle cx="379.6" cy="269.1" r="1.35"/><circle cx="399.1" cy="250.6" r="1.35"/><circle cx="417.1" cy="243.2" r="1.35"/><circle cx="370.7" cy="255.9" r="1.35"/><circle cx="413.4" cy="241.7" r="1.35"/><circle cx="393.3" cy="244.4" r="1.35"/><circle cx="393.1" cy="233.4" r="1.35"/><circle cx="402.6" cy="241.0" r="1.35"/><circle cx="373.1" cy="237.2" r="1.35"/><circle cx="379.7" cy="229.7" r="1.35"/><circle cx="368.8" cy="245.5" r="1.35"/><circle cx="392.3" cy="260.8" r="1.35"/><circle cx="424.3" cy="225.0" r="1.35"/><circle cx="383.8" cy="233.8" r="1.35"/><circle cx="399.4" cy="238.7" r="1.35"/><circle cx="397.0" cy="244.6" r="1.35"/><circle cx="393.9" cy="257.6" r="1.35"/><circle cx="387.4" cy="246.1" r="1.35"/><circle cx="414.4" cy="239.5" r="1.35"/><circle cx="392.3" cy="224.1" r="1.35"/><circle cx="382.1" cy="248.8" r="1.35"/><circle cx="358.7" cy="223.6" r="1.35"/><circle cx="410.3" cy="232.0" r="1.35"/><circle cx="404.8" cy="242.3" r="1.35"/><circle cx="396.4" cy="247.0" r="1.35"/><circle cx="388.6" cy="243.1" r="1.35"/><circle cx="420.4" cy="236.6" r="1.35"/><circle cx="391.3" cy="251.2" r="1.35"/><circle cx="380.6" cy="223.1" r="1.35"/><circle cx="401.8" cy="242.9" r="1.35"/><circle cx="386.0" cy="258.0" r="1.35"/><circle cx="391.2" cy="232.5" r="1.35"/><circle cx="385.1" cy="246.7" r="1.35"/><circle cx="388.3" cy="242.4" r="1.35"/><circle cx="362.9" cy="246.8" r="1.35"/><circle cx="376.6" cy="232.4" r="1.35"/><circle cx="378.1" cy="236.3" r="1.35"/><circle cx="420.7" cy="247.8" r="1.35"/><circle cx="381.3" cy="241.3" r="1.35"/><circle cx="392.4" cy="256.5" r="1.35"/><circle cx="400.9" cy="217.8" r="1.35"/><circle cx="387.6" cy="246.4" r="1.35"/><circle cx="373.0" cy="239.7" r="1.35"/><circle cx="369.3" cy="258.0" r="1.35"/><circle cx="416.1" cy="255.4" r="1.35"/><circle cx="412.4" cy="224.2" r="1.35"/><circle cx="397.2" cy="236.6" r="1.35"/><circle cx="428.6" cy="246.3" r="1.35"/><circle cx="381.4" cy="261.2" r="1.35"/><circle cx="393.2" cy="224.7" r="1.35"/><circle cx="410.2" cy="255.9" r="1.35"/><circle cx="376.6" cy="250.2" r="1.35"/><circle cx="397.8" cy="246.4" r="1.35"/><circle cx="396.4" cy="239.9" r="1.35"/><circle cx="386.9" cy="244.3" r="1.35"/><circle cx="396.2" cy="244.8" r="1.35"/><circle cx="401.7" cy="219.7" r="1.35"/><circle cx="403.4" cy="243.0" r="1.35"/><circle cx="361.2" cy="238.8" r="1.35"/><circle cx="356.3" cy="261.9" r="1.35"/><circle cx="408.2" cy="234.7" r="1.35"/><circle cx="389.6" cy="265.8" r="1.35"/><circle cx="385.5" cy="252.5" r="1.35"/><circle cx="404.2" cy="214.7" r="1.35"/><circle cx="396.4" cy="253.8" r="1.35"/><circle cx="370.7" cy="244.5" r="1.35"/><circle cx="389.1" cy="258.6" r="1.35"/><circle cx="394.6" cy="258.6" r="1.35"/><circle cx="413.0" cy="230.1" r="1.35"/><circle cx="412.5" cy="249.9" r="1.35"/><circle cx="401.9" cy="245.5" r="1.35"/><circle cx="385.2" cy="248.1" r="1.35"/><circle cx="368.3" cy="262.3" r="1.35"/><circle cx="407.1" cy="246.2" r="1.35"/><circle cx="396.4" cy="230.9" r="1.35"/><circle cx="360.3" cy="253.8" r="1.35"/><circle cx="395.7" cy="238.7" r="1.35"/><circle cx="385.4" cy="230.5" r="1.35"/><circle cx="396.3" cy="259.4" r="1.35"/><circle cx="375.2" cy="233.4" r="1.35"/><circle cx="401.0" cy="268.2" r="1.35"/><circle cx="417.4" cy="236.1" r="1.35"/><circle cx="417.3" cy="248.7" r="1.35"/><circle cx="386.9" cy="258.3" r="1.35"/><circle cx="439.4" cy="246.0" r="1.35"/><circle cx="421.8" cy="252.1" r="1.35"/><circle cx="395.4" cy="265.3" r="1.35"/><circle cx="385.3" cy="231.1" r="1.35"/><circle cx="369.2" cy="230.0" r="1.35"/><circle cx="398.7" cy="257.2" r="1.35"/><circle cx="383.1" cy="249.7" r="1.35"/><circle cx="391.5" cy="250.7" r="1.35"/><circle cx="377.1" cy="247.7" r="1.35"/><circle cx="373.4" cy="260.4" r="1.35"/><circle cx="391.5" cy="232.4" r="1.35"/><circle cx="364.1" cy="243.7" r="1.35"/><circle cx="380.4" cy="256.3" r="1.35"/><circle cx="408.2" cy="250.4" r="1.35"/><circle cx="420.2" cy="253.8" r="1.35"/><circle cx="399.6" cy="246.7" r="1.35"/><circle cx="378.4" cy="236.2" r="1.35"/><circle cx="389.5" cy="236.0" r="1.35"/><circle cx="391.5" cy="257.7" r="1.35"/><circle cx="390.5" cy="243.1" r="1.35"/><circle cx="410.2" cy="255.4" r="1.35"/><circle cx="391.7" cy="265.9" r="1.35"/><circle cx="404.5" cy="257.7" r="1.35"/><circle cx="358.9" cy="244.5" r="1.35"/><circle cx="412.9" cy="263.4" r="1.35"/><circle cx="372.2" cy="253.3" r="1.35"/><circle cx="371.5" cy="238.9" r="1.35"/><circle cx="377.4" cy="253.0" r="1.35"/><circle cx="403.2" cy="253.5" r="1.35"/><circle cx="400.4" cy="256.3" r="1.35"/><circle cx="369.9" cy="267.4" r="1.35"/><circle cx="426.9" cy="247.9" r="1.35"/><circle cx="396.9" cy="244.2" r="1.35"/><circle cx="395.4" cy="243.1" r="1.35"/><circle cx="427.8" cy="257.1" r="1.35"/><circle cx="363.5" cy="256.8" r="1.35"/><circle cx="367.7" cy="234.2" r="1.35"/><circle cx="407.6" cy="256.1" r="1.35"/><circle cx="366.6" cy="248.3" r="1.35"/><circle cx="418.2" cy="249.2" r="1.35"/><circle cx="402.2" cy="257.6" r="1.35"/><circle cx="411.7" cy="257.6" r="1.35"/><circle cx="387.1" cy="263.1" r="1.35"/><circle cx="374.3" cy="225.9" r="1.35"/><circle cx="407.6" cy="248.9" r="1.35"/><circle cx="376.3" cy="268.1" r="1.35"/><circle cx="385.1" cy="244.2" r="1.35"/><circle cx="390.8" cy="245.0" r="1.35"/><circle cx="371.6" cy="244.6" r="1.35"/><circle cx="391.7" cy="227.2" r="1.35"/><circle cx="427.0" cy="245.5" r="1.35"/><circle cx="378.2" cy="244.6" r="1.35"/><circle cx="381.1" cy="253.3" r="1.35"/><circle cx="391.3" cy="257.2" r="1.35"/><circle cx="403.6" cy="245.1" r="1.35"/><circle cx="397.0" cy="246.1" r="1.35"/><circle cx="378.9" cy="256.0" r="1.35"/><circle cx="388.0" cy="250.8" r="1.35"/><circle cx="396.7" cy="243.8" r="1.35"/><circle cx="367.2" cy="242.9" r="1.35"/><circle cx="367.5" cy="251.7" r="1.35"/><circle cx="386.9" cy="270.5" r="1.35"/><circle cx="394.1" cy="241.8" r="1.35"/><circle cx="389.5" cy="249.2" r="1.35"/><circle cx="385.5" cy="256.3" r="1.35"/><circle cx="387.4" cy="250.9" r="1.35"/><circle cx="394.1" cy="259.3" r="1.35"/><circle cx="396.8" cy="241.9" r="1.35"/><circle cx="389.8" cy="249.4" r="1.35"/><circle cx="402.6" cy="265.2" r="1.35"/><circle cx="400.9" cy="240.6" r="1.35"/><circle cx="397.7" cy="238.8" r="1.35"/><circle cx="380.3" cy="247.1" r="1.35"/><circle cx="404.2" cy="238.2" r="1.35"/><circle cx="396.2" cy="263.2" r="1.35"/><circle cx="402.4" cy="228.7" r="1.35"/><circle cx="411.1" cy="240.8" r="1.35"/><circle cx="363.5" cy="231.6" r="1.35"/><circle cx="389.7" cy="276.3" r="1.35"/><circle cx="399.4" cy="263.0" r="1.35"/><circle cx="368.4" cy="251.9" r="1.35"/><circle cx="416.0" cy="248.5" r="1.35"/><circle cx="397.4" cy="221.3" r="1.35"/><circle cx="421.9" cy="245.1" r="1.35"/><circle cx="387.9" cy="260.0" r="1.35"/><circle cx="379.5" cy="238.3" r="1.35"/><circle cx="399.7" cy="242.3" r="1.35"/><circle cx="410.8" cy="253.7" r="1.35"/><circle cx="391.4" cy="234.4" r="1.35"/><circle cx="403.2" cy="230.0" r="1.35"/><circle cx="399.8" cy="247.7" r="1.35"/><circle cx="399.1" cy="256.7" r="1.35"/><circle cx="362.0" cy="236.3" r="1.35"/><circle cx="391.4" cy="239.8" r="1.35"/><circle cx="360.9" cy="248.5" r="1.35"/><circle cx="381.3" cy="254.9" r="1.35"/><circle cx="350.6" cy="248.1" r="1.35"/><circle cx="409.0" cy="238.9" r="1.35"/><circle cx="381.3" cy="244.0" r="1.35"/><circle cx="406.4" cy="217.8" r="1.35"/><circle cx="390.1" cy="236.8" r="1.35"/><circle cx="405.0" cy="221.9" r="1.35"/><circle cx="413.4" cy="239.7" r="1.35"/><circle cx="398.0" cy="233.6" r="1.35"/><circle cx="382.4" cy="244.3" r="1.35"/><circle cx="409.2" cy="218.6" r="1.35"/><circle cx="389.5" cy="244.4" r="1.35"/><circle cx="396.1" cy="226.5" r="1.35"/><circle cx="391.8" cy="224.9" r="1.35"/><circle cx="374.5" cy="246.2" r="1.35"/><circle cx="388.7" cy="233.6" r="1.35"/><circle cx="411.8" cy="263.2" r="1.35"/><circle cx="375.4" cy="239.4" r="1.35"/><circle cx="380.2" cy="263.3" r="1.35"/><circle cx="411.7" cy="237.4" r="1.35"/><circle cx="401.5" cy="249.9" r="1.35"/><circle cx="411.5" cy="246.8" r="1.35"/><circle cx="412.7" cy="255.5" r="1.35"/><circle cx="376.6" cy="241.1" r="1.35"/><circle cx="379.4" cy="235.1" r="1.35"/><circle cx="397.2" cy="255.6" r="1.35"/><circle cx="393.8" cy="248.3" r="1.35"/><circle cx="409.4" cy="251.9" r="1.35"/><circle cx="384.3" cy="228.2" r="1.35"/><circle cx="433.9" cy="218.0" r="1.35"/><circle cx="393.6" cy="240.9" r="1.35"/><circle cx="420.8" cy="245.4" r="1.35"/><circle cx="374.3" cy="242.3" r="1.35"/><circle cx="400.8" cy="254.4" r="1.35"/><circle cx="361.9" cy="262.2" r="1.35"/><circle cx="404.7" cy="253.5" r="1.35"/><circle cx="389.8" cy="241.0" r="1.35"/><circle cx="403.9" cy="248.1" r="1.35"/><circle cx="401.6" cy="255.2" r="1.35"/><circle cx="385.7" cy="256.9" r="1.35"/><circle cx="413.4" cy="244.1" r="1.35"/><circle cx="378.7" cy="248.3" r="1.35"/><circle cx="388.3" cy="234.7" r="1.35"/><circle cx="362.8" cy="257.1" r="1.35"/><circle cx="385.4" cy="211.2" r="1.35"/><circle cx="410.1" cy="245.2" r="1.35"/><circle cx="405.6" cy="217.3" r="1.35"/><circle cx="388.1" cy="248.5" r="1.35"/><circle cx="414.9" cy="237.4" r="1.35"/><circle cx="404.8" cy="250.3" r="1.35"/><circle cx="428.1" cy="221.8" r="1.35"/><circle cx="402.9" cy="235.0" r="1.35"/><circle cx="354.8" cy="235.6" r="1.35"/><circle cx="388.8" cy="238.2" r="1.35"/><circle cx="405.1" cy="248.2" r="1.35"/><circle cx="361.1" cy="239.0" r="1.35"/><circle cx="378.7" cy="248.0" r="1.35"/><circle cx="381.2" cy="248.2" r="1.35"/><circle cx="349.6" cy="228.1" r="1.35"/><circle cx="397.1" cy="229.5" r="1.35"/><circle cx="429.1" cy="243.5" r="1.35"/><circle cx="359.0" cy="255.3" r="1.35"/><circle cx="370.0" cy="250.2" r="1.35"/><circle cx="393.9" cy="269.5" r="1.35"/><circle cx="398.8" cy="263.2" r="1.35"/><circle cx="397.9" cy="245.2" r="1.35"/><circle cx="386.6" cy="244.7" r="1.35"/><circle cx="382.4" cy="251.6" r="1.35"/><circle cx="361.2" cy="244.1" r="1.35"/><circle cx="426.6" cy="218.3" r="1.35"/><circle cx="416.9" cy="234.7" r="1.35"/><circle cx="379.9" cy="225.2" r="1.35"/><circle cx="391.4" cy="244.6" r="1.35"/><circle cx="387.0" cy="242.6" r="1.35"/><circle cx="384.3" cy="244.8" r="1.35"/><circle cx="372.3" cy="248.6" r="1.35"/><circle cx="434.7" cy="244.7" r="1.35"/><circle cx="388.0" cy="236.9" r="1.35"/><circle cx="405.5" cy="258.1" r="1.35"/><circle cx="388.6" cy="231.9" r="1.35"/><circle cx="397.4" cy="242.2" r="1.35"/><circle cx="421.2" cy="252.5" r="1.35"/><circle cx="393.9" cy="250.5" r="1.35"/><circle cx="420.0" cy="268.9" r="1.35"/><circle cx="380.0" cy="250.6" r="1.35"/><circle cx="404.7" cy="236.0" r="1.35"/><circle cx="418.3" cy="264.0" r="1.35"/><circle cx="406.3" cy="247.5" r="1.35"/><circle cx="380.1" cy="236.8" r="1.35"/><circle cx="375.4" cy="270.5" r="1.35"/><circle cx="385.5" cy="263.0" r="1.35"/><circle cx="380.4" cy="239.0" r="1.35"/><circle cx="398.2" cy="223.3" r="1.35"/><circle cx="388.7" cy="263.5" r="1.35"/><circle cx="378.4" cy="255.6" r="1.35"/><circle cx="369.8" cy="238.2" r="1.35"/><circle cx="380.4" cy="269.2" r="1.35"/><circle cx="405.3" cy="245.2" r="1.35"/><circle cx="399.0" cy="242.4" r="1.35"/><circle cx="404.1" cy="243.3" r="1.35"/><circle cx="415.3" cy="238.3" r="1.35"/><circle cx="399.7" cy="238.5" r="1.35"/><circle cx="365.4" cy="245.9" r="1.35"/><circle cx="387.6" cy="241.1" r="1.35"/><circle cx="367.2" cy="222.7" r="1.35"/><circle cx="394.3" cy="259.3" r="1.35"/><circle cx="360.7" cy="247.4" r="1.35"/><circle cx="390.7" cy="253.0" r="1.35"/><circle cx="394.1" cy="252.0" r="1.35"/><circle cx="402.6" cy="253.1" r="1.35"/><circle cx="391.7" cy="231.2" r="1.35"/><circle cx="440.1" cy="256.7" r="1.35"/><circle cx="383.8" cy="254.6" r="1.35"/><circle cx="406.9" cy="258.5" r="1.35"/><circle cx="383.4" cy="244.1" r="1.35"/><circle cx="374.3" cy="256.1" r="1.35"/><circle cx="383.6" cy="270.8" r="1.35"/><circle cx="365.6" cy="249.1" r="1.35"/><circle cx="395.2" cy="246.2" r="1.35"/><circle cx="359.5" cy="249.7" r="1.35"/><circle cx="407.2" cy="236.6" r="1.35"/><circle cx="390.9" cy="255.2" r="1.35"/><circle cx="404.1" cy="251.2" r="1.35"/><circle cx="370.7" cy="254.1" r="1.35"/><circle cx="419.2" cy="240.9" r="1.35"/><circle cx="413.9" cy="249.9" r="1.35"/><circle cx="409.8" cy="251.5" r="1.35"/><circle cx="389.5" cy="211.8" r="1.35"/><circle cx="406.6" cy="250.2" r="1.35"/><circle cx="390.8" cy="239.6" r="1.35"/><circle cx="414.8" cy="250.1" r="1.35"/><circle cx="360.1" cy="247.4" r="1.35"/><circle cx="392.7" cy="242.4" r="1.35"/><circle cx="416.8" cy="239.7" r="1.35"/><circle cx="407.5" cy="257.9" r="1.35"/><circle cx="408.5" cy="216.8" r="1.35"/><circle cx="406.7" cy="240.5" r="1.35"/><circle cx="395.3" cy="220.8" r="1.35"/><circle cx="375.2" cy="245.2" r="1.35"/><circle cx="400.9" cy="234.2" r="1.35"/><circle cx="384.3" cy="239.8" r="1.35"/><circle cx="387.3" cy="242.2" r="1.35"/><circle cx="390.0" cy="258.4" r="1.35"/><circle cx="392.0" cy="232.5" r="1.35"/><circle cx="374.5" cy="246.9" r="1.35"/><circle cx="404.7" cy="257.5" r="1.35"/><circle cx="395.8" cy="257.4" r="1.35"/><circle cx="413.4" cy="214.0" r="1.35"/><circle cx="429.9" cy="246.6" r="1.35"/><circle cx="406.1" cy="242.2" r="1.35"/><circle cx="394.3" cy="223.8" r="1.35"/><circle cx="368.0" cy="230.2" r="1.35"/><circle cx="391.5" cy="225.6" r="1.35"/><circle cx="395.9" cy="252.4" r="1.35"/><circle cx="397.5" cy="234.3" r="1.35"/><circle cx="393.1" cy="237.5" r="1.35"/><circle cx="382.7" cy="271.2" r="1.35"/><circle cx="409.1" cy="234.8" r="1.35"/><circle cx="395.2" cy="242.9" r="1.35"/><circle cx="411.6" cy="249.6" r="1.35"/><circle cx="379.3" cy="246.2" r="1.35"/><circle cx="414.4" cy="261.6" r="1.35"/><circle cx="414.5" cy="252.0" r="1.35"/><circle cx="372.0" cy="227.6" r="1.35"/><circle cx="390.6" cy="260.5" r="1.35"/><circle cx="385.8" cy="231.8" r="1.35"/><circle cx="414.5" cy="249.3" r="1.35"/><circle cx="399.9" cy="234.6" r="1.35"/><circle cx="380.5" cy="239.2" r="1.35"/><circle cx="391.8" cy="250.7" r="1.35"/><circle cx="383.3" cy="242.9" r="1.35"/><circle cx="393.0" cy="251.0" r="1.35"/><circle cx="384.5" cy="229.4" r="1.35"/><circle cx="396.4" cy="232.4" r="1.35"/><circle cx="414.7" cy="236.2" r="1.35"/><circle cx="434.5" cy="254.4" r="1.35"/><circle cx="407.4" cy="247.9" r="1.35"/><circle cx="426.8" cy="221.9" r="1.35"/><circle cx="356.2" cy="256.2" r="1.35"/><circle cx="404.7" cy="233.6" r="1.35"/><circle cx="406.1" cy="244.7" r="1.35"/><circle cx="400.8" cy="235.4" r="1.35"/><circle cx="391.0" cy="230.5" r="1.35"/><circle cx="350.5" cy="235.6" r="1.35"/><circle cx="373.2" cy="231.4" r="1.35"/><circle cx="388.2" cy="255.2" r="1.35"/><circle cx="399.3" cy="255.5" r="1.35"/><circle cx="375.5" cy="263.9" r="1.35"/><circle cx="391.9" cy="237.4" r="1.35"/><circle cx="411.4" cy="245.6" r="1.35"/><circle cx="411.8" cy="243.5" r="1.35"/><circle cx="390.7" cy="236.4" r="1.35"/><circle cx="412.0" cy="248.2" r="1.35"/><circle cx="387.9" cy="245.8" r="1.35"/><circle cx="393.9" cy="255.3" r="1.35"/><circle cx="411.5" cy="248.9" r="1.35"/><circle cx="401.0" cy="254.4" r="1.35"/><circle cx="337.9" cy="244.6" r="1.35"/>
</g>
<g fill="#0000ff" filter="url(#bl)">
<circle cx="426.0" cy="261.6" r="0.74"/><circle cx="432.8" cy="249.0" r="0.74"/><circle cx="415.7" cy="246.9" r="0.74"/><circle cx="440.0" cy="233.1" r="0.74"/><circle cx="474.3" cy="226.7" r="0.74"/><circle cx="470.9" cy="245.2" r="0.74"/><circle cx="472.5" cy="225.3" r="0.74"/><circle cx="445.4" cy="236.7" r="0.74"/><circle cx="456.4" cy="226.1" r="0.74"/><circle cx="442.1" cy="248.4" r="0.74"/><circle cx="463.6" cy="241.2" r="0.74"/><circle cx="427.8" cy="239.9" r="0.74"/><circle cx="455.0" cy="247.6" r="0.74"/><circle cx="454.3" cy="241.7" r="0.74"/><circle cx="424.6" cy="224.7" r="0.74"/><circle cx="441.7" cy="273.2" r="0.74"/><circle cx="455.7" cy="225.9" r="0.74"/><circle cx="447.8" cy="224.7" r="0.74"/><circle cx="485.0" cy="255.6" r="0.74"/><circle cx="413.0" cy="260.3" r="0.74"/><circle cx="478.4" cy="255.0" r="0.74"/><circle cx="430.1" cy="261.6" r="0.74"/><circle cx="457.1" cy="244.9" r="0.74"/><circle cx="472.7" cy="231.9" r="0.74"/><circle cx="440.4" cy="246.5" r="0.74"/><circle cx="436.8" cy="243.6" r="0.74"/><circle cx="436.5" cy="259.9" r="0.74"/><circle cx="495.1" cy="244.1" r="0.74"/><circle cx="468.6" cy="212.1" r="0.74"/><circle cx="471.2" cy="246.0" r="0.74"/><circle cx="458.1" cy="254.0" r="0.74"/><circle cx="476.7" cy="248.8" r="0.74"/><circle cx="488.7" cy="248.9" r="0.74"/><circle cx="450.8" cy="249.9" r="0.74"/><circle cx="468.3" cy="242.1" r="0.74"/><circle cx="481.7" cy="251.6" r="0.74"/><circle cx="462.3" cy="219.8" r="0.74"/><circle cx="452.8" cy="237.7" r="0.74"/><circle cx="485.3" cy="237.5" r="0.74"/><circle cx="445.8" cy="270.9" r="0.74"/><circle cx="500.0" cy="239.0" r="0.74"/><circle cx="479.7" cy="250.6" r="0.74"/><circle cx="489.7" cy="237.9" r="0.74"/><circle cx="458.0" cy="256.1" r="0.74"/><circle cx="463.7" cy="250.7" r="0.74"/><circle cx="453.1" cy="265.3" r="0.74"/><circle cx="448.3" cy="242.5" r="0.74"/><circle cx="434.7" cy="243.6" r="0.74"/><circle cx="469.0" cy="248.5" r="0.74"/><circle cx="446.0" cy="252.5" r="0.74"/><circle cx="474.0" cy="264.1" r="0.74"/><circle cx="451.7" cy="249.9" r="0.74"/><circle cx="459.7" cy="245.4" r="0.74"/><circle cx="437.3" cy="218.5" r="0.74"/><circle cx="460.3" cy="261.7" r="0.74"/><circle cx="441.2" cy="243.3" r="0.74"/><circle cx="468.1" cy="261.7" r="0.74"/><circle cx="469.9" cy="262.1" r="0.74"/><circle cx="442.9" cy="233.6" r="0.74"/><circle cx="487.6" cy="245.6" r="0.74"/><circle cx="451.6" cy="228.3" r="0.74"/><circle cx="437.9" cy="241.0" r="0.74"/><circle cx="461.3" cy="231.6" r="0.74"/><circle cx="462.5" cy="247.9" r="0.74"/><circle cx="468.1" cy="258.9" r="0.74"/><circle cx="471.7" cy="253.1" r="0.74"/><circle cx="440.8" cy="249.2" r="0.74"/><circle cx="457.9" cy="235.4" r="0.74"/><circle cx="453.3" cy="235.1" r="0.74"/><circle cx="474.6" cy="245.9" r="0.74"/><circle cx="439.6" cy="232.8" r="0.74"/><circle cx="462.1" cy="271.6" r="0.74"/><circle cx="439.4" cy="242.7" r="0.74"/><circle cx="432.6" cy="253.2" r="0.74"/><circle cx="426.5" cy="239.4" r="0.74"/><circle cx="461.4" cy="242.3" r="0.74"/><circle cx="483.0" cy="249.0" r="0.74"/><circle cx="451.9" cy="218.7" r="0.74"/><circle cx="433.8" cy="235.2" r="0.74"/><circle cx="433.6" cy="241.5" r="0.74"/><circle cx="495.0" cy="241.1" r="0.74"/><circle cx="443.3" cy="214.1" r="0.74"/><circle cx="447.4" cy="247.2" r="0.74"/><circle cx="462.6" cy="261.7" r="0.74"/><circle cx="477.1" cy="223.8" r="0.74"/><circle cx="470.7" cy="240.3" r="0.74"/><circle cx="454.5" cy="233.2" r="0.74"/><circle cx="478.8" cy="246.1" r="0.74"/><circle cx="461.7" cy="269.9" r="0.74"/><circle cx="464.8" cy="246.2" r="0.74"/><circle cx="456.5" cy="243.2" r="0.74"/><circle cx="467.4" cy="238.7" r="0.74"/><circle cx="438.6" cy="246.0" r="0.74"/><circle cx="453.9" cy="244.0" r="0.74"/><circle cx="446.5" cy="232.1" r="0.74"/><circle cx="480.5" cy="225.1" r="0.74"/><circle cx="491.2" cy="225.4" r="0.74"/><circle cx="448.9" cy="252.4" r="0.74"/><circle cx="450.0" cy="237.4" r="0.74"/><circle cx="454.8" cy="231.9" r="0.74"/><circle cx="486.7" cy="250.0" r="0.74"/><circle cx="474.7" cy="249.6" r="0.74"/><circle cx="434.5" cy="260.7" r="0.74"/><circle cx="451.4" cy="268.8" r="0.74"/><circle cx="466.1" cy="225.2" r="0.74"/><circle cx="436.3" cy="248.8" r="0.74"/><circle cx="484.8" cy="240.1" r="0.74"/><circle cx="460.6" cy="247.9" r="0.74"/><circle cx="475.4" cy="240.3" r="0.74"/><circle cx="437.7" cy="275.6" r="0.74"/><circle cx="478.7" cy="236.1" r="0.74"/><circle cx="452.4" cy="226.0" r="0.74"/><circle cx="466.3" cy="260.8" r="0.74"/><circle cx="462.3" cy="229.3" r="0.74"/><circle cx="441.0" cy="251.0" r="0.74"/><circle cx="488.3" cy="266.9" r="0.74"/><circle cx="437.6" cy="231.1" r="0.74"/><circle cx="460.7" cy="259.1" r="0.74"/><circle cx="431.1" cy="238.6" r="0.74"/><circle cx="478.9" cy="234.0" r="0.74"/><circle cx="464.5" cy="225.4" r="0.74"/><circle cx="462.7" cy="255.2" r="0.74"/><circle cx="493.5" cy="260.3" r="0.74"/><circle cx="454.7" cy="245.5" r="0.74"/><circle cx="482.7" cy="254.3" r="0.74"/><circle cx="452.2" cy="267.3" r="0.74"/><circle cx="463.2" cy="238.8" r="0.74"/><circle cx="468.8" cy="256.4" r="0.74"/><circle cx="461.4" cy="255.8" r="0.74"/><circle cx="448.5" cy="245.5" r="0.74"/><circle cx="480.3" cy="250.2" r="0.74"/><circle cx="460.2" cy="255.4" r="0.74"/><circle cx="446.9" cy="253.5" r="0.74"/><circle cx="454.2" cy="234.8" r="0.74"/><circle cx="437.2" cy="235.4" r="0.74"/><circle cx="440.0" cy="240.4" r="0.74"/><circle cx="447.1" cy="248.5" r="0.74"/><circle cx="449.9" cy="230.6" r="0.74"/><circle cx="461.4" cy="231.0" r="0.74"/><circle cx="450.3" cy="247.8" r="0.74"/><circle cx="485.6" cy="265.9" r="0.74"/><circle cx="441.0" cy="247.1" r="0.74"/><circle cx="489.3" cy="252.6" r="0.74"/><circle cx="470.9" cy="224.6" r="0.74"/><circle cx="452.5" cy="247.1" r="0.74"/><circle cx="486.6" cy="251.9" r="0.74"/><circle cx="437.8" cy="234.3" r="0.74"/><circle cx="447.4" cy="228.3" r="0.74"/><circle cx="466.3" cy="267.3" r="0.74"/><circle cx="461.7" cy="244.7" r="0.74"/><circle cx="444.8" cy="230.7" r="0.74"/><circle cx="424.9" cy="260.9" r="0.74"/><circle cx="447.8" cy="234.7" r="0.74"/><circle cx="429.0" cy="253.0" r="0.74"/><circle cx="443.8" cy="264.2" r="0.74"/><circle cx="449.6" cy="259.7" r="0.74"/><circle cx="448.4" cy="241.4" r="0.74"/><circle cx="440.1" cy="256.2" r="0.74"/><circle cx="438.7" cy="255.9" r="0.74"/><circle cx="428.2" cy="260.2" r="0.74"/><circle cx="458.5" cy="256.3" r="0.74"/><circle cx="465.8" cy="255.5" r="0.74"/><circle cx="464.6" cy="264.4" r="0.74"/><circle cx="451.5" cy="252.1" r="0.74"/><circle cx="454.9" cy="228.0" r="0.74"/><circle cx="453.4" cy="260.5" r="0.74"/><circle cx="458.6" cy="257.4" r="0.74"/><circle cx="454.4" cy="224.4" r="0.74"/><circle cx="473.8" cy="230.9" r="0.74"/><circle cx="466.5" cy="244.9" r="0.74"/><circle cx="429.2" cy="250.7" r="0.74"/><circle cx="447.4" cy="235.9" r="0.74"/><circle cx="474.9" cy="238.4" r="0.74"/><circle cx="442.8" cy="220.9" r="0.74"/><circle cx="482.5" cy="247.3" r="0.74"/><circle cx="460.7" cy="236.3" r="0.74"/><circle cx="459.0" cy="245.8" r="0.74"/><circle cx="466.0" cy="244.4" r="0.74"/><circle cx="460.8" cy="265.1" r="0.74"/><circle cx="428.3" cy="222.3" r="0.74"/><circle cx="429.9" cy="238.3" r="0.74"/><circle cx="462.9" cy="241.7" r="0.74"/><circle cx="444.7" cy="231.5" r="0.74"/><circle cx="463.4" cy="248.9" r="0.74"/><circle cx="431.9" cy="247.5" r="0.74"/><circle cx="446.4" cy="260.6" r="0.74"/><circle cx="463.9" cy="237.1" r="0.74"/><circle cx="472.1" cy="242.9" r="0.74"/><circle cx="452.9" cy="229.8" r="0.74"/><circle cx="471.1" cy="214.9" r="0.74"/><circle cx="467.5" cy="256.3" r="0.74"/><circle cx="474.8" cy="214.4" r="0.74"/><circle cx="462.5" cy="246.5" r="0.74"/><circle cx="446.9" cy="219.7" r="0.74"/><circle cx="454.4" cy="247.2" r="0.74"/><circle cx="463.2" cy="262.2" r="0.74"/><circle cx="453.0" cy="260.2" r="0.74"/><circle cx="455.3" cy="237.6" r="0.74"/><circle cx="474.6" cy="249.3" r="0.74"/><circle cx="472.7" cy="248.9" r="0.74"/><circle cx="428.4" cy="236.5" r="0.74"/><circle cx="454.4" cy="242.4" r="0.74"/><circle cx="411.1" cy="241.0" r="0.74"/><circle cx="462.7" cy="240.5" r="0.74"/><circle cx="477.0" cy="248.3" r="0.74"/><circle cx="496.9" cy="234.3" r="0.74"/><circle cx="468.3" cy="275.5" r="0.74"/><circle cx="423.2" cy="224.3" r="0.74"/><circle cx="465.7" cy="231.5" r="0.74"/><circle cx="451.9" cy="244.9" r="0.74"/><circle cx="469.4" cy="253.4" r="0.74"/><circle cx="482.7" cy="257.4" r="0.74"/><circle cx="463.1" cy="246.5" r="0.74"/><circle cx="465.6" cy="227.0" r="0.74"/><circle cx="439.3" cy="237.1" r="0.74"/><circle cx="461.7" cy="232.0" r="0.74"/><circle cx="459.2" cy="249.0" r="0.74"/><circle cx="468.7" cy="225.6" r="0.74"/><circle cx="474.4" cy="240.7" r="0.74"/><circle cx="467.4" cy="262.3" r="0.74"/><circle cx="450.1" cy="245.8" r="0.74"/><circle cx="450.2" cy="251.6" r="0.74"/><circle cx="459.0" cy="237.5" r="0.74"/><circle cx="494.5" cy="251.6" r="0.74"/><circle cx="443.5" cy="229.9" r="0.74"/><circle cx="462.6" cy="254.0" r="0.74"/><circle cx="487.2" cy="245.3" r="0.74"/><circle cx="453.9" cy="250.5" r="0.74"/><circle cx="443.2" cy="241.4" r="0.74"/><circle cx="442.5" cy="211.3" r="0.74"/><circle cx="465.6" cy="246.0" r="0.74"/><circle cx="445.6" cy="239.6" r="0.74"/><circle cx="477.2" cy="239.9" r="0.74"/><circle cx="438.8" cy="246.0" r="0.74"/><circle cx="428.6" cy="224.8" r="0.74"/><circle cx="471.3" cy="240.5" r="0.74"/><circle cx="464.3" cy="250.4" r="0.74"/><circle cx="456.5" cy="230.9" r="0.74"/><circle cx="458.3" cy="235.6" r="0.74"/><circle cx="463.0" cy="240.2" r="0.74"/><circle cx="464.8" cy="229.8" r="0.74"/><circle cx="453.9" cy="234.4" r="0.74"/><circle cx="445.0" cy="250.5" r="0.74"/><circle cx="446.4" cy="232.1" r="0.74"/><circle cx="453.8" cy="227.3" r="0.74"/><circle cx="441.0" cy="238.1" r="0.74"/><circle cx="438.6" cy="228.6" r="0.74"/><circle cx="446.9" cy="237.1" r="0.74"/><circle cx="447.0" cy="252.7" r="0.74"/><circle cx="463.7" cy="264.9" r="0.74"/><circle cx="438.0" cy="223.6" r="0.74"/><circle cx="444.6" cy="232.5" r="0.74"/><circle cx="443.9" cy="263.9" r="0.74"/><circle cx="451.9" cy="231.9" r="0.74"/><circle cx="458.8" cy="246.8" r="0.74"/><circle cx="474.6" cy="252.7" r="0.74"/><circle cx="472.2" cy="239.0" r="0.74"/><circle cx="440.8" cy="231.3" r="0.74"/><circle cx="479.2" cy="246.2" r="0.74"/><circle cx="461.2" cy="246.7" r="0.74"/><circle cx="439.0" cy="233.1" r="0.74"/><circle cx="440.9" cy="236.5" r="0.74"/><circle cx="449.4" cy="256.4" r="0.74"/><circle cx="469.8" cy="240.3" r="0.74"/><circle cx="491.9" cy="244.2" r="0.74"/><circle cx="461.5" cy="241.8" r="0.74"/><circle cx="454.4" cy="226.5" r="0.74"/><circle cx="485.8" cy="234.6" r="0.74"/><circle cx="440.9" cy="237.5" r="0.74"/><circle cx="460.0" cy="249.0" r="0.74"/><circle cx="431.2" cy="231.9" r="0.74"/><circle cx="480.5" cy="239.2" r="0.74"/><circle cx="467.1" cy="220.7" r="0.74"/><circle cx="493.6" cy="240.3" r="0.74"/><circle cx="460.7" cy="234.1" r="0.74"/><circle cx="461.7" cy="234.4" r="0.74"/><circle cx="449.7" cy="256.0" r="0.74"/><circle cx="468.1" cy="247.0" r="0.74"/><circle cx="460.8" cy="237.9" r="0.74"/><circle cx="460.7" cy="261.7" r="0.74"/><circle cx="469.1" cy="249.6" r="0.74"/><circle cx="455.0" cy="238.0" r="0.74"/><circle cx="432.7" cy="246.9" r="0.74"/><circle cx="425.9" cy="250.7" r="0.74"/><circle cx="464.5" cy="245.5" r="0.74"/><circle cx="453.1" cy="236.5" r="0.74"/><circle cx="450.7" cy="264.4" r="0.74"/><circle cx="476.7" cy="241.6" r="0.74"/><circle cx="471.5" cy="249.6" r="0.74"/><circle cx="449.5" cy="254.0" r="0.74"/><circle cx="422.7" cy="250.6" r="0.74"/><circle cx="446.2" cy="224.6" r="0.74"/><circle cx="422.7" cy="244.5" r="0.74"/><circle cx="453.3" cy="246.0" r="0.74"/><circle cx="453.6" cy="242.4" r="0.74"/><circle cx="471.4" cy="266.4" r="0.74"/><circle cx="470.9" cy="249.0" r="0.74"/><circle cx="438.2" cy="269.3" r="0.74"/><circle cx="423.0" cy="246.6" r="0.74"/><circle cx="435.4" cy="260.1" r="0.74"/><circle cx="446.6" cy="245.5" r="0.74"/><circle cx="447.0" cy="260.2" r="0.74"/><circle cx="444.2" cy="248.0" r="0.74"/><circle cx="436.7" cy="234.1" r="0.74"/><circle cx="478.3" cy="229.1" r="0.74"/><circle cx="450.0" cy="249.9" r="0.74"/><circle cx="439.4" cy="227.9" r="0.74"/><circle cx="447.4" cy="217.6" r="0.74"/><circle cx="419.6" cy="242.5" r="0.74"/><circle cx="465.0" cy="245.2" r="0.74"/><circle cx="466.5" cy="219.8" r="0.74"/><circle cx="455.5" cy="234.7" r="0.74"/><circle cx="448.3" cy="261.1" r="0.74"/><circle cx="437.5" cy="234.4" r="0.74"/><circle cx="462.1" cy="263.3" r="0.74"/><circle cx="462.1" cy="237.3" r="0.74"/><circle cx="465.3" cy="230.5" r="0.74"/><circle cx="430.7" cy="256.8" r="0.74"/><circle cx="437.7" cy="242.9" r="0.74"/><circle cx="480.2" cy="250.3" r="0.74"/><circle cx="463.1" cy="233.5" r="0.74"/><circle cx="448.8" cy="234.3" r="0.74"/><circle cx="455.0" cy="222.0" r="0.74"/><circle cx="482.2" cy="250.1" r="0.74"/><circle cx="447.7" cy="220.9" r="0.74"/><circle cx="441.9" cy="229.5" r="0.74"/><circle cx="450.2" cy="259.0" r="0.74"/><circle cx="488.4" cy="238.6" r="0.74"/><circle cx="439.1" cy="247.2" r="0.74"/><circle cx="444.5" cy="256.5" r="0.74"/><circle cx="455.7" cy="230.2" r="0.74"/><circle cx="432.4" cy="237.8" r="0.74"/><circle cx="431.6" cy="245.1" r="0.74"/><circle cx="431.7" cy="261.3" r="0.74"/><circle cx="445.1" cy="231.8" r="0.74"/><circle cx="472.0" cy="246.3" r="0.74"/><circle cx="451.4" cy="243.1" r="0.74"/><circle cx="438.1" cy="240.2" r="0.74"/><circle cx="454.7" cy="250.8" r="0.74"/><circle cx="451.4" cy="236.7" r="0.74"/><circle cx="467.3" cy="275.1" r="0.74"/><circle cx="494.5" cy="239.0" r="0.74"/><circle cx="455.3" cy="230.6" r="0.74"/><circle cx="429.3" cy="260.6" r="0.74"/><circle cx="477.0" cy="244.6" r="0.74"/><circle cx="472.8" cy="228.9" r="0.74"/><circle cx="489.7" cy="236.1" r="0.74"/><circle cx="445.6" cy="266.0" r="0.74"/><circle cx="459.4" cy="267.1" r="0.74"/><circle cx="458.1" cy="254.8" r="0.74"/><circle cx="463.8" cy="235.7" r="0.74"/><circle cx="456.3" cy="262.3" r="0.74"/><circle cx="459.6" cy="253.9" r="0.74"/><circle cx="462.5" cy="250.5" r="0.74"/><circle cx="498.8" cy="251.7" r="0.74"/><circle cx="422.4" cy="256.4" r="0.74"/><circle cx="458.4" cy="240.2" r="0.74"/><circle cx="482.1" cy="252.3" r="0.74"/><circle cx="457.1" cy="260.1" r="0.74"/><circle cx="430.7" cy="232.6" r="0.74"/><circle cx="464.3" cy="254.3" r="0.74"/><circle cx="444.0" cy="239.2" r="0.74"/><circle cx="469.1" cy="255.0" r="0.74"/><circle cx="426.1" cy="233.1" r="0.74"/><circle cx="443.7" cy="268.2" r="0.74"/><circle cx="453.5" cy="242.0" r="0.74"/><circle cx="474.2" cy="250.3" r="0.74"/><circle cx="461.9" cy="261.0" r="0.74"/><circle cx="465.3" cy="264.5" r="0.74"/><circle cx="467.8" cy="242.5" r="0.74"/><circle cx="429.5" cy="252.8" r="0.74"/><circle cx="486.8" cy="258.3" r="0.74"/><circle cx="427.2" cy="248.4" r="0.74"/><circle cx="459.9" cy="234.2" r="0.74"/><circle cx="454.3" cy="250.7" r="0.74"/><circle cx="452.7" cy="234.8" r="0.74"/><circle cx="453.7" cy="237.5" r="0.74"/><circle cx="424.7" cy="249.3" r="0.74"/><circle cx="455.3" cy="231.4" r="0.74"/><circle cx="465.2" cy="241.9" r="0.74"/><circle cx="476.4" cy="242.4" r="0.74"/><circle cx="472.1" cy="256.3" r="0.74"/><circle cx="459.3" cy="220.9" r="0.74"/><circle cx="471.2" cy="240.5" r="0.74"/><circle cx="475.3" cy="250.5" r="0.74"/><circle cx="459.3" cy="242.2" r="0.74"/><circle cx="492.2" cy="240.2" r="0.74"/><circle cx="494.7" cy="244.8" r="0.74"/><circle cx="462.1" cy="266.3" r="0.74"/><circle cx="468.6" cy="269.9" r="0.74"/><circle cx="469.4" cy="231.8" r="0.74"/><circle cx="464.5" cy="257.9" r="0.74"/><circle cx="452.1" cy="260.3" r="0.74"/><circle cx="444.2" cy="241.5" r="0.74"/><circle cx="457.2" cy="249.3" r="0.74"/><circle cx="480.6" cy="240.1" r="0.74"/><circle cx="457.0" cy="242.2" r="0.74"/><circle cx="437.7" cy="247.0" r="0.74"/><circle cx="421.5" cy="259.1" r="0.74"/><circle cx="450.4" cy="232.9" r="0.74"/><circle cx="436.8" cy="239.9" r="0.74"/><circle cx="425.1" cy="245.3" r="0.74"/><circle cx="456.9" cy="245.0" r="0.74"/><circle cx="430.6" cy="237.8" r="0.74"/><circle cx="469.2" cy="237.9" r="0.74"/><circle cx="497.7" cy="249.4" r="0.74"/><circle cx="460.2" cy="229.1" r="0.74"/><circle cx="432.7" cy="256.5" r="0.74"/><circle cx="476.7" cy="249.1" r="0.74"/><circle cx="442.5" cy="238.3" r="0.74"/><circle cx="432.5" cy="242.8" r="0.74"/><circle cx="438.3" cy="253.0" r="0.74"/><circle cx="467.8" cy="241.9" r="0.74"/><circle cx="461.5" cy="246.9" r="0.74"/><circle cx="445.0" cy="241.6" r="0.74"/><circle cx="483.6" cy="233.3" r="0.74"/><circle cx="444.3" cy="241.4" r="0.74"/><circle cx="452.6" cy="237.6" r="0.74"/><circle cx="442.7" cy="225.3" r="0.74"/><circle cx="443.2" cy="257.3" r="0.74"/><circle cx="463.5" cy="223.3" r="0.74"/><circle cx="427.1" cy="243.6" r="0.74"/><circle cx="468.7" cy="232.6" r="0.74"/><circle cx="430.4" cy="229.8" r="0.74"/><circle cx="444.3" cy="248.5" r="0.74"/><circle cx="474.6" cy="243.6" r="0.74"/><circle cx="432.9" cy="247.1" r="0.74"/><circle cx="450.4" cy="242.0" r="0.74"/><circle cx="440.4" cy="253.3" r="0.74"/><circle cx="451.2" cy="244.2" r="0.74"/><circle cx="454.1" cy="239.0" r="0.74"/><circle cx="468.6" cy="240.3" r="0.74"/><circle cx="445.2" cy="264.5" r="0.74"/><circle cx="441.0" cy="253.5" r="0.74"/><circle cx="452.1" cy="233.1" r="0.74"/><circle cx="455.1" cy="257.3" r="0.74"/><circle cx="432.7" cy="246.7" r="0.74"/><circle cx="451.5" cy="258.9" r="0.74"/><circle cx="426.5" cy="249.8" r="0.74"/><circle cx="462.9" cy="242.8" r="0.74"/><circle cx="429.8" cy="251.1" r="0.74"/><circle cx="452.3" cy="257.9" r="0.74"/><circle cx="454.2" cy="253.7" r="0.74"/><circle cx="472.3" cy="253.9" r="0.74"/><circle cx="484.8" cy="232.4" r="0.74"/><circle cx="463.0" cy="241.8" r="0.74"/><circle cx="481.7" cy="249.5" r="0.74"/><circle cx="464.2" cy="247.9" r="0.74"/><circle cx="484.4" cy="248.5" r="0.74"/><circle cx="452.4" cy="223.5" r="0.74"/><circle cx="461.3" cy="249.3" r="0.74"/><circle cx="467.0" cy="263.5" r="0.74"/><circle cx="441.2" cy="228.0" r="0.74"/><circle cx="443.1" cy="242.2" r="0.74"/><circle cx="473.2" cy="243.7" r="0.74"/><circle cx="458.0" cy="229.2" r="0.74"/><circle cx="447.4" cy="237.3" r="0.74"/><circle cx="452.1" cy="259.1" r="0.74"/><circle cx="457.8" cy="227.6" r="0.74"/><circle cx="454.0" cy="253.5" r="0.74"/><circle cx="453.3" cy="250.8" r="0.74"/><circle cx="466.2" cy="257.4" r="0.74"/><circle cx="473.2" cy="239.3" r="0.74"/><circle cx="479.0" cy="250.4" r="0.74"/><circle cx="474.0" cy="257.3" r="0.74"/><circle cx="467.9" cy="247.4" r="0.74"/><circle cx="437.1" cy="234.4" r="0.74"/><circle cx="483.2" cy="221.6" r="0.74"/><circle cx="465.3" cy="247.6" r="0.74"/><circle cx="483.6" cy="256.6" r="0.74"/><circle cx="459.7" cy="263.5" r="0.74"/><circle cx="459.7" cy="241.2" r="0.74"/><circle cx="449.9" cy="231.1" r="0.74"/><circle cx="454.9" cy="238.4" r="0.74"/><circle cx="466.8" cy="246.1" r="0.74"/><circle cx="411.2" cy="249.8" r="0.74"/><circle cx="460.0" cy="257.6" r="0.74"/><circle cx="458.0" cy="263.7" r="0.74"/><circle cx="468.2" cy="236.7" r="0.74"/><circle cx="464.2" cy="250.8" r="0.74"/><circle cx="462.2" cy="260.8" r="0.74"/><circle cx="442.9" cy="239.3" r="0.74"/><circle cx="444.7" cy="247.9" r="0.74"/><circle cx="456.4" cy="231.2" r="0.74"/><circle cx="444.7" cy="252.0" r="0.74"/><circle cx="444.1" cy="266.0" r="0.74"/><circle cx="460.0" cy="271.4" r="0.74"/><circle cx="442.0" cy="228.3" r="0.74"/><circle cx="456.7" cy="274.0" r="0.74"/><circle cx="438.5" cy="223.7" r="0.74"/><circle cx="451.3" cy="221.4" r="0.74"/><circle cx="446.4" cy="276.4" r="0.74"/><circle cx="461.0" cy="248.2" r="0.74"/><circle cx="461.3" cy="258.6" r="0.74"/><circle cx="437.0" cy="252.8" r="0.74"/><circle cx="437.1" cy="234.3" r="0.74"/><circle cx="476.2" cy="248.0" r="0.74"/><circle cx="473.1" cy="254.1" r="0.74"/><circle cx="450.6" cy="266.6" r="0.74"/><circle cx="478.7" cy="252.1" r="0.74"/>
</g>
<line x1="417.2" y1="198.1" x2="430.5" y2="293.0" stroke="#00ff00" stroke-width="1.4"/>
<path d="M306.5 198.2V293.4H523.3" fill="none" stroke="#bcbcbc" stroke-width="0.9"/>
<path d="M306.5 293.4v-2.3 M342.6 293.4v-2.3 M378.8 293.4v-2.3 M414.9 293.4v-2.3 M451.0 293.4v-2.3 M487.2 293.4v-2.3 M523.3 293.4v-2.3 M306.5 293.4h2.3 M306.5 269.6h2.3 M306.5 245.8h2.3 M306.5 222.0h2.3 M306.5 198.2h2.3" stroke="#b4b4b4" stroke-width="0.8"/>
<g font-family="DejaVu Sans, sans-serif" font-size="7.9" fill="#262626" stroke="#262626" stroke-width="0.2"><text x="306.5" y="302.8" text-anchor="middle">2</text><text x="342.6" y="302.8" text-anchor="middle">4</text><text x="378.8" y="302.8" text-anchor="middle">6</text><text x="414.9" y="302.8" text-anchor="middle">8</text><text x="451.0" y="302.8" text-anchor="middle">10</text><text x="487.2" y="302.8" text-anchor="middle">12</text><text x="523.3" y="302.8" text-anchor="middle">14</text><text x="304.0" y="296.3" text-anchor="end">6</text><text x="304.0" y="272.5" text-anchor="end">8</text><text x="304.0" y="248.7" text-anchor="end">10</text><text x="304.0" y="224.9" text-anchor="end">12</text><text x="304.0" y="201.1" text-anchor="end">14</text></g>
<text x="341.7" y="193.9" font-family="DejaVu Sans, sans-serif" font-weight="bold" font-size="8.3" fill="#000">w<tspan font-size="6.8" dy="-3.4">(1)</tspan><tspan dy="3.4">: -3.0901</tspan></text>
<text x="424.0" y="193.9" font-family="DejaVu Sans, sans-serif" font-weight="bold" font-size="8.3" fill="#000">w<tspan font-size="6.8" dy="-3.4">(2)</tspan><tspan dy="3.4">: -0.30107</tspan></text>
<text x="410.7" y="312.6" font-family="DejaVu Sans, sans-serif" font-size="8.1" fill="#262626" stroke="#262626" stroke-width="0.18">v<tspan font-size="7.1" dy="3.9">1</tspan></text>
<text transform="translate(288.2 250.1) rotate(-90)" font-family="DejaVu Sans, sans-serif" font-size="8.1" fill="#262626" stroke="#262626" stroke-width="0.18">v<tspan font-size="7.1" dy="3.9">2</tspan></text>
<g font-family="Liberation Serif, serif" fill="#000"><text x="401.18" y="337.00" font-size="14">(</text><text x="405.70" y="336.70" font-size="12.2" font-weight="bold">d</text><text x="414.05" y="337.00" font-size="14">)</text></g>
</svg></body></html>
